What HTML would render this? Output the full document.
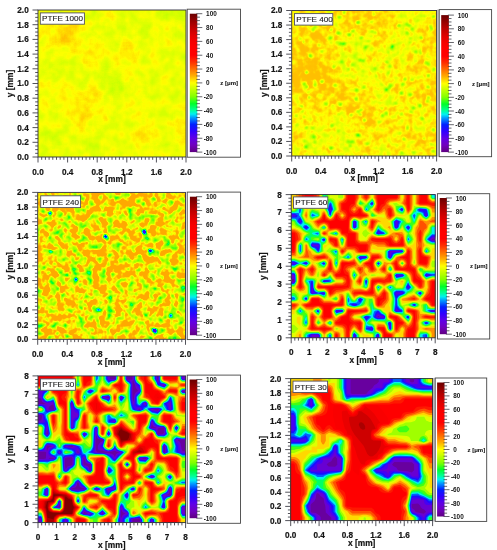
<!DOCTYPE html><html><head><meta charset="utf-8"><style>html,body{margin:0;padding:0;background:#fff;}svg{display:block}</style></head><body><svg width="497" height="550" viewBox="0 0 497 550"><defs><linearGradient id="cbg" x1="0" y1="0" x2="0" y2="1"><stop offset="0.0000" stop-color="#690000"/><stop offset="0.0250" stop-color="#800000"/><stop offset="0.0500" stop-color="#960000"/><stop offset="0.0750" stop-color="#aa0000"/><stop offset="0.1000" stop-color="#be0000"/><stop offset="0.1250" stop-color="#ce0000"/><stop offset="0.1500" stop-color="#de0000"/><stop offset="0.1750" stop-color="#ea0000"/><stop offset="0.2000" stop-color="#f50000"/><stop offset="0.2250" stop-color="#fa0000"/><stop offset="0.2500" stop-color="#ff0000"/><stop offset="0.2750" stop-color="#ff0000"/><stop offset="0.3000" stop-color="#ff0000"/><stop offset="0.3250" stop-color="#ff1800"/><stop offset="0.3500" stop-color="#ff3000"/><stop offset="0.3750" stop-color="#ff5000"/><stop offset="0.4000" stop-color="#ff7000"/><stop offset="0.4250" stop-color="#ff9000"/><stop offset="0.4500" stop-color="#ffb000"/><stop offset="0.4750" stop-color="#ffd800"/><stop offset="0.5000" stop-color="#ffff00"/><stop offset="0.5250" stop-color="#e0ff00"/><stop offset="0.5500" stop-color="#c0ff00"/><stop offset="0.5750" stop-color="#a0ff00"/><stop offset="0.6000" stop-color="#80ff00"/><stop offset="0.6250" stop-color="#40ff14"/><stop offset="0.6500" stop-color="#00ff28"/><stop offset="0.6750" stop-color="#00ff64"/><stop offset="0.7000" stop-color="#00ffa0"/><stop offset="0.7250" stop-color="#00f0f0"/><stop offset="0.7500" stop-color="#00a0ff"/><stop offset="0.7750" stop-color="#0060ff"/><stop offset="0.8000" stop-color="#0020ff"/><stop offset="0.8250" stop-color="#1810ff"/><stop offset="0.8500" stop-color="#3000ff"/><stop offset="0.8750" stop-color="#4800f2"/><stop offset="0.9000" stop-color="#6000e6"/><stop offset="0.9250" stop-color="#6800d2"/><stop offset="0.9500" stop-color="#7000be"/><stop offset="0.9750" stop-color="#68009f"/><stop offset="1.0000" stop-color="#600080"/></linearGradient></defs><rect width="497" height="550" fill="#fff"/><clipPath id="c1"><rect x="38.00" y="10.00" width="148.00" height="147.00"/></clipPath><filter id="f1" filterUnits="userSpaceOnUse" x="30.00" y="2.00" width="164.00" height="163.00" color-interpolation-filters="sRGB"><feGaussianBlur in="SourceGraphic" stdDeviation="0.80" result="b"/><feTurbulence type="fractalNoise" baseFrequency="0.100" numOctaves="2" seed="10" result="n"/><feColorMatrix in="n" type="matrix" values="1 0 0 0 0 1 0 0 0 0 1 0 0 0 0 0 0 0 0 1" result="ng"/><feComposite in="b" in2="ng" operator="arithmetic" k1="0" k2="1" k3="0.070" k4="-0.035" result="s"/><feComponentTransfer in="s"><feFuncR type="table" tableValues="0.376 0.392 0.408 0.424 0.439 0.424 0.408 0.392 0.376 0.329 0.282 0.235 0.188 0.141 0.094 0.047 0.000 0.000 0.000 0.000 0.000 0.000 0.000 0.000 0.000 0.000 0.000 0.000 0.000 0.125 0.251 0.376 0.502 0.565 0.627 0.690 0.753 0.815 0.876 0.938 1.000 1.000 1.000 1.000 1.000 1.000 1.000 1.000 1.000 1.000 1.000 1.000 1.000 1.000 1.000 1.000 1.000 1.000 1.000 1.000 1.000 1.000 1.000 1.000 1.000 1.000 1.000 1.000 1.000 1.000 1.000 1.000 1.000 1.000 1.000 1.000 1.000 1.000 1.000 1.000 1.000"/><feFuncG type="table" tableValues="0.000 0.000 0.000 0.000 0.000 0.000 0.000 0.000 0.000 0.000 0.000 0.000 0.000 0.031 0.063 0.094 0.125 0.251 0.376 0.502 0.627 0.784 0.941 0.971 1.000 1.000 1.000 1.000 1.000 1.000 1.000 1.000 1.000 1.000 1.000 1.000 1.000 1.000 1.000 1.000 1.000 0.923 0.845 0.768 0.721 0.721 0.721 0.721 0.721 0.721 0.721 0.721 0.721 0.721 0.721 0.721 0.721 0.721 0.721 0.721 0.721 0.721 0.721 0.721 0.721 0.721 0.721 0.721 0.721 0.721 0.721 0.721 0.721 0.721 0.721 0.721 0.721 0.721 0.721 0.721 0.721"/><feFuncB type="table" tableValues="0.502 0.563 0.624 0.684 0.745 0.784 0.824 0.863 0.902 0.926 0.951 0.975 1.000 1.000 1.000 1.000 1.000 1.000 1.000 1.000 1.000 0.971 0.941 0.784 0.627 0.510 0.392 0.275 0.157 0.118 0.078 0.039 0.000 0.000 0.000 0.000 0.000 0.000 0.000 0.000 0.000 0.000 0.000 0.000 0.000 0.000 0.000 0.000 0.000 0.000 0.000 0.000 0.000 0.000 0.000 0.000 0.000 0.000 0.000 0.000 0.000 0.000 0.000 0.000 0.000 0.000 0.000 0.000 0.000 0.000 0.000 0.000 0.000 0.000 0.000 0.000 0.000 0.000 0.000 0.000 0.000"/><feFuncA type="linear" slope="0" intercept="1"/></feComponentTransfer></filter><filter id="g1" filterUnits="userSpaceOnUse" x="-20" y="-20" width="188.00" height="187.00" color-interpolation-filters="sRGB"><feGaussianBlur stdDeviation="4.00"/></filter><g clip-path="url(#c1)"><g filter="url(#f1)"><g transform="translate(38.00,10.00)"><g filter="url(#g1)"><rect x="-20" y="-20" width="188.00" height="187.00" fill="#7d7d7d"/><rect x="-20.00" y="-20.00" width="81.97" height="32.55" fill="#7c7c7c"/><rect x="61.67" y="-20.00" width="12.63" height="32.55" fill="#808080"/><rect x="74.00" y="-20.00" width="49.63" height="32.55" fill="#7c7c7c"/><rect x="123.33" y="-20.00" width="44.97" height="32.55" fill="#787878"/><rect x="-20.00" y="12.25" width="32.63" height="12.55" fill="#808080"/><rect x="12.33" y="12.25" width="12.63" height="12.55" fill="#848484"/><rect x="24.67" y="12.25" width="12.63" height="12.55" fill="#888888"/><rect x="37.00" y="12.25" width="12.63" height="12.55" fill="#808080"/><rect x="49.33" y="12.25" width="24.97" height="12.55" fill="#7c7c7c"/><rect x="74.00" y="12.25" width="12.63" height="12.55" fill="#787878"/><rect x="86.33" y="12.25" width="12.63" height="12.55" fill="#7c7c7c"/><rect x="98.67" y="12.25" width="12.63" height="12.55" fill="#787878"/><rect x="111.00" y="12.25" width="12.63" height="12.55" fill="#7c7c7c"/><rect x="123.33" y="12.25" width="12.63" height="12.55" fill="#808080"/><rect x="135.67" y="12.25" width="32.63" height="12.55" fill="#7c7c7c"/><rect x="-20.00" y="24.50" width="32.63" height="12.55" fill="#808080"/><rect x="12.33" y="24.50" width="12.63" height="12.55" fill="#848484"/><rect x="24.67" y="24.50" width="12.63" height="12.55" fill="#888888"/><rect x="37.00" y="24.50" width="24.97" height="12.55" fill="#808080"/><rect x="61.67" y="24.50" width="24.97" height="12.55" fill="#7c7c7c"/><rect x="86.33" y="24.50" width="12.63" height="12.55" fill="#808080"/><rect x="98.67" y="24.50" width="24.97" height="12.55" fill="#7c7c7c"/><rect x="123.33" y="24.50" width="12.63" height="12.55" fill="#808080"/><rect x="135.67" y="24.50" width="32.63" height="12.55" fill="#7c7c7c"/><rect x="-20.00" y="36.75" width="57.30" height="12.55" fill="#7c7c7c"/><rect x="37.00" y="36.75" width="12.63" height="12.55" fill="#808080"/><rect x="49.33" y="36.75" width="12.63" height="12.55" fill="#848484"/><rect x="61.67" y="36.75" width="12.63" height="12.55" fill="#7c7c7c"/><rect x="74.00" y="36.75" width="12.63" height="12.55" fill="#808080"/><rect x="86.33" y="36.75" width="12.63" height="12.55" fill="#848484"/><rect x="98.67" y="36.75" width="69.63" height="12.55" fill="#7c7c7c"/><rect x="-20.00" y="49.00" width="32.63" height="12.55" fill="#7c7c7c"/><rect x="12.33" y="49.00" width="12.63" height="12.55" fill="#787878"/><rect x="24.67" y="49.00" width="24.97" height="12.55" fill="#7c7c7c"/><rect x="49.33" y="49.00" width="12.63" height="12.55" fill="#808080"/><rect x="61.67" y="49.00" width="12.63" height="12.55" fill="#7c7c7c"/><rect x="74.00" y="49.00" width="24.97" height="12.55" fill="#808080"/><rect x="98.67" y="49.00" width="69.63" height="12.55" fill="#7c7c7c"/><rect x="-20.00" y="61.25" width="44.97" height="12.55" fill="#7c7c7c"/><rect x="24.67" y="61.25" width="12.63" height="12.55" fill="#787878"/><rect x="37.00" y="61.25" width="24.97" height="12.55" fill="#7c7c7c"/><rect x="61.67" y="61.25" width="24.97" height="12.55" fill="#787878"/><rect x="86.33" y="61.25" width="12.63" height="12.55" fill="#808080"/><rect x="98.67" y="61.25" width="69.63" height="12.55" fill="#7c7c7c"/><rect x="-20.00" y="73.50" width="57.30" height="12.55" fill="#808080"/><rect x="37.00" y="73.50" width="12.63" height="12.55" fill="#7c7c7c"/><rect x="49.33" y="73.50" width="12.63" height="12.55" fill="#848484"/><rect x="61.67" y="73.50" width="12.63" height="12.55" fill="#787878"/><rect x="74.00" y="73.50" width="12.63" height="12.55" fill="#737373"/><rect x="86.33" y="73.50" width="12.63" height="12.55" fill="#7c7c7c"/><rect x="98.67" y="73.50" width="12.63" height="12.55" fill="#808080"/><rect x="111.00" y="73.50" width="57.30" height="12.55" fill="#7c7c7c"/><rect x="-20.00" y="85.75" width="32.63" height="12.55" fill="#7c7c7c"/><rect x="12.33" y="85.75" width="24.97" height="12.55" fill="#808080"/><rect x="37.00" y="85.75" width="24.97" height="12.55" fill="#848484"/><rect x="61.67" y="85.75" width="12.63" height="12.55" fill="#808080"/><rect x="74.00" y="85.75" width="12.63" height="12.55" fill="#7c7c7c"/><rect x="86.33" y="85.75" width="12.63" height="12.55" fill="#808080"/><rect x="98.67" y="85.75" width="69.63" height="12.55" fill="#7c7c7c"/><rect x="-20.00" y="98.00" width="44.97" height="12.55" fill="#7c7c7c"/><rect x="24.67" y="98.00" width="12.63" height="12.55" fill="#808080"/><rect x="37.00" y="98.00" width="12.63" height="12.55" fill="#848484"/><rect x="49.33" y="98.00" width="24.97" height="12.55" fill="#808080"/><rect x="74.00" y="98.00" width="24.97" height="12.55" fill="#7c7c7c"/><rect x="98.67" y="98.00" width="12.63" height="12.55" fill="#808080"/><rect x="111.00" y="98.00" width="24.97" height="12.55" fill="#7c7c7c"/><rect x="135.67" y="98.00" width="32.63" height="12.55" fill="#808080"/><rect x="-20.00" y="110.25" width="57.30" height="12.55" fill="#7c7c7c"/><rect x="37.00" y="110.25" width="12.63" height="12.55" fill="#848484"/><rect x="49.33" y="110.25" width="49.63" height="12.55" fill="#7c7c7c"/><rect x="98.67" y="110.25" width="12.63" height="12.55" fill="#848484"/><rect x="111.00" y="110.25" width="24.97" height="12.55" fill="#7c7c7c"/><rect x="135.67" y="110.25" width="32.63" height="12.55" fill="#848484"/><rect x="-20.00" y="122.50" width="32.63" height="12.55" fill="#7c7c7c"/><rect x="12.33" y="122.50" width="12.63" height="12.55" fill="#787878"/><rect x="24.67" y="122.50" width="24.97" height="12.55" fill="#7c7c7c"/><rect x="49.33" y="122.50" width="12.63" height="12.55" fill="#787878"/><rect x="61.67" y="122.50" width="37.30" height="12.55" fill="#7c7c7c"/><rect x="98.67" y="122.50" width="12.63" height="12.55" fill="#848484"/><rect x="111.00" y="122.50" width="12.63" height="12.55" fill="#808080"/><rect x="123.33" y="122.50" width="12.63" height="12.55" fill="#7c7c7c"/><rect x="135.67" y="122.50" width="32.63" height="12.55" fill="#808080"/><rect x="-20.00" y="134.75" width="69.63" height="32.55" fill="#7c7c7c"/><rect x="49.33" y="134.75" width="12.63" height="32.55" fill="#787878"/><rect x="61.67" y="134.75" width="37.30" height="32.55" fill="#7c7c7c"/><rect x="98.67" y="134.75" width="12.63" height="32.55" fill="#808080"/><rect x="111.00" y="134.75" width="57.30" height="32.55" fill="#7c7c7c"/></g></g></g></g><rect x="38.00" y="10.00" width="148.00" height="147.00" fill="none" stroke="#303040" stroke-width="0.9"/><path d="M38.00 157.00v5.50M38.00 157.00h-5.50M41.70 157.00v2.80M38.00 153.32h-2.80M45.40 157.00v2.80M38.00 149.65h-2.80M49.10 157.00v2.80M38.00 145.97h-2.80M52.80 157.00v2.80M38.00 142.30h-5.50M56.50 157.00v2.80M38.00 138.62h-2.80M60.20 157.00v2.80M38.00 134.95h-2.80M63.90 157.00v2.80M38.00 131.28h-2.80M67.60 157.00v5.50M38.00 127.60h-5.50M71.30 157.00v2.80M38.00 123.92h-2.80M75.00 157.00v2.80M38.00 120.25h-2.80M78.70 157.00v2.80M38.00 116.57h-2.80M82.40 157.00v2.80M38.00 112.90h-5.50M86.10 157.00v2.80M38.00 109.22h-2.80M89.80 157.00v2.80M38.00 105.55h-2.80M93.50 157.00v2.80M38.00 101.88h-2.80M97.20 157.00v5.50M38.00 98.20h-5.50M100.90 157.00v2.80M38.00 94.52h-2.80M104.60 157.00v2.80M38.00 90.85h-2.80M108.30 157.00v2.80M38.00 87.17h-2.80M112.00 157.00v2.80M38.00 83.50h-5.50M115.70 157.00v2.80M38.00 79.83h-2.80M119.40 157.00v2.80M38.00 76.15h-2.80M123.10 157.00v2.80M38.00 72.47h-2.80M126.80 157.00v5.50M38.00 68.80h-5.50M130.50 157.00v2.80M38.00 65.12h-2.80M134.20 157.00v2.80M38.00 61.45h-2.80M137.90 157.00v2.80M38.00 57.77h-2.80M141.60 157.00v2.80M38.00 54.10h-5.50M145.30 157.00v2.80M38.00 50.42h-2.80M149.00 157.00v2.80M38.00 46.75h-2.80M152.70 157.00v2.80M38.00 43.08h-2.80M156.40 157.00v5.50M38.00 39.40h-5.50M160.10 157.00v2.80M38.00 35.72h-2.80M163.80 157.00v2.80M38.00 32.05h-2.80M167.50 157.00v2.80M38.00 28.38h-2.80M171.20 157.00v2.80M38.00 24.70h-5.50M174.90 157.00v2.80M38.00 21.03h-2.80M178.60 157.00v2.80M38.00 17.35h-2.80M182.30 157.00v2.80M38.00 13.67h-2.80M186.00 157.00v5.50M38.00 10.00h-5.50" stroke="#404048" stroke-width="0.9" fill="none"/><g font-family="'Liberation Sans', Arial, sans-serif" font-weight="bold" font-size="8.2" fill="#151515" stroke="#151515" stroke-width="0.2"><text x="38.00" y="174.50" text-anchor="middle">0.0</text><text x="67.60" y="174.50" text-anchor="middle">0.4</text><text x="97.20" y="174.50" text-anchor="middle">0.8</text><text x="126.80" y="174.50" text-anchor="middle">1.2</text><text x="156.40" y="174.50" text-anchor="middle">1.6</text><text x="186.00" y="174.50" text-anchor="middle">2.0</text><text x="28.70" y="159.90" text-anchor="end">0.0</text><text x="28.70" y="145.20" text-anchor="end">0.2</text><text x="28.70" y="130.50" text-anchor="end">0.4</text><text x="28.70" y="115.80" text-anchor="end">0.6</text><text x="28.70" y="101.10" text-anchor="end">0.8</text><text x="28.70" y="86.40" text-anchor="end">1.0</text><text x="28.70" y="71.70" text-anchor="end">1.2</text><text x="28.70" y="57.00" text-anchor="end">1.4</text><text x="28.70" y="42.30" text-anchor="end">1.6</text><text x="28.70" y="27.60" text-anchor="end">1.8</text><text x="28.70" y="12.90" text-anchor="end">2.0</text></g><text x="112.00" y="182.20" text-anchor="middle" font-family="'Liberation Sans', Arial, sans-serif" font-weight="bold" font-size="8.4" fill="#151515" stroke="#151515" stroke-width="0.2">x [mm]</text><text transform="translate(13.20,83.50) rotate(-90)" text-anchor="middle" font-family="'Liberation Sans', Arial, sans-serif" font-weight="bold" font-size="8.4" fill="#151515" stroke="#151515" stroke-width="0.2">y [mm]</text><rect x="40.30" y="12.90" width="44.10" height="11.30" fill="#fff" stroke="#505060" stroke-width="0.9"/><text x="42.10" y="21.30" font-family="'Liberation Sans', Arial, sans-serif" font-size="8.1" fill="#202020" stroke="#202020" stroke-width="0.12">PTFE 1000</text><rect x="187.20" y="9.20" width="53.30" height="148.00" fill="#fff" stroke="#454545" stroke-width="0.9"/><rect x="189.80" y="13.70" width="7.50" height="138.40" fill="url(#cbg)"/><path d="M196.30 13.70h6.00M196.30 17.16h3.60M196.30 20.62h3.60M196.30 24.08h3.60M196.30 27.54h6.00M196.30 31.00h3.60M196.30 34.46h3.60M196.30 37.92h3.60M196.30 41.38h6.00M196.30 44.84h3.60M196.30 48.30h3.60M196.30 51.76h3.60M196.30 55.22h6.00M196.30 58.68h3.60M196.30 62.14h3.60M196.30 65.60h3.60M196.30 69.06h6.00M196.30 72.52h3.60M196.30 75.98h3.60M196.30 79.44h3.60M196.30 82.90h6.00M196.30 86.36h3.60M196.30 89.82h3.60M196.30 93.28h3.60M196.30 96.74h6.00M196.30 100.20h3.60M196.30 103.66h3.60M196.30 107.12h3.60M196.30 110.58h6.00M196.30 114.04h3.60M196.30 117.50h3.60M196.30 120.96h3.60M196.30 124.42h6.00M196.30 127.88h3.60M196.30 131.34h3.60M196.30 134.80h3.60M196.30 138.26h6.00M196.30 141.72h3.60M196.30 145.18h3.60M196.30 148.64h3.60M196.30 152.10h6.00" stroke="#404048" stroke-width="0.8" fill="none"/><g font-family="'Liberation Sans', Arial, sans-serif" font-weight="bold" font-size="6.4" fill="#151515"><text x="206.10" y="16.20">100</text><text x="206.10" y="30.04">80</text><text x="206.10" y="43.88">60</text><text x="206.10" y="57.72">40</text><text x="206.10" y="71.56">20</text><text x="206.10" y="85.40">0</text><text x="203.70" y="99.24">-20</text><text x="203.70" y="113.08">-40</text><text x="203.70" y="126.92">-60</text><text x="203.70" y="140.76">-80</text><text x="203.70" y="154.60">-100</text></g><text x="220.30" y="85.00" font-family="'Liberation Sans', Arial, sans-serif" font-weight="bold" font-size="6.0" fill="#151515" stroke="#151515" stroke-width="0.1">z [μm]</text><clipPath id="c2"><rect x="291.70" y="10.50" width="144.90" height="145.50"/></clipPath><filter id="f2" filterUnits="userSpaceOnUse" x="283.70" y="2.50" width="160.90" height="161.50" color-interpolation-filters="sRGB"><feGaussianBlur in="SourceGraphic" stdDeviation="0.80" result="b"/><feTurbulence type="fractalNoise" baseFrequency="0.150" numOctaves="2" seed="17" result="n"/><feColorMatrix in="n" type="matrix" values="1 0 0 0 0 1 0 0 0 0 1 0 0 0 0 0 0 0 0 1" result="ng"/><feComposite in="b" in2="ng" operator="arithmetic" k1="0" k2="1" k3="0.120" k4="-0.060" result="s"/><feComponentTransfer in="s"><feFuncR type="table" tableValues="0.376 0.392 0.408 0.424 0.439 0.424 0.408 0.392 0.376 0.329 0.282 0.235 0.188 0.141 0.094 0.047 0.000 0.000 0.000 0.000 0.000 0.000 0.000 0.000 0.000 0.000 0.000 0.000 0.000 0.125 0.251 0.376 0.502 0.565 0.627 0.690 0.753 0.815 0.876 0.938 1.000 1.000 1.000 1.000 1.000 1.000 1.000 1.000 1.000 1.000 1.000 1.000 1.000 1.000 1.000 1.000 1.000 1.000 1.000 1.000 1.000 1.000 1.000 1.000 1.000 1.000 1.000 1.000 1.000 1.000 1.000 1.000 1.000 1.000 1.000 1.000 1.000 1.000 1.000 1.000 1.000"/><feFuncG type="table" tableValues="0.000 0.000 0.000 0.000 0.000 0.000 0.000 0.000 0.000 0.000 0.000 0.000 0.000 0.031 0.063 0.094 0.125 0.251 0.376 0.502 0.627 0.784 0.941 0.971 1.000 1.000 1.000 1.000 1.000 1.000 1.000 1.000 1.000 1.000 1.000 1.000 1.000 1.000 1.000 1.000 1.000 0.923 0.845 0.768 0.752 0.752 0.752 0.752 0.752 0.752 0.752 0.752 0.752 0.752 0.752 0.752 0.752 0.752 0.752 0.752 0.752 0.752 0.752 0.752 0.752 0.752 0.752 0.752 0.752 0.752 0.752 0.752 0.752 0.752 0.752 0.752 0.752 0.752 0.752 0.752 0.752"/><feFuncB type="table" tableValues="0.502 0.563 0.624 0.684 0.745 0.784 0.824 0.863 0.902 0.926 0.951 0.975 1.000 1.000 1.000 1.000 1.000 1.000 1.000 1.000 1.000 0.971 0.941 0.784 0.627 0.510 0.392 0.275 0.157 0.118 0.078 0.039 0.000 0.000 0.000 0.000 0.000 0.000 0.000 0.000 0.000 0.000 0.000 0.000 0.000 0.000 0.000 0.000 0.000 0.000 0.000 0.000 0.000 0.000 0.000 0.000 0.000 0.000 0.000 0.000 0.000 0.000 0.000 0.000 0.000 0.000 0.000 0.000 0.000 0.000 0.000 0.000 0.000 0.000 0.000 0.000 0.000 0.000 0.000 0.000 0.000"/><feFuncA type="linear" slope="0" intercept="1"/></feComponentTransfer></filter><filter id="g2" filterUnits="userSpaceOnUse" x="-20" y="-20" width="184.90" height="185.50" color-interpolation-filters="sRGB"><feGaussianBlur stdDeviation="5.00"/></filter><g clip-path="url(#c2)"><g filter="url(#f2)"><g transform="translate(291.70,10.50)"><g filter="url(#g2)"><rect x="-20" y="-20" width="184.90" height="185.50" fill="#838383"/><rect x="-20.00" y="-20.00" width="68.60" height="32.42" fill="#828282"/><rect x="48.30" y="-20.00" width="24.45" height="32.42" fill="#878787"/><rect x="72.45" y="-20.00" width="12.38" height="32.42" fill="#828282"/><rect x="84.53" y="-20.00" width="12.38" height="32.42" fill="#878787"/><rect x="96.60" y="-20.00" width="12.38" height="32.42" fill="#828282"/><rect x="108.68" y="-20.00" width="24.45" height="32.42" fill="#7d7d7d"/><rect x="132.83" y="-20.00" width="32.38" height="32.42" fill="#828282"/><rect x="-20.00" y="12.12" width="32.38" height="12.43" fill="#828282"/><rect x="12.08" y="12.12" width="24.45" height="12.43" fill="#878787"/><rect x="36.23" y="12.12" width="24.45" height="12.43" fill="#828282"/><rect x="60.38" y="12.12" width="36.53" height="12.43" fill="#878787"/><rect x="96.60" y="12.12" width="12.38" height="12.43" fill="#828282"/><rect x="108.68" y="12.12" width="12.38" height="12.43" fill="#7d7d7d"/><rect x="120.75" y="12.12" width="12.38" height="12.43" fill="#828282"/><rect x="132.83" y="12.12" width="32.38" height="12.43" fill="#878787"/><rect x="-20.00" y="24.25" width="56.53" height="12.43" fill="#878787"/><rect x="36.23" y="24.25" width="24.45" height="12.43" fill="#828282"/><rect x="60.38" y="24.25" width="24.45" height="12.43" fill="#7d7d7d"/><rect x="84.53" y="24.25" width="12.38" height="12.43" fill="#828282"/><rect x="96.60" y="24.25" width="24.45" height="12.43" fill="#7d7d7d"/><rect x="120.75" y="24.25" width="12.38" height="12.43" fill="#828282"/><rect x="132.83" y="24.25" width="32.38" height="12.43" fill="#878787"/><rect x="-20.00" y="36.38" width="44.45" height="12.43" fill="#878787"/><rect x="24.15" y="36.38" width="24.45" height="12.43" fill="#828282"/><rect x="48.30" y="36.38" width="24.45" height="12.43" fill="#7d7d7d"/><rect x="72.45" y="36.38" width="24.45" height="12.43" fill="#828282"/><rect x="96.60" y="36.38" width="24.45" height="12.43" fill="#7d7d7d"/><rect x="120.75" y="36.38" width="44.45" height="12.43" fill="#828282"/><rect x="-20.00" y="48.50" width="32.38" height="12.43" fill="#878787"/><rect x="12.08" y="48.50" width="12.38" height="12.43" fill="#8c8c8c"/><rect x="24.15" y="48.50" width="12.38" height="12.43" fill="#878787"/><rect x="36.23" y="48.50" width="12.38" height="12.43" fill="#828282"/><rect x="48.30" y="48.50" width="48.60" height="12.43" fill="#7d7d7d"/><rect x="96.60" y="48.50" width="24.45" height="12.43" fill="#828282"/><rect x="120.75" y="48.50" width="12.38" height="12.43" fill="#878787"/><rect x="132.83" y="48.50" width="32.38" height="12.43" fill="#828282"/><rect x="-20.00" y="60.62" width="56.53" height="12.43" fill="#8c8c8c"/><rect x="36.23" y="60.62" width="12.38" height="12.43" fill="#878787"/><rect x="48.30" y="60.62" width="12.38" height="12.43" fill="#828282"/><rect x="60.38" y="60.62" width="24.45" height="12.43" fill="#7d7d7d"/><rect x="84.53" y="60.62" width="80.68" height="12.43" fill="#828282"/><rect x="-20.00" y="72.75" width="68.60" height="12.43" fill="#878787"/><rect x="48.30" y="72.75" width="36.53" height="12.43" fill="#828282"/><rect x="84.53" y="72.75" width="12.38" height="12.43" fill="#7d7d7d"/><rect x="96.60" y="72.75" width="36.53" height="12.43" fill="#828282"/><rect x="132.83" y="72.75" width="32.38" height="12.43" fill="#878787"/><rect x="-20.00" y="84.88" width="32.38" height="12.43" fill="#828282"/><rect x="12.08" y="84.88" width="12.38" height="12.43" fill="#878787"/><rect x="24.15" y="84.88" width="12.38" height="12.43" fill="#828282"/><rect x="36.23" y="84.88" width="36.53" height="12.43" fill="#878787"/><rect x="72.45" y="84.88" width="12.38" height="12.43" fill="#828282"/><rect x="84.53" y="84.88" width="24.45" height="12.43" fill="#7d7d7d"/><rect x="108.68" y="84.88" width="24.45" height="12.43" fill="#828282"/><rect x="132.83" y="84.88" width="32.38" height="12.43" fill="#878787"/><rect x="-20.00" y="97.00" width="80.68" height="12.43" fill="#828282"/><rect x="60.38" y="97.00" width="24.45" height="12.43" fill="#878787"/><rect x="84.53" y="97.00" width="80.68" height="12.43" fill="#828282"/><rect x="-20.00" y="109.12" width="44.45" height="12.43" fill="#828282"/><rect x="24.15" y="109.12" width="36.53" height="12.43" fill="#7d7d7d"/><rect x="60.38" y="109.12" width="12.38" height="12.43" fill="#828282"/><rect x="72.45" y="109.12" width="12.38" height="12.43" fill="#878787"/><rect x="84.53" y="109.12" width="36.53" height="12.43" fill="#828282"/><rect x="120.75" y="109.12" width="12.38" height="12.43" fill="#7d7d7d"/><rect x="132.83" y="109.12" width="32.38" height="12.43" fill="#828282"/><rect x="-20.00" y="121.25" width="32.38" height="12.43" fill="#828282"/><rect x="12.08" y="121.25" width="48.60" height="12.43" fill="#7d7d7d"/><rect x="60.38" y="121.25" width="60.68" height="12.43" fill="#828282"/><rect x="120.75" y="121.25" width="44.45" height="12.43" fill="#878787"/><rect x="-20.00" y="133.38" width="32.38" height="32.42" fill="#828282"/><rect x="12.08" y="133.38" width="24.45" height="32.42" fill="#7d7d7d"/><rect x="36.23" y="133.38" width="12.38" height="32.42" fill="#828282"/><rect x="48.30" y="133.38" width="12.38" height="32.42" fill="#7d7d7d"/><rect x="60.38" y="133.38" width="24.45" height="32.42" fill="#828282"/><rect x="84.53" y="133.38" width="12.38" height="32.42" fill="#7d7d7d"/><rect x="96.60" y="133.38" width="12.38" height="32.42" fill="#828282"/><rect x="108.68" y="133.38" width="12.38" height="32.42" fill="#7d7d7d"/><rect x="120.75" y="133.38" width="44.45" height="32.42" fill="#828282"/></g><ellipse cx="47.7" cy="23.3" rx="1.5" ry="1.2" fill="#5c5c5c"/><ellipse cx="117.8" cy="15.3" rx="1.4" ry="1.2" fill="#4c4c4c"/><ellipse cx="32.3" cy="14.1" rx="1.4" ry="1.1" fill="#575757"/><ellipse cx="14.8" cy="61.9" rx="1.6" ry="1.3" fill="#5c5c5c"/><ellipse cx="135.6" cy="90.9" rx="1.4" ry="1.2" fill="#5c5c5c"/><ellipse cx="83.4" cy="57.9" rx="1.7" ry="1.3" fill="#5c5c5c"/><ellipse cx="80.5" cy="20.8" rx="1.4" ry="1.1" fill="#4c4c4c"/><ellipse cx="18.6" cy="45.5" rx="1.6" ry="1.3" fill="#575757"/><ellipse cx="16.5" cy="82.5" rx="1.2" ry="1.0" fill="#5c5c5c"/><ellipse cx="79.2" cy="10.9" rx="1.1" ry="0.9" fill="#575757"/><ellipse cx="72.0" cy="77.0" rx="1.6" ry="1.3" fill="#535353"/><ellipse cx="84.6" cy="65.9" rx="1.3" ry="1.0" fill="#575757"/><ellipse cx="100.6" cy="36.4" rx="1.4" ry="1.2" fill="#4c4c4c"/><ellipse cx="71.8" cy="50.4" rx="1.4" ry="1.1" fill="#4c4c4c"/><ellipse cx="140.2" cy="18.6" rx="1.4" ry="1.1" fill="#535353"/><ellipse cx="23.4" cy="70.9" rx="1.1" ry="0.9" fill="#5c5c5c"/><ellipse cx="109.8" cy="82.8" rx="1.6" ry="1.3" fill="#535353"/><ellipse cx="50.0" cy="51.4" rx="1.4" ry="1.1" fill="#535353"/><ellipse cx="11.7" cy="15.2" rx="1.3" ry="1.0" fill="#5c5c5c"/><ellipse cx="10.6" cy="100.9" rx="1.5" ry="1.2" fill="#535353"/><ellipse cx="42.1" cy="56.4" rx="1.5" ry="1.2" fill="#5c5c5c"/><ellipse cx="134.6" cy="52.1" rx="1.5" ry="1.2" fill="#535353"/><ellipse cx="10.3" cy="110.3" rx="1.2" ry="0.9" fill="#575757"/><ellipse cx="58.1" cy="131.3" rx="1.4" ry="1.1" fill="#575757"/><ellipse cx="65.3" cy="79.5" rx="1.6" ry="1.3" fill="#535353"/><ellipse cx="123.8" cy="41.3" rx="1.3" ry="1.1" fill="#535353"/><ellipse cx="98.3" cy="55.6" rx="1.2" ry="1.0" fill="#5c5c5c"/><ellipse cx="26.8" cy="34.7" rx="1.2" ry="1.0" fill="#535353"/><ellipse cx="119.2" cy="27.7" rx="1.3" ry="1.0" fill="#575757"/><ellipse cx="61.1" cy="54.1" rx="1.4" ry="1.2" fill="#575757"/><ellipse cx="99.4" cy="74.7" rx="1.5" ry="1.2" fill="#5c5c5c"/><ellipse cx="66.4" cy="124.8" rx="1.7" ry="1.3" fill="#4c4c4c"/><ellipse cx="57.3" cy="58.3" rx="1.2" ry="0.9" fill="#535353"/><ellipse cx="10.8" cy="11.5" rx="1.2" ry="1.0" fill="#575757"/><ellipse cx="17.5" cy="86.7" rx="1.2" ry="0.9" fill="#4c4c4c"/><ellipse cx="23.3" cy="16.3" rx="1.3" ry="1.1" fill="#5c5c5c"/><ellipse cx="11.9" cy="31.3" rx="1.3" ry="1.1" fill="#535353"/><ellipse cx="136.7" cy="86.9" rx="1.4" ry="1.1" fill="#5c5c5c"/><ellipse cx="121.7" cy="142.0" rx="1.4" ry="1.1" fill="#535353"/><ellipse cx="46.0" cy="22.3" rx="1.5" ry="1.2" fill="#535353"/><ellipse cx="69.5" cy="99.6" rx="1.4" ry="1.1" fill="#575757"/><ellipse cx="136.1" cy="76.5" rx="1.2" ry="1.0" fill="#4c4c4c"/><ellipse cx="130.9" cy="108.9" rx="1.3" ry="1.0" fill="#5c5c5c"/><ellipse cx="100.2" cy="38.8" rx="1.3" ry="1.1" fill="#575757"/><ellipse cx="52.2" cy="33.4" rx="1.4" ry="1.1" fill="#4c4c4c"/><ellipse cx="48.5" cy="33.4" rx="1.6" ry="1.3" fill="#575757"/><ellipse cx="115.7" cy="117.4" rx="1.5" ry="1.2" fill="#575757"/><ellipse cx="30.2" cy="71.5" rx="1.5" ry="1.2" fill="#5c5c5c"/><ellipse cx="113.4" cy="68.6" rx="1.2" ry="1.0" fill="#4c4c4c"/><ellipse cx="136.9" cy="65.1" rx="1.7" ry="1.3" fill="#535353"/><ellipse cx="136.7" cy="53.4" rx="1.2" ry="1.0" fill="#575757"/><ellipse cx="68.3" cy="49.6" rx="1.4" ry="1.1" fill="#4c4c4c"/><ellipse cx="120.5" cy="69.6" rx="1.5" ry="1.2" fill="#5c5c5c"/><ellipse cx="119.7" cy="18.9" rx="1.3" ry="1.1" fill="#575757"/><ellipse cx="69.4" cy="27.2" rx="1.6" ry="1.3" fill="#535353"/><ellipse cx="14.2" cy="135.4" rx="1.5" ry="1.2" fill="#535353"/><ellipse cx="58.6" cy="135.5" rx="1.5" ry="1.2" fill="#575757"/><ellipse cx="142.0" cy="5.9" rx="1.5" ry="1.2" fill="#535353"/><ellipse cx="115.7" cy="22.6" rx="1.6" ry="1.3" fill="#535353"/><ellipse cx="94.7" cy="51.4" rx="1.4" ry="1.1" fill="#575757"/><ellipse cx="5.0" cy="114.7" rx="1.5" ry="1.2" fill="#5c5c5c"/><ellipse cx="76.2" cy="133.6" rx="1.4" ry="1.1" fill="#575757"/><ellipse cx="118.5" cy="31.8" rx="1.3" ry="1.0" fill="#535353"/><ellipse cx="72.7" cy="109.7" rx="1.3" ry="1.0" fill="#4c4c4c"/><ellipse cx="61.1" cy="20.5" rx="1.6" ry="1.3" fill="#535353"/><ellipse cx="128.6" cy="95.4" rx="1.6" ry="1.3" fill="#4c4c4c"/><ellipse cx="61.3" cy="131.4" rx="1.4" ry="1.1" fill="#4c4c4c"/><ellipse cx="23.4" cy="74.0" rx="1.6" ry="1.3" fill="#575757"/><ellipse cx="87.8" cy="111.4" rx="1.2" ry="1.0" fill="#575757"/><ellipse cx="68.8" cy="104.3" rx="1.4" ry="1.1" fill="#535353"/><ellipse cx="98.2" cy="76.8" rx="1.4" ry="1.1" fill="#5c5c5c"/><ellipse cx="126.5" cy="10.0" rx="1.2" ry="1.0" fill="#5c5c5c"/><ellipse cx="110.9" cy="73.6" rx="1.4" ry="1.1" fill="#5c5c5c"/><ellipse cx="64.5" cy="88.4" rx="1.4" ry="1.1" fill="#4c4c4c"/><ellipse cx="30.1" cy="41.1" rx="1.4" ry="1.1" fill="#535353"/><ellipse cx="73.6" cy="36.9" rx="1.4" ry="1.1" fill="#535353"/><ellipse cx="132.1" cy="127.9" rx="1.2" ry="1.0" fill="#535353"/><ellipse cx="21.3" cy="19.1" rx="1.4" ry="1.1" fill="#5c5c5c"/><ellipse cx="96.6" cy="62.4" rx="1.2" ry="1.0" fill="#535353"/><ellipse cx="112.5" cy="128.5" rx="1.2" ry="1.0" fill="#535353"/><ellipse cx="22.2" cy="126.5" rx="1.7" ry="1.3" fill="#575757"/><ellipse cx="107.3" cy="15.3" rx="1.6" ry="1.3" fill="#575757"/><ellipse cx="141.6" cy="119.4" rx="1.2" ry="1.0" fill="#535353"/><ellipse cx="142.2" cy="58.9" rx="1.4" ry="1.1" fill="#535353"/><ellipse cx="46.9" cy="103.8" rx="1.1" ry="0.9" fill="#4c4c4c"/><ellipse cx="66.7" cy="101.1" rx="1.3" ry="1.1" fill="#4c4c4c"/><ellipse cx="90.0" cy="74.2" rx="1.1" ry="0.9" fill="#575757"/><ellipse cx="139.0" cy="16.8" rx="1.3" ry="1.0" fill="#5c5c5c"/><ellipse cx="129.7" cy="27.6" rx="1.6" ry="1.2" fill="#535353"/><ellipse cx="121.8" cy="97.3" rx="1.7" ry="1.3" fill="#535353"/><ellipse cx="23.1" cy="131.6" rx="1.4" ry="1.2" fill="#535353"/><ellipse cx="14.6" cy="10.1" rx="1.5" ry="1.2" fill="#535353"/><ellipse cx="128.2" cy="39.9" rx="1.1" ry="0.9" fill="#5c5c5c"/><ellipse cx="115.0" cy="13.8" rx="1.6" ry="1.3" fill="#5c5c5c"/><ellipse cx="39.3" cy="19.2" rx="1.1" ry="0.9" fill="#4c4c4c"/><ellipse cx="60.9" cy="131.1" rx="1.5" ry="1.2" fill="#5c5c5c"/><ellipse cx="76.3" cy="35.6" rx="1.2" ry="0.9" fill="#575757"/><ellipse cx="38.9" cy="27.5" rx="1.7" ry="1.3" fill="#535353"/><ellipse cx="76.9" cy="31.0" rx="1.4" ry="1.1" fill="#575757"/><ellipse cx="40.1" cy="115.3" rx="1.7" ry="1.4" fill="#5c5c5c"/><ellipse cx="4.2" cy="105.4" rx="1.4" ry="1.1" fill="#575757"/><ellipse cx="74.5" cy="36.6" rx="1.4" ry="1.1" fill="#535353"/><ellipse cx="94.6" cy="79.0" rx="1.6" ry="1.3" fill="#4c4c4c"/><ellipse cx="45.4" cy="32.3" rx="1.2" ry="1.0" fill="#575757"/><ellipse cx="119.4" cy="101.6" rx="1.5" ry="1.2" fill="#535353"/><ellipse cx="141.5" cy="140.4" rx="1.6" ry="1.3" fill="#5c5c5c"/><ellipse cx="12.0" cy="106.5" rx="1.3" ry="1.0" fill="#575757"/><ellipse cx="9.8" cy="95.8" rx="1.3" ry="1.1" fill="#4c4c4c"/><ellipse cx="96.5" cy="41.8" rx="1.2" ry="1.0" fill="#535353"/><ellipse cx="8.4" cy="28.1" rx="1.3" ry="1.0" fill="#5c5c5c"/><ellipse cx="39.1" cy="137.6" rx="1.7" ry="1.3" fill="#4c4c4c"/><ellipse cx="47.6" cy="6.9" rx="1.6" ry="1.3" fill="#575757"/><ellipse cx="52.3" cy="2.2" rx="1.3" ry="1.1" fill="#535353"/><ellipse cx="41.3" cy="94.5" rx="1.2" ry="1.0" fill="#5c5c5c"/><ellipse cx="14.8" cy="117.2" rx="1.2" ry="0.9" fill="#4c4c4c"/><ellipse cx="7.9" cy="5.2" rx="1.3" ry="1.0" fill="#575757"/><ellipse cx="13.9" cy="137.0" rx="1.6" ry="1.3" fill="#575757"/><ellipse cx="94.7" cy="103.0" rx="1.6" ry="1.3" fill="#535353"/><ellipse cx="109.8" cy="103.6" rx="1.4" ry="1.1" fill="#535353"/><ellipse cx="104.1" cy="92.7" rx="1.1" ry="0.9" fill="#4c4c4c"/><ellipse cx="90.5" cy="105.5" rx="1.6" ry="1.3" fill="#575757"/><ellipse cx="130.3" cy="108.2" rx="1.4" ry="1.2" fill="#5c5c5c"/><ellipse cx="118.5" cy="84.4" rx="1.6" ry="1.3" fill="#575757"/><ellipse cx="14.0" cy="7.9" rx="1.5" ry="1.2" fill="#5c5c5c"/><ellipse cx="55.1" cy="65.6" rx="1.1" ry="0.9" fill="#5c5c5c"/><ellipse cx="90.3" cy="98.0" rx="1.4" ry="1.1" fill="#5c5c5c"/><ellipse cx="66.4" cy="11.9" rx="1.7" ry="1.3" fill="#4c4c4c"/><ellipse cx="15.0" cy="76.2" rx="1.5" ry="1.2" fill="#535353"/><ellipse cx="37.6" cy="12.5" rx="1.3" ry="1.0" fill="#575757"/><ellipse cx="34.5" cy="93.6" rx="1.4" ry="1.1" fill="#535353"/><ellipse cx="12.8" cy="130.4" rx="1.3" ry="1.0" fill="#5c5c5c"/><ellipse cx="89.0" cy="92.6" rx="1.1" ry="0.9" fill="#575757"/><ellipse cx="48.8" cy="93.9" rx="1.5" ry="1.2" fill="#4c4c4c"/><ellipse cx="82.1" cy="3.8" rx="1.1" ry="0.9" fill="#535353"/><ellipse cx="139.1" cy="16.0" rx="1.2" ry="1.0" fill="#535353"/><ellipse cx="43.0" cy="74.8" rx="1.4" ry="1.1" fill="#535353"/><ellipse cx="110.2" cy="142.1" rx="1.4" ry="1.1" fill="#535353"/><ellipse cx="139.9" cy="134.0" rx="1.1" ry="0.9" fill="#535353"/><ellipse cx="12.8" cy="73.4" rx="1.7" ry="1.4" fill="#535353"/><ellipse cx="56.5" cy="131.2" rx="1.7" ry="1.3" fill="#5c5c5c"/><ellipse cx="84.0" cy="22.0" rx="1.4" ry="1.1" fill="#535353"/><ellipse cx="20.7" cy="117.7" rx="1.4" ry="1.1" fill="#5c5c5c"/><ellipse cx="101.2" cy="34.6" rx="1.6" ry="1.3" fill="#535353"/><ellipse cx="57.6" cy="24.4" rx="1.7" ry="1.3" fill="#535353"/><ellipse cx="59.2" cy="104.5" rx="1.3" ry="1.1" fill="#535353"/><ellipse cx="46.6" cy="120.5" rx="1.1" ry="0.9" fill="#535353"/><ellipse cx="120.3" cy="18.9" rx="1.7" ry="1.3" fill="#5c5c5c"/><ellipse cx="129.1" cy="42.9" rx="1.3" ry="1.1" fill="#535353"/><ellipse cx="57.0" cy="124.7" rx="1.1" ry="0.9" fill="#535353"/><ellipse cx="108.5" cy="122.4" rx="1.3" ry="1.0" fill="#5c5c5c"/></g></g></g><rect x="291.70" y="10.50" width="144.90" height="145.50" fill="none" stroke="#303040" stroke-width="0.9"/><path d="M291.70 156.00v5.50M291.70 156.00h-5.50M295.32 156.00v2.80M291.70 152.36h-2.80M298.94 156.00v2.80M291.70 148.72h-2.80M302.57 156.00v2.80M291.70 145.09h-2.80M306.19 156.00v2.80M291.70 141.45h-5.50M309.81 156.00v2.80M291.70 137.81h-2.80M313.44 156.00v2.80M291.70 134.18h-2.80M317.06 156.00v2.80M291.70 130.54h-2.80M320.68 156.00v5.50M291.70 126.90h-5.50M324.30 156.00v2.80M291.70 123.26h-2.80M327.93 156.00v2.80M291.70 119.62h-2.80M331.55 156.00v2.80M291.70 115.99h-2.80M335.17 156.00v2.80M291.70 112.35h-5.50M338.79 156.00v2.80M291.70 108.71h-2.80M342.42 156.00v2.80M291.70 105.07h-2.80M346.04 156.00v2.80M291.70 101.44h-2.80M349.66 156.00v5.50M291.70 97.80h-5.50M353.28 156.00v2.80M291.70 94.16h-2.80M356.90 156.00v2.80M291.70 90.52h-2.80M360.53 156.00v2.80M291.70 86.89h-2.80M364.15 156.00v2.80M291.70 83.25h-5.50M367.77 156.00v2.80M291.70 79.61h-2.80M371.39 156.00v2.80M291.70 75.97h-2.80M375.02 156.00v2.80M291.70 72.34h-2.80M378.64 156.00v5.50M291.70 68.70h-5.50M382.26 156.00v2.80M291.70 65.06h-2.80M385.88 156.00v2.80M291.70 61.42h-2.80M389.51 156.00v2.80M291.70 57.79h-2.80M393.13 156.00v2.80M291.70 54.15h-5.50M396.75 156.00v2.80M291.70 50.51h-2.80M400.38 156.00v2.80M291.70 46.88h-2.80M404.00 156.00v2.80M291.70 43.24h-2.80M407.62 156.00v5.50M291.70 39.60h-5.50M411.24 156.00v2.80M291.70 35.96h-2.80M414.87 156.00v2.80M291.70 32.32h-2.80M418.49 156.00v2.80M291.70 28.69h-2.80M422.11 156.00v2.80M291.70 25.05h-5.50M425.73 156.00v2.80M291.70 21.41h-2.80M429.36 156.00v2.80M291.70 17.77h-2.80M432.98 156.00v2.80M291.70 14.14h-2.80M436.60 156.00v5.50M291.70 10.50h-5.50" stroke="#404048" stroke-width="0.9" fill="none"/><g font-family="'Liberation Sans', Arial, sans-serif" font-weight="bold" font-size="8.2" fill="#151515" stroke="#151515" stroke-width="0.2"><text x="291.70" y="173.50" text-anchor="middle">0.0</text><text x="320.68" y="173.50" text-anchor="middle">0.4</text><text x="349.66" y="173.50" text-anchor="middle">0.8</text><text x="378.64" y="173.50" text-anchor="middle">1.2</text><text x="407.62" y="173.50" text-anchor="middle">1.6</text><text x="436.60" y="173.50" text-anchor="middle">2.0</text><text x="282.40" y="158.90" text-anchor="end">0.0</text><text x="282.40" y="144.35" text-anchor="end">0.2</text><text x="282.40" y="129.80" text-anchor="end">0.4</text><text x="282.40" y="115.25" text-anchor="end">0.6</text><text x="282.40" y="100.70" text-anchor="end">0.8</text><text x="282.40" y="86.15" text-anchor="end">1.0</text><text x="282.40" y="71.60" text-anchor="end">1.2</text><text x="282.40" y="57.05" text-anchor="end">1.4</text><text x="282.40" y="42.50" text-anchor="end">1.6</text><text x="282.40" y="27.95" text-anchor="end">1.8</text><text x="282.40" y="13.40" text-anchor="end">2.0</text></g><text x="364.15" y="181.20" text-anchor="middle" font-family="'Liberation Sans', Arial, sans-serif" font-weight="bold" font-size="8.4" fill="#151515" stroke="#151515" stroke-width="0.2">x [mm]</text><text transform="translate(266.90,83.25) rotate(-90)" text-anchor="middle" font-family="'Liberation Sans', Arial, sans-serif" font-weight="bold" font-size="8.4" fill="#151515" stroke="#151515" stroke-width="0.2">y [mm]</text><rect x="294.50" y="13.60" width="38.30" height="11.50" fill="#fff" stroke="#505060" stroke-width="0.9"/><text x="296.30" y="22.20" font-family="'Liberation Sans', Arial, sans-serif" font-size="8.1" fill="#202020" stroke="#202020" stroke-width="0.12">PTFE 400</text><rect x="437.10" y="9.60" width="1.70" height="147.10" fill="#b4b4b8"/><rect x="439.20" y="9.60" width="52.40" height="147.10" fill="#fff" stroke="#454545" stroke-width="0.9"/><rect x="441.20" y="15.10" width="7.70" height="137.00" fill="url(#cbg)"/><path d="M447.90 15.10h6.00M447.90 18.52h3.60M447.90 21.95h3.60M447.90 25.38h3.60M447.90 28.80h6.00M447.90 32.23h3.60M447.90 35.65h3.60M447.90 39.08h3.60M447.90 42.50h6.00M447.90 45.92h3.60M447.90 49.35h3.60M447.90 52.77h3.60M447.90 56.20h6.00M447.90 59.62h3.60M447.90 63.05h3.60M447.90 66.47h3.60M447.90 69.90h6.00M447.90 73.33h3.60M447.90 76.75h3.60M447.90 80.17h3.60M447.90 83.60h6.00M447.90 87.02h3.60M447.90 90.45h3.60M447.90 93.88h3.60M447.90 97.30h6.00M447.90 100.72h3.60M447.90 104.15h3.60M447.90 107.57h3.60M447.90 111.00h6.00M447.90 114.42h3.60M447.90 117.85h3.60M447.90 121.27h3.60M447.90 124.70h6.00M447.90 128.12h3.60M447.90 131.55h3.60M447.90 134.97h3.60M447.90 138.40h6.00M447.90 141.82h3.60M447.90 145.25h3.60M447.90 148.67h3.60M447.90 152.10h6.00" stroke="#404048" stroke-width="0.8" fill="none"/><g font-family="'Liberation Sans', Arial, sans-serif" font-weight="bold" font-size="6.4" fill="#151515"><text x="457.70" y="17.60">100</text><text x="457.70" y="31.30">80</text><text x="457.70" y="45.00">60</text><text x="457.70" y="58.70">40</text><text x="457.70" y="72.40">20</text><text x="457.70" y="86.10">0</text><text x="455.30" y="99.80">-20</text><text x="455.30" y="113.50">-40</text><text x="455.30" y="127.20">-60</text><text x="455.30" y="140.90">-80</text><text x="455.30" y="154.60">-100</text></g><text x="471.90" y="85.70" font-family="'Liberation Sans', Arial, sans-serif" font-weight="bold" font-size="6.0" fill="#151515" stroke="#151515" stroke-width="0.1">z [μm]</text><clipPath id="c3"><rect x="37.70" y="192.40" width="147.80" height="146.90"/></clipPath><filter id="f3" filterUnits="userSpaceOnUse" x="29.70" y="184.40" width="163.80" height="162.90" color-interpolation-filters="sRGB"><feGaussianBlur in="SourceGraphic" stdDeviation="0.80" result="b"/><feTurbulence type="fractalNoise" baseFrequency="0.140" numOctaves="2" seed="24" result="n"/><feColorMatrix in="n" type="matrix" values="1 0 0 0 0 1 0 0 0 0 1 0 0 0 0 0 0 0 0 1" result="ng"/><feComposite in="b" in2="ng" operator="arithmetic" k1="0" k2="1" k3="0.500" k4="-0.250" result="s"/><feComponentTransfer in="s"><feFuncR type="table" tableValues="0.376 0.392 0.408 0.424 0.439 0.424 0.408 0.392 0.376 0.329 0.282 0.235 0.188 0.141 0.094 0.047 0.000 0.000 0.000 0.000 0.000 0.000 0.000 0.000 0.000 0.000 0.000 0.000 0.000 0.125 0.251 0.376 0.502 0.565 0.627 0.690 0.753 0.815 0.876 0.938 1.000 1.000 1.000 1.000 1.000 1.000 1.000 1.000 1.000 1.000 1.000 1.000 1.000 1.000 1.000 1.000 1.000 1.000 1.000 1.000 1.000 1.000 1.000 1.000 1.000 1.000 1.000 1.000 1.000 1.000 1.000 1.000 1.000 1.000 1.000 1.000 1.000 1.000 1.000 1.000 1.000"/><feFuncG type="table" tableValues="0.000 0.000 0.000 0.000 0.000 0.000 0.000 0.000 0.000 0.000 0.000 0.000 0.000 0.031 0.063 0.094 0.125 0.251 0.376 0.502 0.627 0.784 0.941 0.971 1.000 1.000 1.000 1.000 1.000 1.000 1.000 1.000 1.000 1.000 1.000 1.000 1.000 1.000 1.000 1.000 1.000 0.923 0.845 0.768 0.690 0.665 0.665 0.665 0.665 0.665 0.665 0.665 0.665 0.665 0.665 0.665 0.665 0.665 0.665 0.665 0.665 0.665 0.665 0.665 0.665 0.665 0.665 0.665 0.665 0.665 0.665 0.665 0.665 0.665 0.665 0.665 0.665 0.665 0.665 0.665 0.665"/><feFuncB type="table" tableValues="0.502 0.563 0.624 0.684 0.745 0.784 0.824 0.863 0.902 0.926 0.951 0.975 1.000 1.000 1.000 1.000 1.000 1.000 1.000 1.000 1.000 0.971 0.941 0.784 0.627 0.510 0.392 0.275 0.157 0.118 0.078 0.039 0.000 0.000 0.000 0.000 0.000 0.000 0.000 0.000 0.000 0.000 0.000 0.000 0.000 0.000 0.000 0.000 0.000 0.000 0.000 0.000 0.000 0.000 0.000 0.000 0.000 0.000 0.000 0.000 0.000 0.000 0.000 0.000 0.000 0.000 0.000 0.000 0.000 0.000 0.000 0.000 0.000 0.000 0.000 0.000 0.000 0.000 0.000 0.000 0.000"/><feFuncA type="linear" slope="0" intercept="1"/></feComponentTransfer></filter><filter id="g3" filterUnits="userSpaceOnUse" x="-20" y="-20" width="187.80" height="186.90" color-interpolation-filters="sRGB"><feGaussianBlur stdDeviation="4.00"/></filter><g clip-path="url(#c3)"><g filter="url(#f3)"><g transform="translate(37.70,192.40)"><g filter="url(#g3)"><rect x="-20" y="-20" width="187.80" height="186.90" fill="#878787"/><rect x="-20.00" y="-20.00" width="69.57" height="32.54" fill="#858585"/><rect x="49.27" y="-20.00" width="12.62" height="32.54" fill="#888888"/><rect x="61.58" y="-20.00" width="12.62" height="32.54" fill="#858585"/><rect x="73.90" y="-20.00" width="24.93" height="32.54" fill="#888888"/><rect x="98.53" y="-20.00" width="12.62" height="32.54" fill="#858585"/><rect x="110.85" y="-20.00" width="12.62" height="32.54" fill="#818181"/><rect x="123.17" y="-20.00" width="12.62" height="32.54" fill="#7e7e7e"/><rect x="135.48" y="-20.00" width="32.62" height="32.54" fill="#818181"/><rect x="-20.00" y="12.24" width="44.93" height="12.54" fill="#858585"/><rect x="24.63" y="12.24" width="12.62" height="12.54" fill="#818181"/><rect x="36.95" y="12.24" width="12.62" height="12.54" fill="#858585"/><rect x="49.27" y="12.24" width="12.62" height="12.54" fill="#7e7e7e"/><rect x="61.58" y="12.24" width="12.62" height="12.54" fill="#888888"/><rect x="73.90" y="12.24" width="12.62" height="12.54" fill="#858585"/><rect x="86.22" y="12.24" width="12.62" height="12.54" fill="#818181"/><rect x="98.53" y="12.24" width="12.62" height="12.54" fill="#7e7e7e"/><rect x="110.85" y="12.24" width="12.62" height="12.54" fill="#888888"/><rect x="123.17" y="12.24" width="12.62" height="12.54" fill="#858585"/><rect x="135.48" y="12.24" width="32.62" height="12.54" fill="#818181"/><rect x="-20.00" y="24.48" width="32.62" height="12.54" fill="#7e7e7e"/><rect x="12.32" y="24.48" width="12.62" height="12.54" fill="#7b7b7b"/><rect x="24.63" y="24.48" width="12.62" height="12.54" fill="#7e7e7e"/><rect x="36.95" y="24.48" width="12.62" height="12.54" fill="#858585"/><rect x="49.27" y="24.48" width="12.62" height="12.54" fill="#818181"/><rect x="61.58" y="24.48" width="12.62" height="12.54" fill="#858585"/><rect x="73.90" y="24.48" width="12.62" height="12.54" fill="#7e7e7e"/><rect x="86.22" y="24.48" width="12.62" height="12.54" fill="#818181"/><rect x="98.53" y="24.48" width="12.62" height="12.54" fill="#7e7e7e"/><rect x="110.85" y="24.48" width="12.62" height="12.54" fill="#858585"/><rect x="123.17" y="24.48" width="12.62" height="12.54" fill="#7e7e7e"/><rect x="135.48" y="24.48" width="32.62" height="12.54" fill="#858585"/><rect x="-20.00" y="36.73" width="32.62" height="12.54" fill="#818181"/><rect x="12.32" y="36.73" width="12.62" height="12.54" fill="#787878"/><rect x="24.63" y="36.73" width="12.62" height="12.54" fill="#7e7e7e"/><rect x="36.95" y="36.73" width="12.62" height="12.54" fill="#888888"/><rect x="49.27" y="36.73" width="12.62" height="12.54" fill="#818181"/><rect x="61.58" y="36.73" width="12.62" height="12.54" fill="#888888"/><rect x="73.90" y="36.73" width="12.62" height="12.54" fill="#818181"/><rect x="86.22" y="36.73" width="12.62" height="12.54" fill="#858585"/><rect x="98.53" y="36.73" width="12.62" height="12.54" fill="#7e7e7e"/><rect x="110.85" y="36.73" width="24.93" height="12.54" fill="#818181"/><rect x="135.48" y="36.73" width="32.62" height="12.54" fill="#858585"/><rect x="-20.00" y="48.97" width="32.62" height="12.54" fill="#858585"/><rect x="12.32" y="48.97" width="12.62" height="12.54" fill="#7e7e7e"/><rect x="24.63" y="48.97" width="12.62" height="12.54" fill="#7b7b7b"/><rect x="36.95" y="48.97" width="12.62" height="12.54" fill="#818181"/><rect x="49.27" y="48.97" width="24.93" height="12.54" fill="#858585"/><rect x="73.90" y="48.97" width="12.62" height="12.54" fill="#7e7e7e"/><rect x="86.22" y="48.97" width="12.62" height="12.54" fill="#858585"/><rect x="98.53" y="48.97" width="12.62" height="12.54" fill="#888888"/><rect x="110.85" y="48.97" width="24.93" height="12.54" fill="#7e7e7e"/><rect x="135.48" y="48.97" width="32.62" height="12.54" fill="#818181"/><rect x="-20.00" y="61.21" width="32.62" height="12.54" fill="#888888"/><rect x="12.32" y="61.21" width="12.62" height="12.54" fill="#858585"/><rect x="24.63" y="61.21" width="24.93" height="12.54" fill="#7e7e7e"/><rect x="49.27" y="61.21" width="12.62" height="12.54" fill="#818181"/><rect x="61.58" y="61.21" width="24.93" height="12.54" fill="#888888"/><rect x="86.22" y="61.21" width="12.62" height="12.54" fill="#858585"/><rect x="98.53" y="61.21" width="12.62" height="12.54" fill="#888888"/><rect x="110.85" y="61.21" width="24.93" height="12.54" fill="#818181"/><rect x="135.48" y="61.21" width="32.62" height="12.54" fill="#858585"/><rect x="-20.00" y="73.45" width="32.62" height="12.54" fill="#888888"/><rect x="12.32" y="73.45" width="12.62" height="12.54" fill="#818181"/><rect x="24.63" y="73.45" width="12.62" height="12.54" fill="#7b7b7b"/><rect x="36.95" y="73.45" width="12.62" height="12.54" fill="#787878"/><rect x="49.27" y="73.45" width="12.62" height="12.54" fill="#7e7e7e"/><rect x="61.58" y="73.45" width="12.62" height="12.54" fill="#858585"/><rect x="73.90" y="73.45" width="12.62" height="12.54" fill="#888888"/><rect x="86.22" y="73.45" width="12.62" height="12.54" fill="#858585"/><rect x="98.53" y="73.45" width="12.62" height="12.54" fill="#818181"/><rect x="110.85" y="73.45" width="12.62" height="12.54" fill="#858585"/><rect x="123.17" y="73.45" width="44.93" height="12.54" fill="#818181"/><rect x="-20.00" y="85.69" width="32.62" height="12.54" fill="#858585"/><rect x="12.32" y="85.69" width="12.62" height="12.54" fill="#7e7e7e"/><rect x="24.63" y="85.69" width="12.62" height="12.54" fill="#7b7b7b"/><rect x="36.95" y="85.69" width="12.62" height="12.54" fill="#818181"/><rect x="49.27" y="85.69" width="12.62" height="12.54" fill="#858585"/><rect x="61.58" y="85.69" width="12.62" height="12.54" fill="#888888"/><rect x="73.90" y="85.69" width="12.62" height="12.54" fill="#818181"/><rect x="86.22" y="85.69" width="12.62" height="12.54" fill="#7e7e7e"/><rect x="98.53" y="85.69" width="12.62" height="12.54" fill="#7b7b7b"/><rect x="110.85" y="85.69" width="24.93" height="12.54" fill="#818181"/><rect x="135.48" y="85.69" width="32.62" height="12.54" fill="#7e7e7e"/><rect x="-20.00" y="97.93" width="32.62" height="12.54" fill="#818181"/><rect x="12.32" y="97.93" width="24.93" height="12.54" fill="#858585"/><rect x="36.95" y="97.93" width="12.62" height="12.54" fill="#888888"/><rect x="49.27" y="97.93" width="12.62" height="12.54" fill="#818181"/><rect x="61.58" y="97.93" width="37.25" height="12.54" fill="#7e7e7e"/><rect x="98.53" y="97.93" width="12.62" height="12.54" fill="#818181"/><rect x="110.85" y="97.93" width="12.62" height="12.54" fill="#858585"/><rect x="123.17" y="97.93" width="12.62" height="12.54" fill="#7e7e7e"/><rect x="135.48" y="97.93" width="32.62" height="12.54" fill="#7b7b7b"/><rect x="-20.00" y="110.18" width="44.93" height="12.54" fill="#818181"/><rect x="24.63" y="110.18" width="12.62" height="12.54" fill="#858585"/><rect x="36.95" y="110.18" width="12.62" height="12.54" fill="#7e7e7e"/><rect x="49.27" y="110.18" width="12.62" height="12.54" fill="#7b7b7b"/><rect x="61.58" y="110.18" width="12.62" height="12.54" fill="#7e7e7e"/><rect x="73.90" y="110.18" width="24.93" height="12.54" fill="#818181"/><rect x="98.53" y="110.18" width="24.93" height="12.54" fill="#858585"/><rect x="123.17" y="110.18" width="44.93" height="12.54" fill="#7e7e7e"/><rect x="-20.00" y="122.42" width="44.93" height="12.54" fill="#858585"/><rect x="24.63" y="122.42" width="12.62" height="12.54" fill="#888888"/><rect x="36.95" y="122.42" width="24.93" height="12.54" fill="#7e7e7e"/><rect x="61.58" y="122.42" width="12.62" height="12.54" fill="#818181"/><rect x="73.90" y="122.42" width="12.62" height="12.54" fill="#858585"/><rect x="86.22" y="122.42" width="24.93" height="12.54" fill="#818181"/><rect x="110.85" y="122.42" width="24.93" height="12.54" fill="#7e7e7e"/><rect x="135.48" y="122.42" width="32.62" height="12.54" fill="#818181"/><rect x="-20.00" y="134.66" width="32.62" height="32.54" fill="#7e7e7e"/><rect x="12.32" y="134.66" width="12.62" height="32.54" fill="#818181"/><rect x="24.63" y="134.66" width="12.62" height="32.54" fill="#858585"/><rect x="36.95" y="134.66" width="12.62" height="32.54" fill="#818181"/><rect x="49.27" y="134.66" width="12.62" height="32.54" fill="#7b7b7b"/><rect x="61.58" y="134.66" width="12.62" height="32.54" fill="#818181"/><rect x="73.90" y="134.66" width="24.93" height="32.54" fill="#858585"/><rect x="98.53" y="134.66" width="12.62" height="32.54" fill="#818181"/><rect x="110.85" y="134.66" width="12.62" height="32.54" fill="#7e7e7e"/><rect x="123.17" y="134.66" width="44.93" height="32.54" fill="#818181"/></g><ellipse cx="11.9" cy="20.8" rx="2.2" ry="1.8" fill="#202020"/><ellipse cx="67.9" cy="44.0" rx="2.2" ry="1.8" fill="#202020"/><ellipse cx="106.5" cy="39.6" rx="2.2" ry="1.8" fill="#202020"/><ellipse cx="38.1" cy="87.2" rx="2.2" ry="1.8" fill="#202020"/><ellipse cx="28.9" cy="82.7" rx="2.2" ry="1.8" fill="#202020"/><ellipse cx="60.4" cy="117.0" rx="2.2" ry="1.8" fill="#202020"/><ellipse cx="133.0" cy="123.0" rx="2.2" ry="1.8" fill="#202020"/><ellipse cx="117.0" cy="138.0" rx="2.2" ry="1.8" fill="#202020"/><ellipse cx="13.4" cy="59.5" rx="2.2" ry="1.8" fill="#202020"/><ellipse cx="112.5" cy="58.0" rx="2.2" ry="1.8" fill="#202020"/></g></g></g><rect x="37.70" y="192.40" width="147.80" height="146.90" fill="none" stroke="#303040" stroke-width="0.9"/><path d="M37.70 339.30v5.50M37.70 339.30h-5.50M41.40 339.30v2.80M37.70 335.63h-2.80M45.09 339.30v2.80M37.70 331.95h-2.80M48.79 339.30v2.80M37.70 328.28h-2.80M52.48 339.30v2.80M37.70 324.61h-5.50M56.18 339.30v2.80M37.70 320.94h-2.80M59.87 339.30v2.80M37.70 317.26h-2.80M63.57 339.30v2.80M37.70 313.59h-2.80M67.26 339.30v5.50M37.70 309.92h-5.50M70.96 339.30v2.80M37.70 306.25h-2.80M74.65 339.30v2.80M37.70 302.57h-2.80M78.34 339.30v2.80M37.70 298.90h-2.80M82.04 339.30v2.80M37.70 295.23h-5.50M85.74 339.30v2.80M37.70 291.56h-2.80M89.43 339.30v2.80M37.70 287.88h-2.80M93.12 339.30v2.80M37.70 284.21h-2.80M96.82 339.30v5.50M37.70 280.54h-5.50M100.52 339.30v2.80M37.70 276.87h-2.80M104.21 339.30v2.80M37.70 273.19h-2.80M107.91 339.30v2.80M37.70 269.52h-2.80M111.60 339.30v2.80M37.70 265.85h-5.50M115.30 339.30v2.80M37.70 262.18h-2.80M118.99 339.30v2.80M37.70 258.50h-2.80M122.69 339.30v2.80M37.70 254.83h-2.80M126.38 339.30v5.50M37.70 251.16h-5.50M130.07 339.30v2.80M37.70 247.49h-2.80M133.77 339.30v2.80M37.70 243.81h-2.80M137.47 339.30v2.80M37.70 240.14h-2.80M141.16 339.30v2.80M37.70 236.47h-5.50M144.86 339.30v2.80M37.70 232.80h-2.80M148.55 339.30v2.80M37.70 229.12h-2.80M152.25 339.30v2.80M37.70 225.45h-2.80M155.94 339.30v5.50M37.70 221.78h-5.50M159.64 339.30v2.80M37.70 218.11h-2.80M163.33 339.30v2.80M37.70 214.44h-2.80M167.03 339.30v2.80M37.70 210.76h-2.80M170.72 339.30v2.80M37.70 207.09h-5.50M174.42 339.30v2.80M37.70 203.42h-2.80M178.11 339.30v2.80M37.70 199.75h-2.80M181.81 339.30v2.80M37.70 196.07h-2.80M185.50 339.30v5.50M37.70 192.40h-5.50" stroke="#404048" stroke-width="0.9" fill="none"/><g font-family="'Liberation Sans', Arial, sans-serif" font-weight="bold" font-size="8.2" fill="#151515" stroke="#151515" stroke-width="0.2"><text x="37.70" y="356.80" text-anchor="middle">0.0</text><text x="67.26" y="356.80" text-anchor="middle">0.4</text><text x="96.82" y="356.80" text-anchor="middle">0.8</text><text x="126.38" y="356.80" text-anchor="middle">1.2</text><text x="155.94" y="356.80" text-anchor="middle">1.6</text><text x="185.50" y="356.80" text-anchor="middle">2.0</text><text x="28.40" y="342.20" text-anchor="end">0.0</text><text x="28.40" y="327.51" text-anchor="end">0.2</text><text x="28.40" y="312.82" text-anchor="end">0.4</text><text x="28.40" y="298.13" text-anchor="end">0.6</text><text x="28.40" y="283.44" text-anchor="end">0.8</text><text x="28.40" y="268.75" text-anchor="end">1.0</text><text x="28.40" y="254.06" text-anchor="end">1.2</text><text x="28.40" y="239.37" text-anchor="end">1.4</text><text x="28.40" y="224.68" text-anchor="end">1.6</text><text x="28.40" y="209.99" text-anchor="end">1.8</text><text x="28.40" y="195.30" text-anchor="end">2.0</text></g><text x="111.60" y="364.50" text-anchor="middle" font-family="'Liberation Sans', Arial, sans-serif" font-weight="bold" font-size="8.4" fill="#151515" stroke="#151515" stroke-width="0.2">x [mm]</text><text transform="translate(12.90,265.85) rotate(-90)" text-anchor="middle" font-family="'Liberation Sans', Arial, sans-serif" font-weight="bold" font-size="8.4" fill="#151515" stroke="#151515" stroke-width="0.2">y [mm]</text><rect x="40.70" y="195.80" width="39.90" height="11.80" fill="#fff" stroke="#505060" stroke-width="0.9"/><text x="42.50" y="204.70" font-family="'Liberation Sans', Arial, sans-serif" font-size="8.1" fill="#202020" stroke="#202020" stroke-width="0.12">PTFE 240</text><rect x="187.20" y="192.10" width="53.40" height="147.50" fill="#fff" stroke="#454545" stroke-width="0.9"/><rect x="189.90" y="196.70" width="7.20" height="138.50" fill="url(#cbg)"/><path d="M196.10 196.70h6.00M196.10 200.16h3.60M196.10 203.62h3.60M196.10 207.09h3.60M196.10 210.55h6.00M196.10 214.01h3.60M196.10 217.47h3.60M196.10 220.94h3.60M196.10 224.40h6.00M196.10 227.86h3.60M196.10 231.32h3.60M196.10 234.79h3.60M196.10 238.25h6.00M196.10 241.71h3.60M196.10 245.17h3.60M196.10 248.64h3.60M196.10 252.10h6.00M196.10 255.56h3.60M196.10 259.02h3.60M196.10 262.49h3.60M196.10 265.95h6.00M196.10 269.41h3.60M196.10 272.88h3.60M196.10 276.34h3.60M196.10 279.80h6.00M196.10 283.26h3.60M196.10 286.73h3.60M196.10 290.19h3.60M196.10 293.65h6.00M196.10 297.11h3.60M196.10 300.57h3.60M196.10 304.04h3.60M196.10 307.50h6.00M196.10 310.96h3.60M196.10 314.42h3.60M196.10 317.89h3.60M196.10 321.35h6.00M196.10 324.81h3.60M196.10 328.27h3.60M196.10 331.74h3.60M196.10 335.20h6.00" stroke="#404048" stroke-width="0.8" fill="none"/><g font-family="'Liberation Sans', Arial, sans-serif" font-weight="bold" font-size="6.4" fill="#151515"><text x="205.90" y="199.20">100</text><text x="205.90" y="213.05">80</text><text x="205.90" y="226.90">60</text><text x="205.90" y="240.75">40</text><text x="205.90" y="254.60">20</text><text x="205.90" y="268.45">0</text><text x="203.50" y="282.30">-20</text><text x="203.50" y="296.15">-40</text><text x="203.50" y="310.00">-60</text><text x="203.50" y="323.85">-80</text><text x="203.50" y="337.70">-100</text></g><text x="220.10" y="268.05" font-family="'Liberation Sans', Arial, sans-serif" font-weight="bold" font-size="6.0" fill="#151515" stroke="#151515" stroke-width="0.1">z [μm]</text><clipPath id="c4"><rect x="291.20" y="194.60" width="144.00" height="143.20"/></clipPath><filter id="f4" filterUnits="userSpaceOnUse" x="283.20" y="186.60" width="160.00" height="159.20" color-interpolation-filters="sRGB"><feGaussianBlur in="SourceGraphic" stdDeviation="1.50" result="b"/><feComponentTransfer in="b"><feFuncR type="table" tableValues="0.376 0.392 0.408 0.424 0.439 0.424 0.408 0.392 0.376 0.329 0.282 0.235 0.188 0.141 0.094 0.047 0.000 0.000 0.000 0.000 0.000 0.000 0.000 0.000 0.000 0.000 0.000 0.000 0.000 0.125 0.251 0.376 0.502 0.565 0.627 0.690 0.753 0.815 0.876 0.938 1.000 1.000 1.000 1.000 1.000 1.000 1.000 1.000 1.000 1.000 1.000 1.000 1.000 1.000 1.000 1.000 1.000 1.000 1.000 1.000 1.000 0.990 0.980 0.971 0.961 0.938 0.916 0.893 0.871 0.839 0.808 0.776 0.745 0.706 0.667 0.627 0.588 0.544 0.500 0.456 0.412"/><feFuncG type="table" tableValues="0.000 0.000 0.000 0.000 0.000 0.000 0.000 0.000 0.000 0.000 0.000 0.000 0.000 0.031 0.063 0.094 0.125 0.251 0.376 0.502 0.627 0.784 0.941 0.971 1.000 1.000 1.000 1.000 1.000 1.000 1.000 1.000 1.000 1.000 1.000 1.000 1.000 1.000 1.000 1.000 1.000 0.923 0.845 0.768 0.690 0.627 0.565 0.502 0.439 0.376 0.314 0.251 0.188 0.141 0.094 0.047 0.000 0.000 0.000 0.000 0.000 0.000 0.000 0.000 0.000 0.000 0.000 0.000 0.000 0.000 0.000 0.000 0.000 0.000 0.000 0.000 0.000 0.000 0.000 0.000 0.000"/><feFuncB type="table" tableValues="0.502 0.563 0.624 0.684 0.745 0.784 0.824 0.863 0.902 0.926 0.951 0.975 1.000 1.000 1.000 1.000 1.000 1.000 1.000 1.000 1.000 0.971 0.941 0.784 0.627 0.510 0.392 0.275 0.157 0.118 0.078 0.039 0.000 0.000 0.000 0.000 0.000 0.000 0.000 0.000 0.000 0.000 0.000 0.000 0.000 0.000 0.000 0.000 0.000 0.000 0.000 0.000 0.000 0.000 0.000 0.000 0.000 0.000 0.000 0.000 0.000 0.000 0.000 0.000 0.000 0.000 0.000 0.000 0.000 0.000 0.000 0.000 0.000 0.000 0.000 0.000 0.000 0.000 0.000 0.000 0.000"/><feFuncA type="linear" slope="0" intercept="1"/></feComponentTransfer></filter><g clip-path="url(#c4)"><rect x="291.20" y="194.60" width="144.00" height="143.20" fill="#68009f"/><g transform="scale(0.1)"><path fill="#6800d2" fill-rule="evenodd" d="M2853 1887l0 903 88 0 5 20-5 5-88 0 0 622 1558 0 0-1040-90 0-5-5 5-5 90 0 0-500zM3776 3167l7-7 15 10-20 2z"/><path fill="#4800f2" fill-rule="evenodd" d="M2853 1887l0 265 93 3-93 2 0 473 93 2-93 3 0 115 88 0 5 7 2 55-7 10-88 0 0 615 265 0 3-90 65 3 0 87 355 0 2-90 3 90 232 0 3-90 2 90 628 0 0-325-93-2 93-3 0-702-90 0-18-13 18-17 90 0 0-488zM3718 3287l3-2 2 5-2 2zM3763 3167l10-17 10-8 28 18 27 5 5 5-62 10zM3961 3105l2-3 5 8-5 2zM3961 2935l2-8 60 3-22 5zM3121 2870l5 22 0 40-8-2zM3898 2572l0-57 5-5 120 2-110 8-7 15 0 37zM3121 2452l60-2 2 7-52 0zM3961 2212l5 3-3 60-5-3zM3298 2095l5-3 3 5-3 3z"/><path fill="#1810ff" fill-rule="evenodd" d="M2853 1887l0 258 93 0 15 10-15 12-93 0 0 455 88 0 20 10-18 10-90 0 0 100 88 0 7 10 5 58-12 20-88 0 0 607 250 0 0-87 15-8 65 0 8 8 0 87 345 0 0-90 5-7 12 10 0 87 218 0 0-87 10-8 7 5 0 90 623 0 0-322-95 0-13-5 10-5 98 0 0-693-88 0-30-17 28-30 90 0 0-478zM3728 3287l-7 13-33-10 3-5 30-8zM3896 3225l12 5 0 57-5 5-7-5-5-57zM4253 3230l10-8 10 8-7 5zM4078 3165l10 5-5 7-10-7zM3663 3162l18 8-20 17-10-17zM3753 3162l10-20 18-20 17 20 43 18 7 10-7 10-60 5-23-10zM3178 3105l10 5-5 7-10-7zM3428 3110l-5 5-60 5-7-10 5-5 60-3zM3958 3080l5-5 8 12 27 23-20 5-22-3-3-10zM4128 3050l10-5 15 5-7 5zM3523 3050l13-8 15 0 10 8-10 5-18 0zM3601 2985l12 5-10 17-10-12zM3061 2982l7 8-5 5-10-5zM4203 2925l5 7-7 8-8-10zM3248 2932l-5 8-7 0-25-10 32-5zM3953 2942l0-15 10-7 60 0 10 10-12 10-18 0-25 7-15 18zM4081 2855l12 15-10 12-10-7zM3121 2837l5 5 7 68 23 20-33 7-10-7 0-70zM3663 2805l5 7-7 15-5-15zM3236 2812l5-7 32 5-5 5-20 2zM3956 2752l7-7 58 0 10 7-8 8-57 5zM4256 2755l7-13 28 5 5 5-28 8zM3781 2627l10 5-8 8-7-8zM3228 2632l10-5 10 5-5 8zM3071 2632l-8 8-20-8 18-7zM3593 2575l8-8 62 0 5 5-12 8-30 0-18 5zM3891 2572l0-57 10-8 122 0 5 5-7 8-58 0-32 7-10 8-8 15-2 22-8 8zM3118 2445l5-5 58 2 10 10-5 30-5 5-10-12-15-8-33-5-7-7zM3241 2387l7 8-7 7-8-7zM3773 2335l10-20 33 17-5 5-20 3zM4081 2265l10 7-8 13-10-8zM3061 2265l12 7-10 13-12-10zM3541 2210l12 5 0 57-10 8-7-5 0-60zM3963 2205l18 10-8 57-7 8-13-8-2-57zM3001 2197l12 18-10 12-12-10 0-7zM4261 2120l10 35-8 7-12-7 2-23zM4191 2095l7-5 35 2 5 5-17 8-20 0zM4021 2087l7 8-7 10-10-10zM3301 2062l5 3 10 30-13 32-12-32zM3723 2027l5 8-7 10-8-10z"/><path fill="#0060ff" fill-rule="evenodd" d="M2853 1887l0 250 95 0 28 15-3 15-10 8-110 2 0 440 93 0 30 15-33 18-90 0 0 85 90 0 8 12 5 65-15 23-88 0 0 152 93 3-93 2 0 445 235 0 0-87 23-10 70-3 15 10 0 90 102 0 3-90 2 90 230 0 0-92 8-13 20 18 0 87 202 0 0-87 13-10 7 0 8 7 0 90 465 0 0-87 5-5 5 5 0 87 145 0 0-317-93 0-30-10 28-10 95 0 0-345-103 0-45 12-15-15 13-15 17 0 38 10 95 0 0-330-90 0-30-15-10-10 42-40 88 0 0-465zM3731 3285l0 10-8 10-62-15 0-8 7-5 50-7zM4246 3227l20-7 17 10-25 10zM3898 3220l13 7 0 63-8 7-12-15 0-25-8-27zM4078 3160l13 7-8 18-17-15zM3641 3170l17-10 25 2 13 8-33 32zM3756 3127l20-20 7 0 23 30 40 20 5 10-3 13-7 7-63 3-20-8-17-12zM3353 3112l0-5 10-7 60 0 8 7-10 13-55 7zM3181 3100l10 7-10 18-15-15zM4121 3050l20-10 20 10-18 10zM3508 3050l10-10 15-5 30 2 13 10-3 5-27 8zM3608 2982l15 10-22 33-10-10-5-23 12-10zM3061 2975l10 12-8 13-17-10zM4201 2920l15 10-13 15-17-13zM3961 2912l62 0 20 15-7 10-15 8-35 10-20 27 2 78 25 32 30 15-5 8-55 5-17-10 12-55 0-70-12-43 0-15zM4081 2840l22 30-20 22-17-15 0-12zM3116 2810l10 2 5 58 10 37 12 13 18 7 72-5 8 8-8 17-57-15-68 8-12-10 2-103zM3228 2812l10-10 40 0 25 8-5 5-60 5zM3661 2800l10 10-8 32-5-2-5-30zM3953 2757l0-7 8-8 62 0 15 10-15 13-60 7zM3783 2622l13 10-13 15-10-12zM3221 2632l20-10 10 13-10 12zM3078 2632l-15 13-35-13 33-12zM3586 2572l17-10 58 0 10 13-10 7-43 5-15 8zM3883 2572l0-57 13-10 125-3 10 10-8 10-55 3-27 7-15 13-10 27-13 13zM3121 2432l60 3 15 12 0 25-13 43-22-33-20-10-18-2-10-10-2-13zM3226 2392l17-7 8 12-8 10-5 0-12-10zM3766 2330l17-30 18 15 40 15 2 5-65 7-10-5zM4078 2260l10 2 10 13-15 20-17-18zM3058 2257l10 3 15 12-20 20-22-17 2-8zM3543 2205l18 10 0 57-13 10-7 0-10-10 2-60zM3961 2200l35 15-10 25-5 32-15 13-18-10-5-58zM2998 2180l8 5 15 30-15 20-8 0-17-20 0-18 5-10zM2998 2095l3-3 2 5-2 3zM4181 2095l22-10 58 7 5 5 12 58-10 10-10 2-15-12-2-23-13-15-30-5zM4018 2082l5 0 8 10-8 18-22-15zM3303 2032l20 58-12 30-8 35-5-5-5-33-10-22 15-58zM3721 2020l10 12-8 18-17-13z"/><path fill="#00f0f0" fill-rule="evenodd" d="M2853 1887l0 243 135 0 3 25 15 15 22 45-5 20-12 10-10 0-28-25-10-25-12-8-98 0 0 423 90 0 48 22-48 25-90 0 0 70 90 0 13 23 2 65-17 27-88 0 0 130 88 0 12 18-10 7-90 0 0 440 220 0 0-90 43-12 67 0 18 12 0 90 92 0 0-90 8-5 7 5 0 90 220 0 0-90 13-22 27 25 0 87 188 0 0-87 20-15 7 0 13 12 0 90 430 0 0-87 5-5 32-5 8 7 0 90 140 0 0-315-98 0-40-12 8-8 17-5 113 0 0-340-90 0-60 15-18-20 18-22 50 7 100 0 0-312-88 0-25-10-27-20 5-10 45-43 90 0 0-455zM3661 3255l32 7 28 0 15 23-5 20-8 7-12 0-48-12-7-10zM3301 3222l7 8-5 5-10-5zM4238 3227l18-10 15 0 22 13-20 12-15 3zM3901 3215l15 15 0 57-10 13-8 0-10-13-10-52 5-13zM3061 3195l7 35-7 10-10-10zM4073 3157l10 0 13 13-13 22-25-22zM3708 3165l3 5-48 47-20-35-12-12 30-15 30 2zM3741 3115l15-10 25-3 10 5 25 28 22 10 13 12 5 10-5 18-10 10-68 0-25-10-17-15 0-20zM3001 3100l15 10-13 10-12-10zM3178 3097l18 13-13 20-22-20zM3348 3110l13-13 60-2 15 15-13 12-40 5-20 8zM4111 3050l25-13 12 0 20 13-22 12zM3633 2990l-20 37-25 25-37 10-18 0-40-12 0-10 8-10 57-3 13-5 7-12 3-20 20-13zM3481 2975l12 15 0 22-10 15-7-27zM3058 2970l13 7 5 13-13 12-22-12zM4206 2917l15 13-18 22-25-20 8-10zM3961 2905l67 0 15 5 10 15 0 5-15 12-47 20-20 28 5 62 22 30 25 15 5 15-7 10-60 0-20-12 10-78 0-45-15-57 5-10zM3893 2870l13-5 7 10-12 7zM3781 2865l10 5-8 12-7-10zM4083 2825l15 30 15 17-20 23-17 7-15-10-5-20 20-42zM3086 2812l17-7 23 0 7 7 3 63 10 27 12 13 25 10 60-8 13 13-10 22-8 3-50-18-65 8-22-13-3-92zM3313 2810l-7 7-65 8-20-13 20-15 62-2zM3661 2792l15 18-13 47-7-7-8-40zM3541 2740l10 10-8 12-7-7zM3948 2752l15-15 58 0 17 8 8 10-20 15-63 12zM3901 2685l7 5-5 7-7-5zM3781 2620l20 12-18 20-15-20zM3211 2632l27-12 18 12-15 23zM3361 2617l7 10-5 15-7-7zM3083 2632l-20 18-50-18 48-17zM3581 2575l17-15 65 0 13 12-18 15-35 5-17 10-8-2zM3493 2572l-7 5-13 0-7-5 15-12zM3348 2510l15-3 5 5-7 18-15-15zM4263 2502l10 10-10 8-7-8zM3876 2572l0-57 22-15 125 0 13 12-15 15-50 3-28 10-10 7-15 30-15 13-10-3zM3001 2447l10 8 0 57-8 8-7-5 0-63zM3121 2422l62 5 15 10 5 10 0 23-10 45-10 5-7-3-28-32-32-15-10-15 0-10zM3421 2387l7 5-5 15-7-10zM3241 2380l15 15-10 17-10 3-18-15 0-8zM3063 2380l15 12-15 10-10-10zM4083 2377l10 18-12 10-5-15zM3368 2332l-5 8-17-5 15-8zM3188 2332l-7 15-35-12 35-10zM3758 2330l20-40 5-3 28 23 30 12 10 13-18 7-52 5-20-10zM3233 2275l5-5 10 5-5 5zM4081 2252l7 3 15 17-5 15-15 18-25-28 0-7zM3031 2267l10-15 22-2 30 25-17 20-15 5-30-25zM3656 2210l12 5-7 12-13-12zM3541 2202l27 13 0 57-22 15-18-12 0-60zM3963 2192l48 23-18 32-5 25-12 13-18 5-15-15-7-60zM4143 2137l13 18-10 30-5 2-13-32zM3113 2155l10-18 35 18-37 10zM3003 2087l10 8-10 35-12 2-3-37zM4171 2095l25-13 62 5 10 5 8 18 7 45-17 17-13-2-17-15-5-18-10-10-38-12-10-10zM3663 2082l10 13-5 5-12-5zM4016 2077l7 0 13 18-15 22-30-22zM3303 2022l13 13 17 60-15 22-10 38-7 5-8-13-7-35-10-17 17-60zM3723 2012l13 23-8 15-10 7-17-12-3-10z"/><path fill="#00ff64" fill-rule="evenodd" d="M2853 1887l0 235 95 0 23-10 10-20 25-10 15 13-15 62 30 58 2 15 8 7 32 13 25 25-5 15-12 12-25 5-25-17-25-33-23-10-20-20-10-20-15-12-90 0 0 410 95 0 50 22 63-17 30 22-30 25-63-22-30 12-25 18-90 0 0 55 93 2 12 25 5 65-20 35-90 0 0 113 90 0 18 27-8 10-12 5-88 0 0 435 205 0 0-87 28-15 55-5 42 0 23 17 0 90 80 0 0-90 15-10 12 13 0 87 213 0 0-92 15-28 35 33 0 87 172 0 0-87 13-15 17-5 8 2 12 15 0 90 403 0 0-90 5-5 40-7 17 0 15 12 0 90 133 0 0-310-95 0-58-17 3-63 5 13 0 22 7 8 138 2 0-330-90 0-60 18-23-28 3-12 22-18 38 5 110 0 0-297-93 0-30-13-27-22 7-15 50-48 3-60 90 0 0-295-88 0-2-90-1075 0-3 90-5-2 0-88zM3298 3220l13 7-8 13-17-10zM4231 3227l20-12 15-3 27 10 8 8-20 15-23 5-15-8zM3903 3212l15 15 0 63-15 15-20-20 0-15-12-45 7-8zM3061 3167l5 5 7 53-10 22-7-2-13-15 8-40zM4066 3155l17-3 15 15-15 33-32-30zM3346 3112l0-5 17-15 60 0 15 15-2 8-15 12-35 5-23 10zM3181 3092l17 15-15 30-30-27zM3001 3092l25 18-18 17-10 0-15-17zM3721 3045l5 42 5 8 55 5 10 5 25 25 30 20 7 15 0 15-15 22-62 0-35-10-25-17-55 55 15 15 17 7 23 3 10 10 10 22-3 18-12 15-15 0-53-15-7-20 10-55-18-38-22-22 35-18 52-2 8-5 5-30zM4101 3050l37-18 15 3 23 15-33 17zM3478 3047l-7-60 10-25 15 18 12 30 10 7 20 5 23-7 7-8 5-17 23-15 15 0 32 15-15 32-25 30-65 15-42-10zM3061 2962l15 13 2 17-15 15-15-5-15-12 8-13zM4201 2912l12 5 13 13-23 27-32-25 10-12zM3901 2860l12 2 13 10-3 10-20 13-20-23zM3783 2860l18 12-20 20-10-20zM4083 2810l13 30 27 32-25 30-27 13-15 22-60 30-18 23 8 62 40 38 7 17-2 13-8 12-67-7-23-15 10-120-15-60 3-15 15-15 85-3 10-5 35-77zM3061 2810l12-8 50-5 18 13 0 67 12 25 28 18 62-5 15 15-10 27-7 5-50-20-75 5-13-5-10-10 0-70-5-20-10-17zM3661 2787l17 20-2 25-13 40-5 0-7-12-5-25 0-28zM3323 2810l-20 12-65 5-22-15 15-15 52-7 15-8 8 3zM3946 2750l15-15 62 0 28 12 2 10-22 18-53 10-15 7-12-20zM3541 2730l17 20-15 22-12-20zM3901 2677l12 15-10 10-12-10zM3783 2615l18 10 5 10-25 25-15-30zM3201 2632l40-17 17 15-15 30-22-8zM3363 2602l10 30-12 20-10-22zM3573 2572l28-17 62 0 15 15-12 17-40 10-23 15zM3501 2570l-15 12-35-10 30-22zM3331 2512l32-10 10 10-7 28-10 0zM4251 2512l10-17 7 2 13 15-15 10zM3868 2572l0-57 20-15 15-5 118 0 17 17-15 18-52 5-20 7-15 13-10 20-23 22-20-10zM3001 2440l15 12 0 63-13 12-12-12 0-63zM3113 2415l13-3 65 8 17 7 3 40-8 48-25 7-10-5-20-22-25-13-22-27 0-18zM3421 2382l12 13-10 27-5-2-7-23zM3233 2377l10 0 13 10 0 18-15 17-25-2-5-5-3-20 8-10zM3063 2370l18 7 10 10 2 8-7 7-25 5-13-12zM4081 2365l22 25 0 7-17 18-8-3-7-17zM3333 2335l20-10 10 0 10 10-10 10zM3193 2332l-2 13-10 12-48-10-15-12 8-10 55-8zM3751 2332l25-45 2-12 5-3 25 25 35 18 18 20-18 10-65 5-22-10zM3238 2265l15 10-10 10-17-10zM4073 2247l20 3 18 22-5 15-23 28-15-13-17-25 2-15zM3658 2205l15 10-12 22-23-22zM3543 2197l33 18 0 57-25 18-15-3-13-12 3-63zM3961 2187l32 8 33 20-15 17-15 40-30 23-15-5-15-18-8-57zM3108 2150l10-23 8-2 55 25 2 5-60 20-15-18zM4278 2095l13 60-20 20-10 5-33-25-5-13-20-15-32 3-5 5 0 20-10 20-10 40-8 0-20-60 23-30 17-5 5-28 18-10 22-5 60 8zM3663 2072l10 5 8 18-13 10-7 0-10-10zM4021 2070l17 22 0 8-15 22-25-10-17-17 17-18zM3303 2012l23 23 17 60-12 12-13 25-5 23-12 10-10-10-8-33-15-27 20-63zM3723 2005l13 20 2 15-17 25-18-5-10-10-2-15z"/><path fill="#40ff14" fill-rule="evenodd" d="M2853 1887l0 228 90 0 15-8 20-22 23-10 22 12 8 10-18 60 33 65 7 8 25 10 28 22 15 38 20 7 42 3 15 25-5 25-7 7-68 0-7 8-3 20 20 10 58 7 12-10 3-12 10-13 17-5 15 0 20 20-12 30-25 13-8 12-2 65-30 15-15-2-68-55-7-13-5-32-8-8-30-7-10-13 0-10 18-27 17 0 20-8 0-27-10-8-27-2-25-15-30-33-25-12-20-20-8-18-12-12-88 0 0 392 93 0 55 23 62-15 15 7 20 20-35 30-62-22-38 17-20 15-90 0 0 38 88 0 20 32 5 38 0 35-10 22-15 18-88 0 0 90 90 0 20 22 8 20-8 10-22 10-88 0 0 430 195 0 0-87 13-18 32-5 93 0 25 18 2 92 65 0 0-90 23-15 17 18 0 87 203 0 0-90 20-37 42 40 0 87 158 0 0-105-70-12-18-13-7-20 7-62-17-33-25-22 25-15 57-13 15-12 5-13 0-25-12-42 5-15 15-18 17 63 15 10 33 5 20 10 47 40 10 22 0 35-7 8-85-3-33-7-17-10-38 37 5 8 38 15 10 12 7 18 3 42 35 3 22 22 0 90 390 0 0-90 5-10 15-7 38-3 20 5 15 15 0 90 125 0 0-305-90 0-68-17-7-5-5-55 2-8 20-5 8 8 5 22 10 10 17 5 108 3 0-323-90 0-58 20-32-35 7-25 15-10 158 0 0-280-93 0-42-17-23-25 13-28 37-35 8-57 10-10 90 0 0-280-88 0-10-10 0-88-1050 0 0 88-20 12-12-12 0-88zM3298 3215l10 2 8 10-13 18-25-15zM3181 3215l12 12-10 10-7-7zM4221 3230l17-15 23-8 27 8 25 15-15 12-30 13-12 0-18-8zM3866 3210l35-3 22 23 0 60-20 20-22-20-5-30-15-30 0-13zM3058 3150l8 5 5 12 7 60-17 30-28-27 13-63zM4051 3152l30-5 20 18 2 7-5 13-17 25-40-40zM3178 3090l10 2 15 18-7 17-15 18-35-35zM3341 3112l2-7 23-18 57 0 20 20-20 23-27 5-33 15-12-15zM3001 3082l35 28-3 12-22 15-10 0-13-7-15-20zM4091 3050l17-13 30-10 23 5 22 18-17 15-15 5-15 0zM3368 2985l-5 12-20-7 18-13zM3061 2955l10 2 10 10 2 23-15 17-15 3-27-20 7-15zM3473 3050l-7-60 5-25 10-20 32 52 10 10 18 8 12-5 15-23 30-17 25 5 30 15-17 42-15 20-65 18-25 0-45-10zM4181 2912l27-2 25 20-30 35-20-13-22-22zM3788 2857l20 15-27 30-10-17-3-15 8-10zM4081 2792l17 40 35 40-12 23-15 15-25 12-28 25-45 20-22 23 10 60 35 35 7 27-5 23-7 7-8 0-17-7-43-5-32-20 7-125-17-73-25-20-15-22 25-15 7 0 23 10 10 17 15 8 67 0 15-13 33-75zM3061 2792l60-2 17 7 13 15-8 58 10 22 28 23 62-5 20 20-7 27-18 13-25-15-32-10-55 7-30-5-10-15 0-67-8-20-22-28zM3661 2782l15 10 7 25-12 53-8 7-7 0-15-7 0-60 12-23zM3336 2810l-35 17-48 5-20-2-25-18 0-5 15-12 53-10 25-18zM3941 2750l15-18 7-2 60 0 35 17 5 10-5 13-12 10-40 5-43 17-10-12zM3541 2720l25 30-23 35-17-30 2-15zM4201 2685l17 7-15 13-7-10zM3901 2670l17 22-15 15-17-15zM4021 2625l10 7-8 8-10-8zM3788 2612l25 20-32 35-20-35 15-17zM3191 2632l22-12 33-8 17 23-17 30-8 2-30-12zM3361 2587l12 15 5 28-15 35-5-3-12-30 5-25zM3681 2567l0 10-13 13-45 15-20 17-37-50 22-17 43-5 32 0zM3511 2572l-25 15-28-5-22-10 22-12 23-20 20 15zM3316 2512l25-12 22-3 15 18-7 35-13 7zM3861 2572l0-60 35-20 127 0 20 20-22 23-63 10-55 57-27-12zM4263 2485l13 7 15 20-23 15-7 0-15-15zM3003 2432l18 15 2 8 0 57-22 23-15-20 0-60zM3421 2377l15 15-13 45-5-2-12-38 5-12zM4081 2350l15 10 20 32-3 8-30 27-17-35zM3378 2335l-15 15-45-15 35-15 10 0zM3743 2330l18-25 17-40 5-3 38 33 25 12 22 23 0 5-25 15-65 5-30-15zM3238 2260l18 12-13 18-15-5-10-10zM4061 2240l40 2 15 18 0 22-15 28-18 15-27-25-15-25 5-25zM3628 2215l30-15 20 15-15 32-20-10zM3541 2195l20 5 22 15 0 60-10 10-25 10-7 0-20-18 0-62zM3961 2180l45 10 15 7 17 18-2 10-23 22-10 28-15 15-20 10-20-5-15-15-12-63zM3713 2155l8-15 22 15-17 7zM3101 2155l5-20 15-25 57 22 13 23-13 10-17 2-35 15-18-12zM4286 2095l12 60-15 17-17 13-8 0-20-13-32-35-13 0-15 13-32 77-8 3-10-10-20-65 53-70 27-10 33 0 42 5zM3983 2075l15-8 25-2 13 15 7 17-7 20-13 13-32-13-18-17-2-8zM3603 2020l18 15-10 7-10 0-8-7zM3298 2002l15 5 18 18 22 67-22 28-13 35-15 15-17-15-8-30-17-30 15-35 7-38zM3721 1995l12 15 10 25-10 22-10 13-25 5-7 20-10 10-20 5-15-15 7-25 25-18 3-17z"/><path fill="#a0ff00" fill-rule="evenodd" d="M3193 2395l-7-15-35 2-25 10 52 13zM2853 1887l0 220 88 0 30-27 15-8 20-2 15 7 17 18-17 62 30 58 10 10 35 15 20 20 10 20 15 12 47 13 10 10 10 47 10 5 23 0 25 23-5 30-35 30 0 62-40 20-18-2-65-50-12-23-3-15-12-17-28-8-10-10-2-17 7-20 20-23 23-12-50-25-35-35-35-15-15-18-10-27-88 0 0 375 93 0 55 20 62-10 23 10 17 20 0 5-37 32-10 0-55-22-35 17-23 18-90 0 0 22 88 0 7 8 20 42 3 50-8 30-22 30-88 0 0 68 93 0 17 12 15 35 0 15-10 10-25 10-90 0 0 425 185 0 0-87 23-30 125 2 20 13 12 12 0 90 53 0 0-90 30-20 7 3 13 15 0 92 195 0 0-87 10-28 15-22 50 47 0 90 142 0 0-90-10-10-57-10-15-12-8-18 5-72-22-35-25-20 27-18 63-17 17-23-10-45-12-17 2-60 33 0 22 82 18 13 45 12 27 25 15 8 13 15 12 50 35 12 20 23 0 57-17 23-13 2-20-20-10-37-25-38-122-10-20 20 2 5 28 13 10 12 12 53 8 7 22 5 23 23 2 92 380 0 0-92 15-25 63 2 22 18 5 7 0 90 118 0 0-302-100 0-60-15-18-10-7-60 5-5 32-8 13 13 5 15 12 12 13 5 105 3 0-313-90 0-60 20-33-35-5-35-10-7-10 0-15-23 18-12 22 10 5 15 18 5 160-3 0-262-90 0-20-5-35-15-18-28 8-30 32-37 10-25 5-30 20-20 88 0 0-265-90 0-13-15 0-88-1030 0 0 95 5 8 33 5 20 15 7 12 20 70-22 23-20 42-18 18-20-18-7-25-23-37 23-58 0-32-5-10-33-3-15-17 0-88zM3298 3210l10 2 13 13-3 12-15 13-32-20zM4213 3227l23-17 35-5 30 10 22 15-27 22-23 8-20 0-27-13zM3181 3202l22 25-20 15-15-15zM3178 3085l13 5 17 20-15 30-10 10-20-13-22-25 0-5 12-10zM3443 3097l3 15-23 23-40 10-20 12-12-12-15-35 25-25 62-3zM3001 3072l47 40 3 13 17 15 5 12 8 83-18 30-17-5-20-25 0-25 7-33-5-22-40-13-12-10-10-17 0-8zM4081 3050l10-10 37-15 28 0 15 5 20 17-13 18-27 10-38-8zM3376 2990l-13 12-37-12 32-20 10 5zM3471 2940l10-10 37 60 23 17 10-5 20-22 30-15 60 22 2 8-17 45-20 17-75 18-30-3-45-12-8-8-5-35 0-50zM4166 2910l42-5 18 7 10 10 2 10-37 40-48-42 3-10zM3788 2852l25 13 5 7-35 43-12-18-8-27 13-15zM3666 2775l12 10 8 15 0 27-10 43-15 15-35-15 7-15 3-43 5-15 20-22zM3063 2775l25 7 40 3 15 5 13 12 2 15-10 45 8 25 25 23 65-3 20 20-3 30-20 23-12-10-48-20-82 7-10 8-3 25-25 25-17-3-23-15-2-15 5-12 15-15 27-8 10-7 0-75-30-53zM3346 2810l-3 5-42 17-58 5-20-7-22-18 2-10 10-10 58-12 17-10 13-18 22 35zM3956 2727l72 0 35 18 8 7 5 18 10 10 17 50 40 42-12 30-18 18-32 12-28 23-37 15-23 20 13 60 25 20 7 12 8 53 10 7 32 5 18 20-5 23-18 27-50-47-7-15-30-15-43-8-35-25 0-72 8-45-15-65-45-55 27-18 20-2 20 5 28 27 60 0 12-10 25-57 0-13-10-10-25-5-40 13-20 12-7-7-18-43 0-17zM3541 2707l32 43-30 45-5-3-17-37 5-25zM3901 2662l10 8 10 17 0 10-18 15-20-17 5-20zM4021 2620l15 12-13 13-15-13zM3781 2607l20 5 17 18-5 12-27 30-15-10-15-30zM3181 2632l20-12 37-13 18 8 12 17-10 23-17 20-43-13-10-10zM3561 2575l15-20 22-8 68 0 22 25-17 20-40 15-28 25zM3518 2567l-7 13-25 12-38-7-27-13 32-17 30-28 20 15zM3326 2495l35-3 20 18 0 130-18 35-5-3-15-32 3-45 15-23-28-20-32-40 10-12zM3853 2575l0-63 20-17 25-8 125 0 23 20-3 13-15 15-60 12-15 8-25 32-27 23-30-15zM4261 2477l17 5 20 25 0 8-7 7-23 10-7 0-18-17 3-15zM3001 2427l15 3 12 17 0 68-22 27-8 0-7-7-10-20 0-58zM3421 2372l20 20-5 30-13 30-5-2-17-53 5-15zM3383 2332l-5 13-12 10-28-5-35-15 3-5 47-15 15 2zM3243 2255l18 17-5 13-15 10-23-8-7-10 10-12zM3733 2332l18-22 30-58 20 10 15 18 40 25 22 25-5 10-32 15-55 5-40-15zM3658 2195l10 2 13 13-3 20-17 30-23-10-20-30 5-10zM3541 2190l25 7 25 18 0 62-15 15-30 8-13-5-17-20 0-60zM3708 2152l5-17 10-8 35 28-12 7-25 5zM3121 2095l60 22 10 15 5 20-15 18-30 7-28 15-20-15-7-17 5-38zM4293 2095l13 60-25 27-18 10-32-17-28-30-17 10-33 75-10 12-12 5-5 10-5 35-10 20-25 20 30 35 10 20 0 10-20 28-25 12-18-37 3-38 15-27-35-35-18-43-7-5-13 28-20 17-17 8-15 0-15-8-15-20-13-62 48-43 10 0 55 15 40 43 35 0 10-8 2-12-15-55 25-28 20-40 10-10 13-5 45-2 52 5zM3961 2060l60-3 25 33 0 17-8 18-10 10-12 2-38-17-17-23zM3603 2007l35 28-7 10-30 2-13-10zM3723 1987l18 28 5 27-18 30-22 13-18 25-27 5-18-18 0-32 10-13 10-2 10-15z"/><path fill="#e0ff00" fill-rule="evenodd" d="M4048 2807l-20-12-10 0-37 15-8 27-15 20 0 13 5 5 58 0zM3183 2390l-15 5 13 2zM2853 1887l0 210 90 0 20-25 33-10 30 10 22 23-20 62 33 60 30 8 17 10 35 45 33 15 22 0 5-8 0-12 30-23 10-2 18 15 5 12-10 15-15 8-33 2-2 33 5 15 10 10 32 7 18 23-5 37-13 13-15 5-7 10 7 55-5 7-47 20-28-5-62-52-23-48-7-5-20 0-10 10 0 75-13 23-17 15-8 0-12-10-10-23 2-67 25-30 23-5 5-33 10-25 27-22-37-18-33-30-42-15-15-17-88 0 0 327 90 0 55 18 68-5 25 10 20 25-23 27-25 18-47-20-20-3-35 20-20 18-88 0 0 5 90 0 18 25 10 27 2 68-17 40-15 15-88 0 0 20 88 0 10 20 35 25 2 57-17 18-28 7-90 0 0 230 88 0 42 40-42 43-88 0 0 107 178 0 0-97 7-18 23-15 17 8 38 5 67-3 28 15 15 18 0 87 37 0 0-90 38-25 12 5 13 18 0 92 187 0 0-95 15-35 13-15 57 55 0 90 128 0 0-87-5-5-60-10-18-15-5-18 5-75-5-10-35-40-40-7 35-8 23-12 65-20 15-18-8-35-25-27-5-18-10 20-57 20-55 8-65-13-15-17-3-118 20-10 13 8 32 55 18 15 27-25 28-13 25 3 40 17 62 0 8 8 7 52 10 25 23 15 40 10 22 23 20 10 13 15 10 45 10 10 22 7 20 20 3 70-5 10-20 15-10-2-20-20-10-33-25-37-103-5-17 2-5 5 27 18 8 17 7 43 8 7 25 10 20 25 0 90 370 0 0-87 22-43 60 8 20 10 13 12 5 10 0 90 110 0 0-192-88 0-25 15-37 7-38-10-17-22 0-10 15-15 32-10 35 5 33 15 90 0 0-80-98 0-75-18-17-12-13-60 23-15 32-3 30 38 23 10 95 0 0-303-90 0-60 23-38-40-10-28-17-15-13-25 15-17 10 0 25 10 25 17 65-7 88 0 0-23-88 0-5-5-5-30 10-30 88 0 0-157-103 0-45-15-20-33 0-17 13-35 27-35 13-43 17-20 10-5 88 0 0-252-90 0-18-18 0-90-872 0 0 88-10 10-28-3-12-7 0-88-85 0 0 90 37 8 18 15 20 95-30 30-15 32-23 23-25-23-17-42-15-18 22-57 0-13-15-22-12-3-25-25 0-90zM3353 3287l10-7 18 5 2 5-20 7zM3298 3205l15 5 13 15-5 17-15 13-13-3-30-22zM3181 3190l32 37-5 8-27 12-18-17zM3333 3107l20-22 10-5 68 0 17 15 3 17-18 20-42 15-28 18-15-15zM3181 3080l10 5 20 22-8 25-20 25-17-10-33-35 15-17zM3001 3065l52 40 20 22 5 13 8 95-10 22-15 18-25-5-15-15-5-18 5-70-13-10-37-10-13-20-2-17zM3381 2987l-3 8-15 12-20-2-32-15 47-30 15 10zM3788 2847l28 13 12 12-47 53-15-25-8-30 18-20zM3663 2767l23 15 5 15 0 25-10 50-20 18-35-10-15-10 15-20 7-45 10-23zM3063 2760l33 15 57 5 13 10 2 22-10 23-5 37 10 18 18 15 62-3 20 15 8 13 0 27-5 18-10 10-15 2-18-15-25-12-27-5-55 5-13 5-7 7-10 28-23 20-27-5-20-15-3-25 8-20 15-10 30-5 7-10 0-58-30-60 10-37zM3706 2752l10-7 27 0 15 5-2 5-38 5zM3356 2810l-5 7-43 18-70 5-32-15-13-13 0-12 13-15 57-8 18-10 22-22 25 37zM3956 2722l70 0 40 18 12 10 13 25 17 52 15 20 28 23 2 22 20 8 48 2 20 15 5 13-15 22-30 28-55-48-5-17-18 17-35 8-25 17-45 18-17 15 15 57 7 8 105-35 50 5 20 20 0 10-12 15-40 10-40-10-25-13-33 5-2 48 5 15 10 10 30 10 20 22-5 23-23 35-75-73-75-25-20-17-7-63 10-62-10-53-50-62 42-25 40 0 13-5 2-30-15-30-5-38 10-15zM3181 2715l5 2 5 30-8 28-12-10 0-20zM3541 2697l40 53-38 55-7-5-20-45 5-33 10-17zM3898 2655l15 10 13 22-3 18-20 12-25-22 3-18zM4021 2615l20 17-18 18-20-18zM3783 2602l30 10 13 20-20 28-25 20-18-20-10-30zM3266 2620l5 17-10 23-20 22-43-2-15-5-12-30-13-13 83-30 12 5zM4141 2597l5 3 5 30-8 10-10-8zM3676 2547l15 20-5 15-15 15-43 18-25 25-12-10-38-55 10-20 23-10 80-3zM3846 2577l0-67 10-13 20-10 152-2 23 25-3 10-25 22-65 15-27 35-28 23-32-10zM3261 2512l40-40 15 13 45 2 15 8 10 15 5 35 17 17 15 3 63-48 25 15 12 20 5 20-15 13-30 12-37-7-23-10-22 7-13 23-7 45-13 25-7 5-23-45 0-68-45-45zM4261 2467l12 0 23 10 12 28 0 10-15 15-22 7-18-5-15-17 5-25zM3423 2367l23 25-8 40-15 28-12-13-15-50 5-20zM3388 2332l-5 18-15 10-40-8-32-15 0-5 12-10 48-12 12 2zM3661 2292l10 20 30 23-20 10-23 30-27-20-10-23 12-22zM3726 2332l22-30 20-42 18-18 17 8 33 35 22 10 23 22 7 18-17 12-33 13-62 2-28-10zM3663 2190l8 2 15 18-8 35-17 25-30-5-18-15-7-35 30-18zM3543 2185l38 15 17 15 0 67-15 18-45 2-27-27 2-63 20-22zM3123 2082l65 23 10 17 3 33-18 20-32 10-25 15-10 0-20-15-8-38 3-30 7-22zM4283 2080l18 15 10 50-3 17-20 23-30 12-32-17-23-28-7 5-18 30-20 50-22 25-13 50-17 23 15 15 17 42-12 30-15 15-28 13-10-13-15-37 0-38 8-27-30-35-13-30-12 20-20 15-28 7-20-5-22-25-15-67 42-40 15-10 80 15 13 12 7 23 15 10 8 0 15-10-15-60 25-23 17-25 8-17 2-28 5-5 15 8 103 5zM3926 2035l37-8 30 20 30 5 13 13 15 27 0 18-8 22-17 13-23-3-27-10-18-20-7-45-8-17zM3601 1997l60 43 42-45 20-15 20 30 8 30-23 40-20 15 0 10 45 37 23 13-13 10-25 7-25-2-10-13-2-32-13-5-27 0-23-23-5-30-10-10-20-2-17-13-3-12z"/><path fill="#ffd800" fill-rule="evenodd" d="M3008 3302l-15 5-37 40 0 90 65 0-3-125zM2968 3170l0 57 35 33 5-90-5-5zM4023 2800l-30 12 8 30 17 15 5-2 15-38 0-7zM4081 2185l-5 30 10 2 2-10zM2853 2280l0 295 88 0 57 15 73 0 27 10 15 15 5 12-2 10-50 43-58-23-10 0-27 15-23 20 20 33 8 25 2 62-15 40-15 18 8 25 15 17 27 13 63 10 5-5 0-60-13-18-15-37 5-30 15-40 5-5 15 17 40 15 33-7 20-45 5-35-15-33-25-20 15-10 32-5 50-17 25 5 13 12 5 18-13 30-22 25-20 0-18 7-7 50 5 20 20 10 27 0 30-15 25-25 38 50 20 18 60 0 5 5-5 7-60 0-53 23-67 5-38-15-17-18-5-12-18 40-5 35 23 25 62-3 13 8 20 25 2 40 10 12 15 3 63-35 17 22 3 20-25 23-60-20-60 0-13-13-42-22-23 0-52 7-13 13-7 20-25 22-30 0-18-5-12-20-3-35-7 38-18 17-32 5-93 0 0 120 88 0 5-12 0-20 55-55 57 47 30 8 3 125-20 40-10 10-30 2 2 5 28 3 35 17 85 0 27 13 23 22 0 90 25 0 0-90 22-20 20-10 20 5 13 20 0 95 85 0 0-92 5-20 7 22 0 90 80 0 0-90 13-37 22-25 58 57 27 5 0 90 68 0 0-87-53-8-10-12 0-63 5-40-12-20-23-22-55-8-10-5 8-10 52-7 35-15 43-10 20-20-5-20-25-33-55 18-50 7-33 0-65-12-7-13-5-97-13-30 45-15 10 7 35 58 13 12 30-25 27-10 40 8 20 10 68 2 12 15 5 45 8 23 27 20 45 10 18 22 20 5 12 20 3 35 15 20 30 15 15 20-3 73-15 17-15 5-17-10-15-17-10-33-18-27-40-8-52 3 5 7 2 55 5 10 28 15 25 30 0 90 140 0 0-87 7-8 20 3 5 5 0 87 188 0 0-90 20-45 7-7 15 7 65 13 18 15 7 15 0 92 103 0 0-177-90 0-18 7-35 5-47-2-20-13-5-27 5-15 10-10 47-10 40 7 23 10 90 0 0-67-95 0-70-13-23-7-15-15-7-33-8 5-60 0-55-17-12 5-10 12-5 23 2 12 15 15 23 8 25 30-13 37-22 25-70-70-28-15-40-10-20-10-17-17-5-35-13-23 13-25 5-25-8-67-50-63 13-15 22-12 50-13 13-17-15-45-3-48-32-2-13-8-10-15 0-15 8-20 12-12 10-3 15 15 13 25 0 30 90 0 47 18 23 22 17 60 20 28 30 25 10 17 20 8 43 2 17 13 0 27-47 50-58-50-60 15-27 18-35 10-13 12 15 45 23-7 37-3 28-10 72-2 23 10 55 0 42 45 18 7 90 0 0-295-90 0-60 25-43-45-40-67 5-15 18-13 25 8 35 20 32-3 10-10 5-57 15-38 88 0 0-107-88 0-7 42-10 13-13 5-32 2-28-27 10-40 20-18 28-2-28-8-15-15-12-35 10-42 7-18 23-30 15-42 12-15 18-10 90 0 0-238-88 0-25-25 0-90-150 0 3 158 25 15 85 5 32 15 18 22 7 55-7 15-18 18-25 12-15 0-22-10-30-27-25 47-10 30-28 33-2 40-8 20 10 15 8 25 2 22-5 25-15 23-27 12-20 0-20-32-8-25-2-65-20-25-8-20-30 22-25 5-35-5-17-20-15-65-25-12 25-5 62-53 53 5 27-2 18-10 22 0 28-28 17-27 8-48 0-160-108 0 0 88-7 12-5-12 0-88-288 0 0 90 15 20 13 40-15 35-23 25 25 28 38 25 60-8 7 13-7 27-15-7-43-8-25 10-35 3-15-5-10-15-5-23-12-10-28-7-20-23-7-25-8-7-27-10-15-18 5-17 20-35 60 45 55-53 0-90-280 0 0 90-15 15-28 3-20 12-5 35 10 53-27 25-20 37-20 23-13 2-20-17-22-48-18-17-25 10-7 47-15 18-55 25-13 10-32 2 25 10 35 50 27 15 8 0 20-25 35-17 27 22 3 13-15 20-33 7-12 23 5 15 10 10 35 10 10 10 5 15 0 50-8 10-30 2 5 33 35-35 23-3 17 25 15 8 43 7 15 20 7 33 20 17 33-17 32-33 28 5 17 15 10 45-17 15-38 15-57-15-23 10-10 20-15 58-17 22-13-17-12-33-10-62-40-48-43-20-20 13-37 12-35-5-10-5-18-22-27-18-20-47-13-13-10 3-12 17 0 65-10 20-23 20-7 3-13-5-10-10-7-23 2-72 10-18 35-27 10-45 8-15 12-10-22-10-30-25-40-18zM4021 3285l7 5-5 20-5-3-2-15zM3346 3287l12-12 13 0 37 15-12 10-38 2zM3298 3200l18 5 15 20-5 22-20 13-28-10-22-20 17-18zM3181 3177l42 50-7 10-33 18-25-25 5-23zM3176 3077l17 5 23 28-13 32-20 23-15-8-42-47 25-23zM3446 3077l7 8 3 25-23 27-35 13-35 22-15-12-20-50 23-28 25-7zM4261 2850l7 20-7 12-5-10zM3788 2842l30 13 18 17-55 63-18-28-10-37 23-25zM3661 2687l7 5-5 10-7-10zM3511 2737l10-37 10-10 12-3 43 58 0 12-38 53 0 20 8 22 27 13 20 0 15-15 20-73 20-15 30-2 3-8 15-12 60-5 17-8 13 13 42 5 8 10-73 2-75 13-10 95-10 17-20 13-52-18-63 0-7-7 0-60-18-33-7-22zM4018 2610l8 0 20 22-20 23-8 0-20-23zM3816 2602l12 13 3 20-18 25-32 27-20-22-13-33 5-10 25-22zM3678 2542l15 18 3 12-5 10-25 23-43 20-20 22-15-10-42-62 5-23 15-10 100-5zM4141 2490l5 5 2 87 8 35 0 18-13 12-15-12 8-53 0-72zM3716 2510l7-23 53 13 65 0 17-15 28-5 140 0 12 5 13 12 5 15-25 30-70 20-25 33-35 27-30-7-25-20-8-13-7-47-10-10-35-8-65 0zM3958 2390l5-3 3 8-5 2zM3393 2362l30 0 23 20 5 10-13 60-15 15-15-10-17-60zM3393 2362l-37 3-58-18-10-10 0-7 18-13 57-12 30 27zM3508 2215l5-10 25-23 28 5 35 20 65-22 12 5 13 17-3 25-20 45 10 23 18 17 27 10 20-27 28-55 12-13 33 8 12 12 10 25 38 18 12 15 8 25-23 17-25 10-70 5-25-7-35-20-25 12-15 15-10 25-7 8-58 0-7-8-3-72-12-10-40-3-10-5-25-27zM3421 2150l7 5-5 5-7-5zM3896 2035l17-8 50-7 23 7 20 15 15 3 22 22 13 28-3 52-12 5-25 0-53-10-7-12-18-65-10-13-25-10zM2853 1887l0 180 90 0 20-10 45 0 20 8 30 30-22 60 27 50 13 0 7-18-5-95 40-20 65 15 58 0 22-52-7-15-28-18-20-25 0-90z"/><path fill="#ff9000" fill-rule="evenodd" d="M3003 3335l-15 12 0 90 20 0 0-87zM4218 3287l33 13 42 5 18 12 7 23 0 97 93 0 0-157-148-3zM4411 3150l-100 0-48-10-60 0-7-28-10-15-108-22-15 15-5 22 10 13 33 15 20 27-10 40-13 23-17 17-83-85-20-10-40-10-40-25-12 10-5 43 10 15 30 15 20 27 0 73-5 15-8 7-17 5-25-7-15-15-23-53-7-7-60-8-13 15-5 38 13 15 25 12 17 23 3 97 125 0 0-90 12-15 33-7 12-18 3-20 15-15 7 3 13 15-10 47 0 100 137 0 0-92 13-35 12-20-7-63 12-37 8-5 15 5 62 2 35 10 93 0zM2853 3100l90 0 50-53-10-12-12-5-118-3zM4193 2990l-50-40-10 0-62 25-50 12-3 5 3 10 7 5 65 5 73-5 20-7zM4026 2810l-13 2 8 13zM4271 2812l7 63-25 67-20 28-22 20 0 5 17 17 30 5 15 8 28 35 22 12 88 0 0-282-93 0zM3123 2640l-30 30-27 17-10 0-48-22-10 0-40 27 13 20 10 35 2 50-5 35-20 40 15 25 28 18 32-5 18-18 2-22-12-23-10-42 27-93 5-2 28 42 22 10 25-5 13-17 15-50-13-25zM2853 2290l0 275 103-3 7-10 3-100 12-25 35-30 3-62-38-30-35-15zM3898 2260l-17 7-5 8 15 7 12 18 3-25zM3763 2190l-40-5-20 5-5 10-5 42-12 30 2 10 25 28 15 5 18-25 30-60 10-10 30-5zM3061 2112l-15 43 17 30 10-20 0-23-5-20zM4161 1887l-3 150 8 8 32 12 68 3 35 15 17 20 5 30 88 0 0-115-90 0-23-20-7-13 0-90zM4038 1887l0 93-10 30-12 15-3 10 20 10 15 17 13 30 5 33 7 10 10 2 35-40 8-52 0-158zM3738 1887l0 90 13 20 10 43-15 37-15 20 22 23 30 20 30-8 30-20 25 75 20 10 15 0 43-35 7-12-20-70-20-23-22-12-5-13 15-12 92-10 10-8 3-115zM3611 1887l0 90 52 40 40-40 0-90zM4411 2170l-88 0-17 25-43 17-30-7-32-20-15 30-8 32-22 30-5 63 10 50-3 190 8 57-10 15-15 3-23-23 8-52-3-85-15-20-27-5-13-10-17-43-13-72-17-25-88 5-52 32-38 13-67 2-58-20-30 25-10 20-15 13-62 0-15-15 0-63-18-15-30-5-15-7-20-23 0-70 13-20 22-15 25 3 43 17 27-12 53-10 5-23-15-17-33-15-12-15-10-25-15-13-20-5-18-22 8-30 17-33 0-90-147 0 0 90-20 23-28 10-12 12-5 25 7 50-15 18-10 2-10 10-20 38-30 25-12-5-20-20-25-50-8-3-17 15-8 28-17 25-65 35 25 40 22 22 5 0 23-25 30-12 15 2 17 15 10 18-5 27-45 13-10 15 0 7 20 18 38 0 5 5 0 45 7 22 43 40 15 8 45 7 5 8 2 30 20 27 8 0 15-10 35-37 17-3 48 8 17 22 13 5 117 3 10 10 3 30-18 25-52 27-8 15-17 15-10 0-15-12-38-63-22 15-33 10-70-10-17 23-10 45-13 27-17 15-13-10-15-32-10-55-7-18-23-20-20-27-20-13-15-2-47 17-63 0-10-7-10-25-10-5-17-20-10-40-8-8-12 8 0 62-10 30-13 15-17 10-38 5 63 10 65 3 35 22 45 3 47-15 25 0 13 5 10 10 5 15-8 35-15 25-42 32-10 28 2 12 18 13 20 2 27-15 8-12 22-18 18 13 12 25 28 30 60 0 17 17-15 15-62 0-45 18-53 5-37-3-25-10-18-15-5 3-15 47 18 20 62 0 15 8 20 22 8 35 15 18 62-40 25 0 5 5 0 52-22 25-23 3-40-13-65 0-20-20-42-22-48 2-22 8-20 35-23 17-50 8-7 15 52 45 58 7 30-22 35-8 17 10 18 25-8 30-22 33 45 60-23 20-27 12-10-2-25-30 10-40 12-20-17-13-33-37-5 0-12 10-8 17 0 83-7 25-20 35 20 12 25 8 67-3 40 20 15 18 0 92 8 0 0-90 22-22 25-13 38 0 7 18 0 107 68 0-3-102-15-18-47-7-5-8 0-27 10-10 20 0 55 15 10 10 7 50 0 97 65 0 0-92 10-35 13-23 17-15 60 60 10-5 10-15 5-32 3-53-10-15-20-20-58-5-17-17 17-18 118-22 15-8 12-15-12-25-15-15-35 13-53 7-52 0-38-7-10 2-10 10-7 30-20 20-40 15-38 28-27-43-8-27 5-18 13-15 17-10 65-2 20-8 5-10-2-72-8-25-17-18-28 0-2-5 5-5 22-2 40-15 28-5 17 12 5 15 33 48 15-13 37-15 33 3 35 12 65 0 20 20 7 63 15 17 13 8 62 2 13-27 22-23 15-32-7-65-45-50-55 65-8 0-17-23-15-50 7-15 30-22 35 10 25 15 33-20 40-10 17-13 3-7-18-75-12-8-25-5-13-15 0-42 5-15 10-10 18-5 17 15 13 20 10 32 12 10 70 0 30 8 25 12 18 15 10 25 7 40 28 35 47 40 25 3 20-5 13-18 7-57-27-25-23-38-20-22-12-40 5-13 12-10 33 3 42 20 15-8 10-10 8-17 17-85-15-13-45-7-17-15-10-18 5-35 15-25-15-32 0-45 15-48 27-40 10-37 13-13 22-7 93 0zM3246 3227l35-27 35-5 10 5 10 15 0 45-18 7-25-2-25-13zM4016 2602l17 5 20 25-27 30-15-5-20-25 7-17zM4053 2482l5 8 3 25-10 17-18 15-72 23-15 25-43 35-37-3-23-10-10 28-42 47 0 5 20 28 32 10 13 10 2 7-12 15-70 0-60 10-10 10-5 18-8 67-30 30-57-15-63 3-15-10-5-10 3-60-15-30-8-28 0-40-5-22 38-15 10 0 40 52 12 25-40 63 13 25 27 15 8-3 12-20 10-62 15-13 28-7-23-30-5-28 10-12 10-3 15 15 3 25 15 10 35 0 27-10 15-20-22-37-8-30 13-20 12-10 18-8 20 0 12-5 8-10 0-10-10-20-20-15-75-2-15-10-3-8 8-45 10-22 27 5 30 17 63 0 32 8 163 0zM3961 2365l12 12 5 13-15 20-17-15 2-13zM3288 2312l58-12 20 0 30 25 15 27 25 10 12 13 10 20-12 60-13 17-17 5-15-10-18-80-10-12-70-18-20 0-5-5 0-27zM3421 2137l17 18-15 15-17-15zM3541 2087l7 5-5 10-7-5zM2958 1887l0 150 18 8 57 10 18 10 12 15 20-13 35-10 63 10 62-2 10-33-10-12-25-10-20-30 0-93z"/><path fill="#ff5000" fill-rule="evenodd" d="M3358 3322l-10 8-5 15 0 92 53 0 0-90-10-15-18-10zM4248 3287l10 5 33-2-23-5zM3783 3252l-10 15-5 23 10 10 30 15 15 22 3 100 110 0-3-95-10-7-25-3-20-10-15-17-7-25-15-25zM4211 3170l25 12 77 10 98 0 0-37-108 0-47-8-30 8zM3113 3142l-10 23-2 82-18 43 35 15 70-3 28 10 25 25 27-22 45-13 10-7 3-8-8-10-45-12-30-25-47 27-15 3-18-10-20-30 3-23 12-37-35-35zM3901 3130l-10 15-5 25 15 15 27 12 18 28 0 72 10 23 7 2 15-7 10-10 10-23 23-20 20 3 10 12 0 28-8 32 0 100 118 0 0-95 20-50-5-70 17-52-10-58-10-10-20-7-45-5-22-8-15 10-8 18 13 12 25 10 17 18 8 15-13 57-10 18-22 20-23-13-2-17-63-63-17-10-50-12zM3661 3080l-60 12-58 3-60-8-12 10-13 33-15 15-52 22-25 28-18 7-5 30 10 20 68 15 22 23 5 40 0 107 50 0 3-110 10-32 25-33 12 0 53 58 10-5 10-23 2-65-20-25-60-2-22-20-5-13 25-25 60-7 67-15 13-13zM2853 3087l88 0 37-37-7-8-23-7-95 0zM4178 2990l-37-30-63 25-27 5 52 12 50 0zM3441 2987l-13-30-10-5-12 13-5 27-10 18-18 15-25 2-40-10-67 0-20-17-5-10-30-18-65 3-13 10-10 25-17 17-18 8-22 2-18 13 38 32 60 8 22-15 38-10 22 10 23 30-8 40-15 25 40 47 30-22 58-13 5-12-8-13-10-40 0-12 8-15 15-15 22-10 48 0 25-8 5-7zM4286 2812l2 65-12 45-53 70 15 13 40 15 15 15 5 12 20 18 93 0 0-270-88 0zM3606 2762l-5 0-33 50 8 13 25 20 17-33-2-32zM3918 2750l-17-18-20 3-10 7-8 20-22 20-60-5-60 8-15 25-5 62-20 28-20 10-55-13-65 3-20 7-3 25 23 33 47-18 30 0 40 10 85 3 10 10 5 70 5 15 15 12 40-5 43-40 17-30-2-62-35-38-50 60-8 5-17-2-10-13-15-75 7-15 30-22 38 5 27 12 28-15 32-5 23-15zM3001 2670l-33 22 18 50 2 53-7 52-13 23 5 10 30 25 25-13 13-17-18-68 15-75 15-40zM3581 2670l-8 10 0 15 25 40 10 5 20-23 3-47zM3123 2652l-20 20-32 20 37 58 18 5 7-8 23-55-20-30zM3846 2642l-43 50 18 23 20 10 15-5 5-18-3-40zM3543 2597l-22 10-38 8-62-10-18 25-12 60-25 27-18 0-12-12-23-98-12-15-10 3-13 72-17 33-33 22-12 30 10 10 17 5 28-17 2-18 18-12 30 0 12 12 3 23 27 30 60 0 23 20 2 7-25 25-62 0-50 15-78 3-37-10-13-10-12 25 0 15 12 12 63 0 20 10 15 18 7 27 13 20 47-27 15-15 53-8 92-22 8-80-15-38-8-50-20-30 13-12 42-15 30-5 5-5 3-23zM3783 2540l-67 2-8 10-2 25-8 15-22 20-13 3-27 17 0 33 27 0 20 17 13 25 10 8 17 5 23-10 15-15-15-28-8-27 8-28 22-20 33-7 15-13-13-20zM3281 2582l0-12-20-20-18-10-42 12-48 5-22 15 15 18 30 10 47-10 53-3zM4081 2480l-13 12-2 25-8 15-17 18-70 22-15 23-30 30-15 7 20 20 12 40 10 13 88 5 27 7 23 13 20 25 7 50 13 22 12 13 13 5 30 32 15 8 20-5 12-10 8-60-13-10-25-38-25-27-12-30-5-30-8-8-25-10-20-25 8-55 0-65-18-25zM4011 2595l25 5 17 17 8 15-8 15-27 23-20-8-23-30 5-22zM3061 2450l-5 90-8 20-17 12 52 3 10-5-7-18-5-32-13-28-2-37zM3298 2367l-12 23 7 27 45 45 23 10 20-5 7-10-10-65-5-7-12-8zM3243 2315l-10 5-10 15 13 12 12 3 13-5 7-8 0-7-7-10zM2853 2300l0 250 88 0 7-5 8-18 7-87 10-20 33-25-3-28-10-32-15-15-37-20zM4201 2205l-5 10-5 47-18 35-7 30 7 85 13 40-13 28-5 27 5 123 5 15 10 7 25 3 53 15 20-25 15-75-20-13-20-2-15-8-20-20-5-12-3-70 3-60 12-65 10-23 23-17 2-10-5-25-25-23-2-7zM4291 2215l17 5 103 0 0-23-88 0-10 10zM3726 2192l-10 3-13 17-2 33-8 22 0 10 25 25 5 0 8-10 27-62 15-15-20-15zM3061 2142l-5 13 7 10 3-15zM4173 1887l0 90-5 58 33 17 52 0 30 5 30 15 10 13 88 0 0-68-90 0-30-25-8-15 0-90zM4048 1887l0 95-17 53 25 25 15 55 12 12 28-35 5-52 0-153zM3748 1887l0 88 10 20 8 47-8 28-15 27 25 23 20 7 30-15 25-27 15 25 15 57 15 15 15 5 38-32-10-58-8-15-20-20-20-7-10-13 0-10 25-22 70-8 23-15 5-10 0-90zM3626 1887l0 90 37 28 28-28 0-90zM3146 2215l35 47 30-22 32-8 30 20 15 40 13 10 52-10 28 8 20 20 12 25 28 12 15 15 7 18-10 82-12 13-25 2-13 20 5 18 13 15 35-28 0-12 12-13 75 5 30 30 28 8 82-8 10-12 10-65 18-15 60 15 62 0 20 17 35 8 130 0 20-5 8-10-10-28-10-60-15-25-15 0-10-7-30-5-20 7 10 8 20 2 10 10 2 38-25 25-25-20-7-38-15-7-15 0-23 12-27 8-83 2-47-12-25 22-8 20-20 13-67 0-23-20-2-65-23-15-35-10-22-30 2-70 23-30 22-10 63 17 27-10 35-5 15-15-12-17-38-20-17-35-10-10-40-3-5-7 0-35 20-53 0-90-125 0 0 88-25 32-18 8-20 17 5 90 25 3 25 27-15 23-15 5-22-23 0-25-5-5-28 0-15 18-12 27-18 18-22 5-28-23-27-50-13 13-12 32-20 23zM3556 2072l5 5 2 18-22 20-20-20 20-23zM2986 1887l0 148 12 5 40 2 23 10 60-10 50 5 72-2 3-10-5-5-33-8-17-22-3-113z"/><path fill="#ff1800" fill-rule="evenodd" d="M3361 3332l-10 15 0 90 30 0 0-90zM3783 3270l-7 20 32 12 15 15 8 18 2 102 88 0 0-90-13-7-32-8-18-17-7-30-10-15zM4233 3167l10 8 30 5 138 0 0-18-110 0-45-5zM3121 3152l-8 15-2 75-10 48 17 7 73-2 27 7 23 15 27-15 30-5 15-7-7-8-38-7-25-15-55 20-17-3-18-10-17-30 0-45 5-22zM3901 3147l-8 23 13 10 25 7 20 28 2 77 10 15 15-12 10-23 18-17 25-10 10-18-18-17-17-8-28-35-15-7-30-3zM4081 3095l-10 15 12 10 28 7 12 13 8 15 2 22-7 45-10 25-15 18-25 12-10 18-8 47 0 95 93 0 0-95 15-52-5-55 10-55-5-70-23-10zM3661 3095l-28 5-152-3-8 10-10 33-10 10-47 17-10 18-43 35-2 10 10 15 62 7 18 10 12 15 8 25 2 135 28 0 2-117 13-45 15-20 15-10 12 0 20 15 15 30 18 17 12-17 3-60-15-18-60 3-28-20-12-25 5-13 17-20 23-10 117-12 8-8zM2853 3067l90 0 18-17-18-8-90 0zM4158 2990l-15-13-40 13 38 7zM3433 2990l-12-23-20 50-13 13-20 7-20 0-45-7-65 0-27-20-13-23-15-7-57 0-13 10-10 30-12 12-53 18 25 20 63 2 40-12 25 0 20 7 12 13 10 27-5 38-10 25 18 22 10 5 25-12 35-5 15-10-10-63 10-27 12-13 40-10 45 0 13-7zM3843 2910l-22 22-8 20-10 10-25 10-12 15 2 63 13 10 32-10 10-20 38-40 0-60zM4318 2805l-15 7 0 60-10 58-55 60 20 12 30 10 15 18 5 20 15 10 88 0 0-255zM3601 2782l-18 30 13 15 7 3 8-25zM3911 2750l-8-8-17 5-15 33-28 17-40-5-80 3-10 12-2 60-10 28-25 20-130 0-15 17 10 15 42-7 35 0 43 7 62 0 18-15-8-45 0-22 8-20 15-15 20-8 32 0 33 8 22-8 43-5 7-5zM3241 2730l-15 22 20 8 12-8-5-15zM3601 2680l-13 12 15 23 13-25zM3006 2680l-23 12 10 53 0 82-10 45 18 18 15-8 10-12-10-40 0-43 15-85-3-12zM3123 2670l-30 22 28 43 20-40-5-13zM3843 2665l-25 27 20 18 10-5 5-13zM3541 2615l-50 7-70-5-10 15-5 50-10 25-18 18-22 10-10 15 15 20 60 0 22 10 15 17 5 15-7 18-15 15-18 7-70 0-15 5-107 5-50-7-5 15 2 5 18 5 50 0 22 7 18 18 7 30 10 15 28-18 7-12 25-20 60-5 65-15 10-18 3-57-18-75-20-18-10-22 23-25 70-20 7-10zM3303 2610l-10 15-2 32-13 35 18 15 10 0 15-12-8-63zM3781 2552l-58 0-10 15-10 35-12 13-45 17 12 18 25 12 15 18 8 17 15 10 25-15-8-15-7-37 10-38 17-15 25-5 18-10zM3266 2572l-25-20-28 8-37 2-20 8-3 5 23 12 67-5zM3421 2497l-10 15 5 10 10 5 15-12 0-5-10-10zM4081 2495l-8 12-2 20-20 28-58 17 10 10 23 3 22 10 15 17 5 28-20 30-25 10-27-10-18-23-5-30-10-15-22 25-10 5 12 18 8 42 7 8 88 2 35 8 20 10 12 12 10 20 8 63 12 12 25 10 13 13 7 17 15 10 15-12 8-53-23-30-25-20-12-20-10-50-8-12-27-13-20-25 0-132zM4201 2470l-18 37 3 125 15 13 62 10 15-23 8-60-43-15-20-15-10-22-5-38zM3303 2377l-10 13 8 22 20 8 15 15 7 20 13 7 12 0 10-10-10-60-10-7zM4041 2455l-8-63-10-27-12 7-15 38-28 22-22-5-18-17-10-25-15-15-30 10-55 5-97-5-13 12 3 10 12 10 50 10 68 0 12 8 18 22 27 10 128 0zM3233 2330l0 7 8 5 17-7-10-10zM2853 2315l0 215 90 0 8-23 5-75 10-22 20-18-13-57-30-20zM4201 2297l-18 40 5 63 15 30 8-30 5-78-8-20zM3721 2202l-10 13-3 60 13 12 10-12 7-35 13-23-5-7zM3901 2075l-23 7-5 8 8 60 20 25 25-20-8-60zM4188 1887l0 93-5 55 18 10 85 2 30 8 5 5 90 0 0-33-90 0-20-7-18-18-7-17 0-98zM4063 1887l0 90-10 60 10 13 10 50 10 12 15-17 3-28 0-180zM3758 2095l23 20 17-8 15-12 10-20 30-25 8-25 15-18 25-12 62-3 18-15 0-90-218 0 0 95 8 25 2 35-5 30zM3643 1887l0 88 20 15 13-13 0-90zM3466 1887l-3 100-20 28-35 20 3 62 10 13 17 7 18 20 7 18-10 20-17 15-18 5-27-20-10-23-10-10-10-2-23 47-17 13-20 5-18-5-17-13-10-17-3-15-12-18-13 18-10 30-12 12-43 18 18 22 50-12 15 0 25 10 10 10 10 30 10 15 65-5 27 10 13 12 7 25 10 10 25 5 18 20 5 15-5 73 10 15 70 7 25 20 10 18 10 5 72 0 15-13 8-50-3-10-15-12-65 0-17-8-18-17-7-18 0-57-10-8-35-7-20-15-8-23 5-80 8-17 12-13 20-7 28 0 42 10 60-10 13-10-8-8-37-15-15-22-3-15-12-13-18 8-10 17-25 23-12 0-25-23-5-15 7-15 33-27 5-13 2-22 13-38 0-90zM3018 1887l0 93 8 17 15 15 17 8 68 0 17-8 15-15 8-17 0-93z"/><path fill="#ff0000" fill-rule="evenodd" d="M3361 3345l-3 92 10 0 0-87zM3791 3287l27 5 15 13 8 40 0 92 67 0 0-87-7-5-23 0-20-8-12-22 0-20-5-13zM3196 3287l42 10 48-7-40-10zM3551 3230l15 2 20 15 7 18 3 22 7 5 0-67zM3123 3180l-7 107 52 0-27-7-10-15-5-20zM4253 3170l63 0-53-5zM3903 3162l0 10 33 3 10 5 10 15 7 97 5-5 8-32 17-15 30-5 3-8-5-5-33-7-15-18-5-27zM3598 3110l-117-3-5 38-13 15-47 10-8 32-22 18-25 5 0 7 75 5 22 10 10 13 8 27 0 150 7 0 0-95 8-77 7-18 10-10 25-7-22-8-15-15-8-25 3-35 7-15 18-12zM4083 3105l0 7 30 3 18 10 7 20 3 32-5 65-8 25-15 15-30 8-7 45 0 102 65 0 0-102 7-38 3-105-3-82zM3426 2990l-3-5-5 5 0 45-7 10-173 0-22-5-18-13-7-15-3-22-65-3-5 8-2 30-15 17-45 8 5 5 27 2 110-5 23 5 12 13 5 15 0 90 65-3 5-5-5-60 8-37 20-15 90-5zM3843 2925l-7 5-3 45-7 7-45 3-3 5 3 62 10-2 12-40 18-15 20-5 7-53zM4323 2812l-7 53-3 67-5 18-17 22-28 8-7 10 7 5 35 5 18 22 5 30 90 0 0-240zM3833 2812l-47-7-63 2-5 23-2 67-5 13-15 12-23 5-82-2-43 5 175 5 5-5-2-80 7-20 8-8 22-7zM3601 2805l-3 7 5 3zM3903 2750l-7 2 0 58 5 0zM3243 2745l-5 7 8 0zM2998 2690l3 135-5 45 10 5 5-183zM3843 2685l-7 5 5 7 5-5zM3121 2685l-8 7 8 13 7-13zM3541 2632l-118-5-5 5 0 50-10 43-12 12-33 8-5 5 5 7 93 0 17 10 3 80-10 15-275 8 57 2 35 8 13 15 5 40 10-5 7-25 23-20 17-5 43 0 80-10 7-53-7-65-28-10-12-15-10-32 10-33 17-15 38-10zM3301 2627l-5 65 10 3 0-63zM3783 2567l-60 0-10 45-12 13-40 5-3 5 40 12 15 23 3 22 10 3 2-15-5-50 5-33 13-15 47-10zM3248 2572l-5-5-70 5 8 5zM3421 2510l2 7 5-5zM4083 2507l-5 10-2 30-8 13-15 7-40 5 40 8 20 17 5 50-7 23-13 12-17 5-38 0-17-5-18-22-2-30-5-5-8 7 5 58 5 5 125 2 30 10 13 15 5 18 2 72 45 13 13 12 7 23 5-50-12-10-20-5-18-18-10-37-2-48-5-5-30-5-20-22-5-25 2-123zM4201 2502l-5 10 2 120 63 8 5-5 2-63-35-5-20-12zM3301 2390l2 10 35 0 15 10 3 42 7 3 3-18-5-42zM4028 2452l-2-57-5-10-13 42-12 13-25 7-18 0-25-7-15-18-10-35-172 8 42 7 73 0 17 5 23 20 5 20 7 8zM2853 2327l0 185 88 0 5-87 10-30-5-60-10-8zM3726 2212l-8 3 3 47 10-42zM3901 2090l-8 5 3 60 7 5 5-5 0-45zM4203 1887l0 98-7 50 117 0-27-5-13-13-5-12-2-118zM4076 1887l-3 153 10 60 5-30 0-183zM3968 1887l-192 0 0 95 5 48-5 65 5 5 10-5 5-25 17-25 28-10 5-25 17-20 25-8 75-2 5-5zM3478 1887l0 93-5 27-17 23-33 7 0 58 20 2 15 8 15 25 3 35-10 27-13 10-30 8-32-8-13-10-7-15-3-22-7-3-5 33-10 17-35 10-35-2-18-8-7-10-5-37-5-5-10 47-20 15-28 3 73 2 27 8 13 17 2 30 5 8 75-3 28 8 12 15 5 32 55 3 0 120 5 5 63 0 20 5 20 15 12 35 63-3 7-60-5-5-70 0-25-7-12-13-8-22 0-70-67-5 5-140 5-15 12-13 23-5 107 3 33-5-48-13-10-15-5-35-7 3-10 32-18 15-35 5-22-7-13-13-10-30 8-35 17-20 28-7 7-50 0-98zM3048 1887l0 90 13 13 62 0 13-13 0-90z"/></g></g><rect x="291.20" y="194.60" width="144.00" height="143.20" fill="none" stroke="#303040" stroke-width="0.9"/><path d="M291.20 337.80v5.50M291.20 337.80h-5.50M294.80 337.80v2.80M291.20 334.22h-2.80M298.40 337.80v2.80M291.20 330.64h-2.80M302.00 337.80v2.80M291.20 327.06h-2.80M305.60 337.80v2.80M291.20 323.48h-2.80M309.20 337.80v5.50M291.20 319.90h-5.50M312.80 337.80v2.80M291.20 316.32h-2.80M316.40 337.80v2.80M291.20 312.74h-2.80M320.00 337.80v2.80M291.20 309.16h-2.80M323.60 337.80v2.80M291.20 305.58h-2.80M327.20 337.80v5.50M291.20 302.00h-5.50M330.80 337.80v2.80M291.20 298.42h-2.80M334.40 337.80v2.80M291.20 294.84h-2.80M338.00 337.80v2.80M291.20 291.26h-2.80M341.60 337.80v2.80M291.20 287.68h-2.80M345.20 337.80v5.50M291.20 284.10h-5.50M348.80 337.80v2.80M291.20 280.52h-2.80M352.40 337.80v2.80M291.20 276.94h-2.80M356.00 337.80v2.80M291.20 273.36h-2.80M359.60 337.80v2.80M291.20 269.78h-2.80M363.20 337.80v5.50M291.20 266.20h-5.50M366.80 337.80v2.80M291.20 262.62h-2.80M370.40 337.80v2.80M291.20 259.04h-2.80M374.00 337.80v2.80M291.20 255.46h-2.80M377.60 337.80v2.80M291.20 251.88h-2.80M381.20 337.80v5.50M291.20 248.30h-5.50M384.80 337.80v2.80M291.20 244.72h-2.80M388.40 337.80v2.80M291.20 241.14h-2.80M392.00 337.80v2.80M291.20 237.56h-2.80M395.60 337.80v2.80M291.20 233.98h-2.80M399.20 337.80v5.50M291.20 230.40h-5.50M402.80 337.80v2.80M291.20 226.82h-2.80M406.40 337.80v2.80M291.20 223.24h-2.80M410.00 337.80v2.80M291.20 219.66h-2.80M413.60 337.80v2.80M291.20 216.08h-2.80M417.20 337.80v5.50M291.20 212.50h-5.50M420.80 337.80v2.80M291.20 208.92h-2.80M424.40 337.80v2.80M291.20 205.34h-2.80M428.00 337.80v2.80M291.20 201.76h-2.80M431.60 337.80v2.80M291.20 198.18h-2.80M435.20 337.80v5.50M291.20 194.60h-5.50" stroke="#404048" stroke-width="0.9" fill="none"/><g font-family="'Liberation Sans', Arial, sans-serif" font-weight="bold" font-size="8.2" fill="#151515" stroke="#151515" stroke-width="0.2"><text x="291.20" y="355.30" text-anchor="middle">0</text><text x="309.20" y="355.30" text-anchor="middle">1</text><text x="327.20" y="355.30" text-anchor="middle">2</text><text x="345.20" y="355.30" text-anchor="middle">3</text><text x="363.20" y="355.30" text-anchor="middle">4</text><text x="381.20" y="355.30" text-anchor="middle">5</text><text x="399.20" y="355.30" text-anchor="middle">6</text><text x="417.20" y="355.30" text-anchor="middle">7</text><text x="435.20" y="355.30" text-anchor="middle">8</text><text x="281.90" y="340.70" text-anchor="end">0</text><text x="281.90" y="322.80" text-anchor="end">1</text><text x="281.90" y="304.90" text-anchor="end">2</text><text x="281.90" y="287.00" text-anchor="end">3</text><text x="281.90" y="269.10" text-anchor="end">4</text><text x="281.90" y="251.20" text-anchor="end">5</text><text x="281.90" y="233.30" text-anchor="end">6</text><text x="281.90" y="215.40" text-anchor="end">7</text><text x="281.90" y="197.50" text-anchor="end">8</text></g><text x="363.20" y="363.00" text-anchor="middle" font-family="'Liberation Sans', Arial, sans-serif" font-weight="bold" font-size="8.4" fill="#151515" stroke="#151515" stroke-width="0.2">x [mm]</text><text transform="translate(266.40,266.20) rotate(-90)" text-anchor="middle" font-family="'Liberation Sans', Arial, sans-serif" font-weight="bold" font-size="8.4" fill="#151515" stroke="#151515" stroke-width="0.2">y [mm]</text><rect x="293.50" y="196.90" width="34.30" height="11.40" fill="#fff" stroke="#505060" stroke-width="0.9"/><text x="295.30" y="205.40" font-family="'Liberation Sans', Arial, sans-serif" font-size="8.1" fill="#202020" stroke="#202020" stroke-width="0.12">PTFE 60</text><rect x="437.40" y="193.70" width="52.30" height="145.30" fill="#fff" stroke="#454545" stroke-width="0.9"/><rect x="439.70" y="198.00" width="7.20" height="136.20" fill="url(#cbg)"/><path d="M445.90 198.00h6.00M445.90 201.41h3.60M445.90 204.81h3.60M445.90 208.22h3.60M445.90 211.62h6.00M445.90 215.03h3.60M445.90 218.43h3.60M445.90 221.84h3.60M445.90 225.24h6.00M445.90 228.65h3.60M445.90 232.05h3.60M445.90 235.45h3.60M445.90 238.86h6.00M445.90 242.26h3.60M445.90 245.67h3.60M445.90 249.07h3.60M445.90 252.48h6.00M445.90 255.88h3.60M445.90 259.29h3.60M445.90 262.69h3.60M445.90 266.10h6.00M445.90 269.50h3.60M445.90 272.91h3.60M445.90 276.31h3.60M445.90 279.72h6.00M445.90 283.12h3.60M445.90 286.53h3.60M445.90 289.94h3.60M445.90 293.34h6.00M445.90 296.75h3.60M445.90 300.15h3.60M445.90 303.56h3.60M445.90 306.96h6.00M445.90 310.37h3.60M445.90 313.77h3.60M445.90 317.18h3.60M445.90 320.58h6.00M445.90 323.99h3.60M445.90 327.39h3.60M445.90 330.79h3.60M445.90 334.20h6.00" stroke="#404048" stroke-width="0.8" fill="none"/><g font-family="'Liberation Sans', Arial, sans-serif" font-weight="bold" font-size="6.4" fill="#151515"><text x="455.70" y="200.50">100</text><text x="455.70" y="214.12">80</text><text x="455.70" y="227.74">60</text><text x="455.70" y="241.36">40</text><text x="455.70" y="254.98">20</text><text x="455.70" y="268.60">0</text><text x="453.30" y="282.22">-20</text><text x="453.30" y="295.84">-40</text><text x="453.30" y="309.46">-60</text><text x="453.30" y="323.08">-80</text><text x="453.30" y="336.70">-100</text></g><text x="469.90" y="268.20" font-family="'Liberation Sans', Arial, sans-serif" font-weight="bold" font-size="6.0" fill="#151515" stroke="#151515" stroke-width="0.1">z [μm]</text><clipPath id="c5"><rect x="38.00" y="375.90" width="147.60" height="146.70"/></clipPath><filter id="f5" filterUnits="userSpaceOnUse" x="30.00" y="367.90" width="163.60" height="162.70" color-interpolation-filters="sRGB"><feGaussianBlur in="SourceGraphic" stdDeviation="1.40" result="b"/><feComponentTransfer in="b"><feFuncR type="table" tableValues="0.376 0.392 0.408 0.424 0.439 0.424 0.408 0.392 0.376 0.329 0.282 0.235 0.188 0.141 0.094 0.047 0.000 0.000 0.000 0.000 0.000 0.000 0.000 0.000 0.000 0.000 0.000 0.000 0.000 0.125 0.251 0.376 0.502 0.565 0.627 0.690 0.753 0.815 0.876 0.938 1.000 1.000 1.000 1.000 1.000 1.000 1.000 1.000 1.000 1.000 1.000 1.000 1.000 1.000 1.000 1.000 1.000 1.000 1.000 1.000 1.000 0.990 0.980 0.971 0.961 0.938 0.916 0.893 0.871 0.839 0.808 0.776 0.745 0.706 0.667 0.627 0.588 0.544 0.500 0.456 0.412"/><feFuncG type="table" tableValues="0.000 0.000 0.000 0.000 0.000 0.000 0.000 0.000 0.000 0.000 0.000 0.000 0.000 0.031 0.063 0.094 0.125 0.251 0.376 0.502 0.627 0.784 0.941 0.971 1.000 1.000 1.000 1.000 1.000 1.000 1.000 1.000 1.000 1.000 1.000 1.000 1.000 1.000 1.000 1.000 1.000 0.923 0.845 0.768 0.690 0.627 0.565 0.502 0.439 0.376 0.314 0.251 0.188 0.141 0.094 0.047 0.000 0.000 0.000 0.000 0.000 0.000 0.000 0.000 0.000 0.000 0.000 0.000 0.000 0.000 0.000 0.000 0.000 0.000 0.000 0.000 0.000 0.000 0.000 0.000 0.000"/><feFuncB type="table" tableValues="0.502 0.563 0.624 0.684 0.745 0.784 0.824 0.863 0.902 0.926 0.951 0.975 1.000 1.000 1.000 1.000 1.000 1.000 1.000 1.000 1.000 0.971 0.941 0.784 0.627 0.510 0.392 0.275 0.157 0.118 0.078 0.039 0.000 0.000 0.000 0.000 0.000 0.000 0.000 0.000 0.000 0.000 0.000 0.000 0.000 0.000 0.000 0.000 0.000 0.000 0.000 0.000 0.000 0.000 0.000 0.000 0.000 0.000 0.000 0.000 0.000 0.000 0.000 0.000 0.000 0.000 0.000 0.000 0.000 0.000 0.000 0.000 0.000 0.000 0.000 0.000 0.000 0.000 0.000 0.000 0.000"/><feFuncA type="linear" slope="0" intercept="1"/></feComponentTransfer></filter><g clip-path="url(#c5)"><rect x="38.00" y="375.90" width="147.60" height="146.70" fill="#68009f"/><g transform="scale(0.1)"><path fill="#6800d2" fill-rule="evenodd" d="M321 3700l0 283 88 0 10 32 10 10 30 10-20 5-118 0 0 110 90 0 8 5 0 23-8 27-90 0 0 313 130 0 10 5-2 62-25 5-113 0 0 695 1003 0 0-90 7-5 63-2 7 7 0 90 513 0 0-772-88 0-10-23-12-57-8-15-17-15 5-5 130-3 0-477-88 0-5-5 3-5 90 0 0-208-330 0 0 95-5 8-8-13 0-90-247 0 0 90-5 5-45 3-8-8 0-90-112 0 0 88-5 5-43 0-7-5 0-88zM1019 5133l7-5 5 7-10 3zM834 5130l10-10 37 15-45 3zM1211 5090l10 25 15 13 20 7-27 13-18 32-5-15 0-55zM594 5040l5 5 0 28-5 5-13-5 8-10zM1704 4885l2 65-5 5-40-2 0-5 18-3 12-12 5-43zM1326 4890l5-5 5 3-2 5zM1079 4893l7-8 30 0 18 5-30 5-15 8zM956 4890l5-5 13 5-8 5zM711 4890l8-7 35-8 15-20 2-25 8-7 10 10 5 30 12 12 35 8 8 7-8 5-52 3-70-3zM1509 4768l7-5 8 5zM1271 4640l5 5-5 5-5-5zM1414 4585l17-5 28 0 5 5-5 5zM486 4583l13-5 35 0 5 7-5 5-40-2zM841 4575l15 50 15 10 35 8-2 67-8-5-7-32-10-10-20-8-15 0-10-10 0-62zM716 4573l10 10-2 65-5 5-43 10-20 30-7-40 0-68 17-10zM779 4510l10 13-8 7-10-7zM674 4463l20-5 30 0 7 5-10 7zM1641 4455l8 15 0 53-8 5-5-5 0-63zM516 4460l0 5-15 3-17 12-13 30-5-12 0-38 5-5zM961 4355l5 0 3 18 10 15 22 7 23 0 7 5-2 10-28 15-20 28-2 30 7 20 40 2 20 10 68 3 35-10 17 10 30 5-22 7-15 13-10 30-10-23-23-12-42-8-98-5-15-17-5-38 0-77zM1084 4338l5-3 2 5-5 3zM841 4335l8 5-8 8-5-8zM471 4298l8 35-5 12-8-5zM1641 4275l5 5-5 48-20 15-42 2-5-7 2-45 15-15zM1764 4273l5 5-5 7zM1516 4235l5 0 3 15 12 18 28 10-5 5-43 0-5-5zM1526 4095l55-5 8 5-10 10zM1381 4095l8-7 7 0 8 7-10 5zM534 4045l7 50-7 5-48-2 0-18 10-17 23-15zM1449 4033l7-3 5 5-5 8zM719 4028l5 7-5 45-5-47zM1206 3973l8-3 2 5-5 5zM1091 3975l-5 8-47-10 47-5zM1626 3850l18-2 2 5-12 2zM1331 3800l5 5 3 23 12 22 8 33 25 27-23 10-15 20-12 80-8-35-2-55 2-120z"/><path fill="#4800f2" fill-rule="evenodd" d="M321 3700l0 208 108 2 2 3-10 17-5 33 3 25 7 17 13 13 25 10 70-5 15 70-13 10-65 2-10-37-12-15-35-8-93 0 0 100 95 0 13 10 2 63-17 7-93 0 0 285 103 0 17-5 10-7 8-33 12-17 55 5 15 7-7 10-35 15-18 33 0 17 8 18 17 12 30 5 13 13-10 10-128 7-90 0 0 585 88 0 5 5 0 95 232 0 3-92 15 2 0 90 537 0 3-200 7-22 20 42 15 13 25 7 5 8-5 12-20 8-17 15-13 22 0 95 93 0 0-90 17-10 63-5 12 15 0 90 105 0 0-90 8-5 5 5 0 90 390 0 0-145-88 0-5-5 0-62 5-5 88 0 0-538-93 0-15-5-15-70-10-17-20-20-5-15 8-10 150 0 0-473-90 0-5-5 7-12 88 0 0-108-88 0-5-5 0-90-235 0 0 105-7 15-15-30 0-90-225 0 2 110 10 25 45 58 3 22-25 13-23 30-7 80-10 15-8-15-7-53 0-150-10-22-15-8-23-2-7-10 0-93-108 0 0 90-7 8-60 2-10-10 0-90zM1024 5120l15 13-10 10-20-8zM824 5133l17-30 28 20 32 5 10 7-7 8-65 0zM1641 5055l5 18-7 5-5-10zM594 5010l5 3 2 60-5 7-32-7 15-10 7-15zM776 5008l3-3 5 8-5 2zM1271 4943l5 7-5 10-7-7zM471 4885l5 5 0 60-5 5-10-5 3-60zM1319 4890l10-7 12 7-7 8zM949 4890l15-10 20 10-15 8zM1704 4878l7 10 0 62-10 10-35 0-25 10-7-20 32-10 18-15 7-35zM1154 4885l-5 10-43 8-17 17-8-5-12-22 12-10 45-3 23-10zM704 4890l15-15 30-12 15-33 15-15 17 15 3 15 12 18 30 12 15 15-15 10-57 5-65-5zM1701 4763l5 2-2 8-8-5zM1499 4768l17-10 15 10-10 7zM1084 4700l5-2 7 10-10 5zM1271 4638l8 5-5 10-10-8zM1471 4585l-15 15-47-5-18-7 3-8 57-5zM841 4565l10 15 13 38 12 10 28 7 7 10 0 60-7 8-8 0-10-10-2-13-13-17-32-13-13-15 0-62zM721 4565l13 15-3 65-12 15-38 15-10 13-5 17-12 5-5-5-8-60 0-60 13-15zM594 4515l10 8-8 7-10-7zM779 4490l20 33-18 15-20-13 3-20zM751 4463l-7 10-18 7-60-7-17-10 12-8 53-2zM1641 4450l13 13 5 60-13 7-12-5 0-67zM846 4333l10 7-15 15-10-15 8-7zM1086 4328l10 12-7 8-10-8zM961 4275l8 3 0 67 7 25 15 15 35 8 8 7-5 28-33 32 15 23 13 5 17 17 25 8 23 2 32-5 18-7 10-13 20 20 42 8 8 5-10 10-15 2-20 13-25 45-10-8-8-17-25-20-42-13-90-5-30-7 5-25 0-95 7-55 0-63zM1764 4268l10 10-10 15-8-13zM471 4260l8 20 5 60-10 13-15-10 5-63zM1519 4210l7 8 10 27 15 15 25 10 65 0 8 8 0 62-5 5-63 5-10-10-2-30-13-17-37-5-15-10 7-53zM1129 4218l12-8 13 5-5 8zM1599 4095l-20 20-55-10-18-10 8-5 62-5zM1364 4093l20-15 15 0 15 17-15 8-33-5zM1451 4025l15 10-10 18-17-15 0-5zM719 4020l7 13 3 45 15 32 12 15 23 10 5 10 0 15-5 8-30 7-15 18-5 17-3 68-5 5-7-5-3-248zM1701 4015l8 13 2 67-7 5-13-5-2-35-8-25zM1209 3965l15 8-13 17-10-17zM1096 3973l-10 17-52-10-13-7 5-5 55-5zM896 3910l13-2 2 5-10 5zM1609 3850l20-7 12 0 13 7-13 13z"/><path fill="#1810ff" fill-rule="evenodd" d="M321 3700l0 203 90 0 40 10-17 15-10 27-3 20 8 20 12 15 28 13 37-3 28-7 22 82-22 13-30 0-33 7-10-12-10-33-15-12-15-5-100 0 0 85 90 0 18 7 10 10 2 33 10 27-5 10-12 5-113 0 0 275 95 0 15-5 15-12 10-30 15-18 63 8 15 12-10 15-30 15-20 30 2 15 15 18 30 10 15 12 3 10-15 13-63 7-155 0 0 570 93 3 5 17 0 90 217 0 0-90 20-7 18 10 0 87 520 0 0-92 7-120 10-20 13 15 12 27 20 18 15 5 10 15-5 17-20 13-25 30 0 92 75 0 0-90 18-12 72-8 15 18 0 92 95 0 0-90 10-7 15 7 0 90 383 0 0-137-88 0-10-15 0-60 10-10 88 0 0-525-93 0-35-13-5-12-2-50-18-23-10-30 0-12 13-10 150 2 0-465-90 0-10-12 10-13 90 0 0-102-93-3-5-7 0-88-225 0 0 113-7 22-8-2-17-40 0-93-215 0 0 98 15 35 20 15 15 20 10 42-5 13-33 25-12 27 2 83 8 7 42 5 15 18-2 10-25 10-45-10-5-18-13-7-10-28-10-65 3-137-8-18-10-10-25-7-12-18 0-90-98 0-2 93-18 10-27 0-25 7-18-20 0-90zM1026 5113l20 20-2 5-23 10-22-13zM816 5133l25-45 23 25 42 12 18 10-15 13-13 2-60-5zM1641 5035l8 38-13 7-12-7zM596 5005l8 18 0 52-8 8-45-8 0-5 15-5 10-10 13-42zM781 4998l5 17-7 5-5-12zM1271 4935l8 10 0 13-8 12-15-17zM469 4883l10 5 0 62-8 8-20-8 5-60zM1344 4888l-10 12-8 0-15-10 23-12zM941 4890l20-12 20 5 10 7-25 13zM1704 4873l12 15-5 67-10 8-37 5-10 5-13 17-10-17-5-23 15-10 25-7 13-13 12-37zM1149 4848l7 42-7 8-38 10-25 27-15-17-10-28 25-12 40-5 18-13zM696 4890l23-22 17-8 15-15 10-22 18-15 22 20 15 27 25 13 20 20-5 7-20 10-45 5-67-5zM1701 4758l10 10-7 12-15-12zM1491 4768l23-13 10 0 15 13-15 10-13 0zM1086 4688l8 2 12 15-15 15-5 0-7-12zM1269 4635l15 10-10 10-13-7zM1476 4583l-20 22-60-5-10-15 15-10 58-2zM836 4558l15 10 18 45 12 10 23 7 10 13 0 65-10 10-15-5-20-30-28-15-20-23-2-62 5-13zM719 4555l17 13 5 12-2 63-20 25-25 10-15 15-5 12-18 10-15-12-5-123 18-17zM594 4508l17 15-12 15-8 0-12-15zM641 4463l13-10 70-3 40 10 35 40 7 28-17 15-20 0-13-10-12-38-88-17zM1641 4445l20 20 8 55-3 5-25 10-12-12 0-63zM841 4328l23 12-20 20-15-17 0-5zM1086 4320l13 18-10 15-13-10zM964 4270l7 8 0 60 10 30 18 15 25 5 15 12-10 43-18 20 18 15 10 17 27 13 33 2 35-12 15-23 20 28 57 20-17 17-23 10-15 18-5 15-17 17-13-7-25-30-40-20-37-8-75-2-35-10 10-15 7-28 10-200zM1764 4265l12 13-12 20-10-15 0-8zM471 4238l8 20 10 85-15 17-8-2-15-18 10-92zM1519 4203l12 10 15 30 15 12 30 10 50 3 10 10 5 62-15 13-62 0-13-15-2-23-10-15-15-7-30-5-13-10 8-20 5-40zM1109 4215l17-10 23-2 10 15-10 7-38-5zM1496 4095l18-10 70-2 25 12-30 28-58-10zM1454 4020l15 13 0 10-13 17-10 0-12-10-5-15zM719 4013l12 25 5 37 45 43 8 35-8 22-25 13-17 27-5 63-15 10-8-8 0-185-5-62zM1701 3995l15 35 3 65-13 8-25-8-2-20-18-40 20-10 13-12zM1216 3963l15 12-20 25-12-27 10-10zM1019 3970l17-7 53-3 10 18-13 22-20-10-40-7zM889 3915l0-5 12-7 20 7-17 15zM1594 3848l12-8 38 0 15 13-20 15-38-13z"/><path fill="#0060ff" fill-rule="evenodd" d="M321 3700l0 200 98 0 52 13-20 10-17 22-8 28 8 17 15 18 20 10 40-5 25-10 12 30 3 25 12 35-17 15-50 7-25 10-13-12-2-20-8-15-22-18-103-2 0 75 93 0 27 10 13 45 22 37 18 98 0 20-23 25-27-28 7-72-10-23-22-7-98 0 0 262 100-2 18-13 15-32 20-20 57 7 25 20-2 13-38 22-20 25 5 15 10 10 38 15 10 10 2 15-17 15-70 15-153-2 0 552 93 3 7 27 0 90 205 0 0-90 28-10 27 13 0 87 505 0 0-92 8-30 5-93 12-27 15 15 15 30 30 22 15 23-7 27-23 15-15 20 0 90 55 0 0-90 8-10 20-7 72-10 23 27 0 90 80 0 0-90 15-10 10 0 15 10 0 90 375 0 0-130-88 0-12-20 0-62 10-15 90 0 0-510-88 0-27-15-35-8-3-67-17-50 2-13 18-15 32 5 118 0 0-455-88 0-15-15 13-17 90 0 0-98-90 0-10-10 0-90-220 0 0 98 5 25 12 10 30 2 25 15-25 23-65-25-10-33-15-25 0-90-202 0 0 98 12 27 35 28 10 62-7 15-23 18-15 25 3 62 12 18 20 7 15-5 10-22 25-15 10-3 18 18-5 27-13 10-15 3-7 7-5 18-33 12-62-12-10-20-13-48-7-57 5-128-10-17-28-15-15-23 0-90-92 0 0 90-15 15-33 3-27 12-25-30 0-90zM1026 5105l28 30-30 18-25-10-8-10zM806 5133l18-20 17-40 20 30 73 32-23 20-12 3-13-5-45-3-32-12zM1641 5013l13 60-15 12-23-12 18-50zM596 5003l10 10 0 62-10 10-60-10 0-5 20-5 18-15 10-35zM779 4990l12 20-10 13-10-8zM1271 4928l10 12 3 15-8 20-7 5-13-12-7-18zM471 4878l13 12-3 63-7 7-30-7-3-10 8-53zM1306 4890l25-15 18 15-15 15-23-7zM936 4890l23-15 12 0 30 15-30 15-10 0zM1704 4865l17 25-5 63-12 12-28 5-20 10-15 30-10-15-12-45 50-27 20-43zM1149 4828l12 62-12 13-35 10-30 37-18-20-15-40 18-10 57-15 15-15zM691 4888l28-28 12-5 13-12 10-20 27-23 28 28 5 12 15 15 12 5 28 30-28 18-67 10-58-10zM1701 4753l15 15-12 20-23-20zM1481 4768l33-18 20 5 12 13-25 15zM1086 4678l5 0 25 25 0 7-27 20-13-20zM1271 4630l15 15-15 15-15-15zM1384 4588l0-5 12-10 65-3 23 13-28 30-60-5zM591 4500l18 5 10 15-3 13-15 12-17-2-13-18 8-17zM634 4460l20-12 75 0 55 15 25 35 7 22 0 25 25 3 15 15 15 42 18 15 15 5 15 20 0 60-15 15-23-7-27-33-13-5-22-22-5-20-3-80-35-3-22 3-5 5-5 87-20 25-28 15-20 25-15 8-17-5-8-8-5-40 0-95 23-15 80-7 10-10 0-18-5-10-18-12-77-18zM1639 4440l12 5 15 18 10 55-2 7-30 13-18-13 0-65zM846 4325l15 8 8 10-28 25-17-30 15-13zM1089 4313l12 30-15 15-15-18 8-17zM951 4273l15-5 10 10 0 65 10 22 10 10 35 13 13 12-18 63 10 20 13 12 35 13 27-5 28-20 10-23 7 20 13 15 17 10 38 10 10 8-25 25-15 7-45 53-13-5-30-33-37-22-43-10-67 0-58-15 25-25 10-33 5-145 5-42zM1764 4260l17 18-17 25-15-23zM1519 4195l22 20 10 20 18 15 30 10 42 3 15 15 8 62-20 18-65 0-15-18-5-22-13-15-35-10-22-15 12-30 5-33zM1086 4195l63-2 15 25-15 12-55-7-8-5zM1486 4095l10-10 18-5 75 0 27 15-37 38-58-13zM716 4008l8 5 10 20 7 37 18 18 25 10 7 30 0 32-10 25-27 23-8 22-5 48-20 12-15-12-2-248zM1701 3975l8 8 12 40 5 72-22 13-33-13-10-32-20-28 35-15 13-12zM1209 3958l30 15-28 35-5-3-10-25 0-10zM1101 3980l-10 25-7 3-23-13-35-7-12-15 12-13 63-5 12 15zM879 3913l22-15 15 2 15 10-30 23z"/><path fill="#00f0f0" fill-rule="evenodd" d="M321 4063l0 65 108 0 15-8 5-22-5-13-30-22zM321 3700l0 195 90 0 60 10 5 10-27 20-18 38 8 15 17 17 15 8 30-5 33-15 12 27 13 55 10 18-20 17-53 10-32 18-8 10 5 30 15 27 25 133-10 20-20 17-17-12-18-23 8-70-15-20-13-5-95 0 0 250 90 0 25-17 13-28 17-20 20-2 38 5 30 12 12 20-2 20-5 5-25 3-23 17-7 13 7 12 23 15 20-2 10-13 0-30 5-10 50-2 7 10 3 40 27 7 63-10 15-12 0-8-18-15-85-15-5-5 0-25 8-7 20-10 65 0 80 17 12 15 18 58 22 10 10 10 5 32 8 15 12 13 18 7 17 25 0 63-17 17-30-12-60-58-5-10-3-65-12-17-18-5-20 17-7 73-8 12-17 18-23 12-20 23-25 10-17-8-10-10-8-137-10-13-37 3-5 27-15 15-20 10-28 3-32 12-35-5-118 0 0 535 93 3 10 35 0 92 192 0 0-90 38-12 35 12 0 90 490 0 0-90 12-47 3-75 17-40 20 15 18 37 32 28 10 20-2 37-5 5-13 0-20 20 0 90 38 0 0-105 5-5 52-2 48-13 30 35 0 90 70 0 0-90 22-15 28 15 0 90 370 0 0-125-90 0-15-27 0-60 15-20 90 0 0-218-90 0-18-7 18-10 90 0 0-263-88 0-30-17-52-15 10-60-18-63 28-27 52 10 98 0 0-450-90 0-18-20 20-20 88 0 0-88-90 0-15-17 0-88-210 0 2 110 15 18 28 5 27 17-27 28-63-20-7-8-8-22-22-38 0-90-193 0 0 90 18 35 32 25 10 60-10 25-32 35 5 63 10 12 12 5 28-27 15-8 20-2 20 22-3 40-20 3-20 20-35 15-50-5-30-13-12-42-10-65-3-75 8-65-18-23-22-15-10-17 0-93-88 0-2 95-15 13-45 10-15 12-20-17-13-20 0-93-77 0 0 88-13 20-5-3-2-10 0-95zM1059 5133l-8 10-22 12-25-2-23-18 43-35zM799 5133l25-30 10-28 7-7 30 35 73 32-13 18-30 12-20-7-42-5-28-10zM1456 5060l13 13-8 5-10 0-5-5zM596 5000l13 13 0 62-13 13-62-10-5-5 5-5 22-8 15-15 10-32zM779 4983l15 22 0 10-13 13-15-15zM1274 4920l12 20 0 23-15 30-22-20-8-23zM474 4875l12 15 0 58-12 15-20-3-23-10 10-60zM1299 4890l30-17 7 0 15 15-2 7-15 13-20-3zM929 4890l35-20 30 10 15 10-10 10-20 8-20 0zM1704 4860l12 10 8 15-3 65-20 20-25 5-22 18-8 22 10 58-10 12-10 3-27-15 20-55-20-65 15-13 32-15 15-15 15-35zM1394 4823l5 5-3 5-7-5zM1579 4815l10 13-5 5-10-5zM1149 4808l15 70-3 17-7 8-38 15-15 15-12 22-20-2-18-25-7-38 27-15 28-5 27-12 13-15zM684 4890l57-55 10-20 25-20 8 0 92 95-35 23-40 5-20 7-62-12zM596 4758l5 10-7 5-5-5zM1696 4750l8 0 17 18-5 12-12 13-15-8-13-15 0-5zM1474 4768l42-23 25 8 13 15-13 12-15 5-15 0zM1581 4695l10 13-12 12-5-17zM1089 4665l17 13 23 27-18 23-20 10-10-8-10-22 10-33zM1269 4628l5 0 17 17-17 18-8-3-12-15zM1491 4583l-35 37-60-5-17-30 15-15 55-5 25 5zM1641 4433l30 27 15 63-37 17-10 0-18-17 0-60zM841 4320l25 10 10 10-7 13-28 22-22-35zM1086 4305l20 33-17 22-5 0-15-17 2-13zM956 4265l13 0 10 13 0 62 10 20 12 13 38 15 10 12-18 63 20 27 28 13 32-5 25-20 13-30 22 42 20 13 38 10 12 10-45 40-47 52-25-10-28-32-35-23-27-7-90-3-50-10-13-7 28-18 17-30 5-30 8-165zM1764 4255l22 23-22 32-18-25 0-10zM1516 4188l15 5 13 12 7 18 23 22 27 10 40 5 18 18 5 40 7 17-7 15-25 15-58-2-17-18-8-22-15-18-40-12-17-13 12-32 8-38zM1074 4158l12-8 10 3 15 22 15 8 23 2 12 13 5 20-17 15-63-3-12-12zM1199 4158l12-15 18 12-13 8zM1476 4083l5-5 100-3 28 5 15 15-48 45-57-12-43-33zM719 4000l17 30 13 40 22 18 30 7-5 15 0 45-12 38-25 25-8 57-10 10-17 8-8 0-12-13 0-187-5-55 7-23zM1701 3968l13 5 10 30 10 92-28 15-42-12-28-50 0-15 33-15 17-18zM841 3960l10 10-10 15-5-7zM1216 3955l30 18-12 22-23 23-15-23-5-22 13-15zM1106 3973l-5 22-15 23-27-18-33-7-15-18 13-17 60-8 7 3zM871 3915l8-10 22-12 25 5 18 12-40 28-23-8zM779 3833l7 17-5 5-7-5z"/><path fill="#00ff64" fill-rule="evenodd" d="M1271 5185l-10 10 0 90 18 0 0-92zM634 4523l2 7 18 13 60-10 12-10-12-10-55-13-15 5zM534 4500l-23 23 10 12 15 8 18-13 2-10-10-15zM321 4068l0 55 95 0 13-5 12-18-5-15-22-17zM321 3700l0 193 98 0 55 10 7 12-35 35-10 23 35 35 25-5 38-20 15 32 12 53 15 27-22 18-40 7-25 10-25 25 15 40 27 140-7 23-23 22-17-5-28-32 8-65-18-23-10-5-90 0 0 240 90 0 20-15 15-32 20-20 15-3 55 8 18 7 15 15 7 23 13 10 15 0 7-5 5-15 13-15 27-10 70 2 80 15 13 5 5 8 10 57 5 5 15 0 25-25 25-7 17-30 5-43 0-97 8-50 10-10 22-8 18 18 0 65 17 25 38 15 12 15-15 67 23 25 22 10 35-10 18-17 15-35 15 35 15 17 17 10 33 8 20 15-100 100-20-3-15-7-10-10-10-23-20-17-25-13-20-5-85 0-38-7-25 2-7 8-3 37 20 25 23 15 10 18 0 65-20 20-15-3-23-12-20-23-15-7-20-20-7-15-5-65-18-18-5 0-15 18-5 62-12 23-35 25-25 25-20 7-23-2-17-15-8-120-5-15-12-10-13 2-10 20-20 20-62 18-20 12-60-10-93 0 0 520 93 3 12 42 0 95 180 0 0-90 45-15 10 0 35 15 0 90 475 0 0-90 10-20 8-35 2-72 10-30 10-15 28 15 7 15 3 20 40 40 10 42 10 10 25 5 62-15 33 40 0 90 57 0 0-90 28-17 10 0 27 17 0 90 363 0 0-117-88 0-20-30 0-65 18-25 90 0 0-210-100 0-28-10 40-20 88 0 0-245-88 0-37-23-65-17 20-58-13-50 0-20 20-22 18-5 37 10 108 0 0-440-90 0-20-23 2-10 18-15 90 0 0-82-95-3-13-15 0-90-205 0 3 103 15 20 27 7 30 20-32 33-60-20-15-13-15-37-18-25 0-88-180 0 0 90 20 35 28 23 10 55-8 32-30 35 8 63 10 10 20-23 22-10 20-2 28 27 2 23 10 10 20 5 110 0 8 10 0 12-15 10-40 43-60-13-60-47-33 20-30 10-57-8-18-7-10-10-20-113 0-77 8-53-5-10-33-27-12-23 0-90-78 0 0 90-20 20-40 10-25 20-20-17-17-30 0-93-60 0 0 93-23 35-5-3-7-32 0-93zM1066 5133l-7 10-30 17-38-5-17-15 2-10 50-37zM789 5135l22-22 20-40 10-10 33 35 75 32 5 10-10 18-10 7-33 8-20-10-45-8zM1436 5073l20-25 25 25-20 10-10 0zM601 5000l10 13 0 62-15 15-62-10-8-7 33-20 12-15 8-25 15-15zM779 4975l7 5 13 28-3 10-12 12-5 0-15-17 7-28zM1279 4913l10 7 2 38-5 25-15 20-15-5-15-15-7-33 37-37zM471 4870l18 18 0 62-15 15-48-10-5-10 13-55zM1354 4885l0 8-23 20-27-3-13-12 5-13 35-17 15 7zM921 4890l40-22 30 7 28 15-18 18-30 5-15-3zM1704 4853l17 15 8 17-5 68-20 20-35 12-15 18-3 17 8 55-20 18-38-20 18-55 0-13-18-52 10-10 50-28 23-45zM1394 4820l10 8-8 10-10-8zM1579 4803l17 22-12 13-15-10zM1149 4788l12 47 8 55-18 18-40 20-22 32-40-7-10-23-5-40 15-10 72-25 18-25 2-25zM676 4890l58-55 12-25 30-22 20 10 28 35 60 57-40 25-58 15-65-12zM596 4748l10 20-10 12-10-10 0-7zM1696 4745l8 0 22 23-7 20-15 12-13-5-22-25 12-17zM1559 4760l0 13-13 12-25 5-35-10-22-12 55-28 27 5zM1581 4683l20 17 3 8-25 25-10-13-3-15zM1089 4655l17 10 23 23 10 17-5 18-13 12-27 10-13-7-12-28 10-40zM1271 4623l23 22-23 23-22-23zM1496 4580l0 5-40 40-62-2-18-40 18-15 70-5zM1641 4428l15 7 18 18 20 67-5 8-45 17-8-2-17-20 0-63 10-20zM839 4318l22 5 23 17-10 18-28 22-15-10-15-25 3-12zM1086 4300l8 5 15 30-3 13-17 17-10-2-13-18 3-17zM1766 4253l20 17 3 13-25 32-15-15-8-22zM1519 4178l27 15 10 25 23 22 22 10 38 5 22 20 8 40 10 28-18 17-20 10-62-5-18-17-10-25-15-15-15-8-20-2-25-18 13-25 12-47zM1061 4158l20-10 28 5 17 17 30 10 10 10 5 28-22 20-40 0-23 5-25-25zM1186 4155l25-25 30 18 8 10-25 10-23 0zM719 3993l15 22 17 50 20 18 33 5 17 7-17 20-8 55-12 33-15 15-10 57-5 8-33 15-7-3-15-17-3-248 13-27zM1701 3963l23 12 12 53 5 67-10 10-27 10-50-17-13-23-10-5 0-37 10-10 25-10 15-15 10-25zM1211 3950l33 13 7 7 0 8-20 32-22 15-13-17-7-38zM1009 3968l17-15 63-5 15 12 5 23-10 30-13 12-30-20-32-10-15-17zM846 3948l13 10 2 15-20 25-10-28 8-20zM954 3910l-50 35-28-2-7-5-5-13 0-12 7-8 33-17 30 5zM779 3813l10 27 0 13-8 7-12-10z"/><path fill="#40ff14" fill-rule="evenodd" d="M644 4520l0 5 12 10 60-12-50-13-12 0zM536 4510l-15 10 0 5 13 10 15-12zM321 4073l0 45 90 0 25-23-25-22zM321 3700l0 188 90 0 63 10 12 17-5 10-25 23-12 27 20 23 10 5 35-13 25-17 12 22 20 73 18 27-20 20-43 8-25 10-22 22 37 178-2 20-23 30-20 5-15-8-20-20-7-15 7-67-20-20-90 0 0 225 93 0 17-18 15-35 10-10 23-7 87 15 13 15 5 25 10 7 12-7 5-15 13-13 32-7 63 2 60 13 47 2 15 10 0 63 3-38 57 0 15-25 5-55-5-67 10-58 15-17 25-8 20 20 0 63 8 15 15 15 37 12 10 13-15 65 13 22 32 18 25-10 20-20 18-45 17 45 18 20 25 12 30 5 20 18-110 107-60 0-5-50-20-17-30-13-140-2-13 12-5 25 43 40 10 20 0 63-28 25-30-10-25-25-17-8-20-17-13-28-5-62-10-10-15 17-5 60-10 20-17 18-18 7-27 28-30 7-25-2-18-15-7-125-13-18-10 8-10 20-15 12-55 15-32 20-60-12-93 0 0 500 88 0 5 5 15 50 0 97 165 0 0-90 52-17 18 0 40 17 0 90 460 0 0-92 12-20 8-28 2-72 20-58 5-5 13 0 0-60 52-47 15-20 38-18 15 3 12 12 3 10-20 23-38 10-12 77-13 13-17 0 0 62 32 28 13 45 12 12 20 5 55-17 18 12 25 33 0 92 47 0 0-90 33-22 15 2 30 20 0 90 355 0 0-110-88 0-10-10-15-30 0-62 25-33 88 0 0-197-103 0-35-8-12-7 60-30 90 0 0-228-88 0-45-27-72-18-60 23-10 0-23-23 0-70 15-25 10-7 20 7 23 28 17 62 10-7 20-43-7-75 5-12 15-15 22-8 50 15 98 0 0-432-90 0-18-15-7-15 5-10 22-18 88 0 0-72-95-3-18-20 0-90-197 0 0 88 5 15 12 15 40 15 23 17-43 40-62-25-15-15-15-35-20-27 0-88-168 0 0 90 10 20 40 43 8 55-13 37-22 25 10 60 17-20 45-7 28 25 7 22 18 15 65 5 27-2 20-13 5-22 15-15 15-5 20-18 10-22 15-15 33 15 10 55 5 70-13 12-22 8-28-3-47-17-18 12-42 48-60-15-63-48-25 15-30 10-67-5-20-7-13-13-17-115 0-75 10-55-28-25-20-32 0-93-72 0-3 95-17 18-40 12-25 25-10-2-25-25-13-25-2-98-35 0 0 90-18 35-20 25-5-2-12-55 0-93zM781 5133l25-23 23-42 12-10 13 7 30 33 80 35 62-48 48 50-18 15-30 15-60 0-2 18-60 0-25-15-70-18zM1426 5075l5-15 25-25 38 38-33 15-17-3zM596 4993l18 17 0 65-18 18-62-8-10-10 2-7 40-30 13-30zM779 4965l15 18 10 27-8 15-15 10-20-22 8-33zM466 4868l8 0 20 22-3 60-20 20-37-7-25-13 10-27 5-33zM1709 4848l15 10 10 27-5 65-20 23-30 12-18 15-5 23 8 52-20 20-25-5-25-17 15-55-15-68 60-35 12-15 20-42 13-10zM1394 4815l15 13-13 15-15-10 3-10zM669 4890l62-62 10-28 18-15 15-5 12 3 20 15 28 37 57 55-47 30-38 8-22 10-68-18zM1166 4838l5 55-12 15-40 20-30 37-63-12-2-38-65 0-28-12-15-13 18-15 30-12 65 25 20-13 62-20 23-25 2-45 5-12 8-8zM1694 4740l17 5 20 23-7 25-18 15-20-8-25-30 15-22zM594 4738l12 7 5 23-15 17-15-15 0-10zM1579 4668l10 5 27 30-2 12-25 25-20 13 0 35 15 5 22 32-7 10-15 8-20-15 0-33-53-2-30-10-25-15 50-28 50-10 5-27zM1086 4645l28 10 25 25 10 20-3 53-60 0-7-10-15-40zM1269 4620l12 5 15 18-5 12-17 15-8-2-20-23 3-7zM1506 4583l-50 50-60 0-10-13-15-35 25-22 58-5 35 7zM836 4315l33 5 22 20-15 28-30 20-15-10-20-35 3-10zM1089 4293l10 12 15 35-20 28-13 2-15-10-5-22 13-30zM1766 4248l23 17 5 18-30 40-18-15-7-33 12-17zM1519 4170l35 8 7 10 8 35 15 12 27 13 30 5 23 20 12 47 13 20-20 25-20 10-70-5-20-20-10-22-13-15-20-10-25-3-20-15-2-7 17-30 13-45zM1271 4155l-10 13-15 5-62 5-5 7-3 33-25 22-32 3-33 12-37-37 0-60 30-15 32 5 35 22 20-2 45-50 40 20zM719 3985l22 38 10 32 18 20 10 5 45 3 17 10-20 12-10 13-10 50-27 70-8 40-15 12-32 13-23-23-2-255 12-27zM1221 3948l28 10 7 7 3 13-18 35-12 12-20 10-18-22-7-40 15-20zM1006 3965l13-12 15-5 42-5 18 2 15 15 5 13-5 32-8 18-15 12-27-22-35-13-18-20zM964 3883l2 27-62 43-25 7-38 53-15-43 8-22 17-23 5-15 48-27zM779 3793l5 2 10 45 0 13-13 12-17-15z"/><path fill="#a0ff00" fill-rule="evenodd" d="M651 4523l5 5 25-5-20-5zM534 4518l-5 5 5 5 5-5zM594 4438l-5 22 7 8 5-5-2-23zM321 4080l0 30 93 0 15-15-15-15zM321 3700l0 185 105 0 48 8 17 17-5 20-30 28-7 15 17 20 13 2 55-30 15 23 20 72 22 35-10 20-17 8-45 5-25 12-13 13 38 187-10 33-15 15-15 7-15 0-18-7-17-15-13-25 8-70-13-13-90 0 0 213 90 0 15-15 8-30 17-20 18-8 47 8 38 0 17-8 23-25 12 20 0 20 8 8 115 5 47 10 43-3 25-12 37 37 23 5 5-10 5-45-5-80 10-52 15-23 17-7 18 0 22 22 0 65 18 23 17 10 30-5 5-43 15-30 10-10 10 8 20 42-5 23-12 12-10 5-20 0-8 8 0 22-15 58 18 20 27 10 23-13 12-12 8-30 15-28 22 58 18 17 17 10 43 5 15 13 2 7-117 120-25 5 27 28 5 27 0 70 10 38 10 82-17 23-33 15-37 42-60-10-10-7-8-23-7-5-63-12-32-23 20-17 32-13 35 8 30 15 23-13 42-10 20-10 18-20 0-25-8-30-7-7-25-5-10-10-18-40 5-35 13-30 0-65-35-25-15-5-128 0-10 7-10 25 38 33 12 22 0 70-27 25-40-10-25-25-23-7-15-15-10-28-5-60-7-10-5 8-5 60-13 32-17 15-23 8-17 25-78 10-5 10 0 17-20 28-20-23 3-20 7-15 15-10 8-12-3-83-5-45-5-5-22 33-25 10-23 2-35 15-7 8-5 22-8 10-35-35-22-5-93 0 0 275 88 0 7-25 8-7 50-20 22 25-2 65-20 20-38-5-25-10-90 0 0 170 90 0 5 5 18 62 0 90 155 0 0-90 10-7 57-15 45 15 13 10 0 87 215 0 0-90-25-5-33-20-60-15-30-12-7-8 30-30 22-42 15-10 15 7 15 20 23 18 70 30 62-50 55 55-10 12-32 20-43 8-15 7-7 15 0 90 180 0 0-90 12-15 15-42 3-73 20-55 12-60 70-70 45-20 18 5 10 10 5 15-15 20-18 10-15 3-12 10-5 15 0 35 7 32-17 23-18 10-5 25 8 7 12 3 13 12 7 45 18 18 12 2 60-20 28 30 17 25 0 90 33 0 0-90 17-15 25-12 30 10 20 17 0 90 348 0 0-102-88 0-15-18-12-27 0-68 22-32 93-3 0-187-105 0-58-10-7-8 2-7 23-5 55-30 90 0 0-108-88 0-7-22 0-25 7-23 88 0 0-32-90 0-20-18-30-15-70-15-25 13-38 10-12-8-18-22 0-65 10-23 18-17 25 5 17 15 23 62 17-32-5-78 8-20 15-12 25-5 27 12 35 8 88 0 0-425-90 0-18-13-10-20 8-20 17-12 93 0 0-65-88 0-20-13-7-12 0-93-190 0 0 93 5 10 12 12 48 20 17 15-22 25-28 20-62-25-20-20-10-25-28-37 0-88-155 0 0 90 10 18 38 40 7 47 0 25-7 23-23 27 5 28 60 0 25 20 18 32 17 13 70 2 25-10 10-22 18-18 22-12 28-40 12-10 43 20 15 117-5 18-13 10-42 5-58-20-52 50-15 65 10 10 27 15 28 5 25 20 7 12 8 33 17 27-15 28-32 15-70-8-15-12-20-35-15-15-10-5-43-5-12-13-3-12 20-30 23-68 12-17 25-5-25-8-25-25-35-22-60 22-72-5-28-12-7-25-3-48-10-55 0-72 10-60-30-28-15-30 0-90-62 0 0 90-23 25-40 15-30 30-20-7-15-15-15-28-5-17 0-93-15 0 0 93-17 40-20 30-8 50-67 47-18 8-45 57-20-50 18-52 15-18 22-15 28-12 35-5 15-18-10-60 0-95-158 0 0 90 13 63-18 17-20-15 3-32 7-25 0-98zM1414 5073l15-28 27-25 15 23 38 30-48 20-30-5zM604 4995l12 15 3 63-23 25-62-10-15-15 42-35 13-28 20-20zM779 4958l12 10 15 37-5 23-15 10-7 0-20-23 5-35zM1726 4843l10 12 3 28-8 70-20 22-32 15-15 15-3 20 8 45-3 8-25 22-30-7-27-20 15-58-13-65 23-17 37-18 20-22 10-33 15-15 10-5zM1394 4810l20 15-3 10-15 13-10-3-10-12 0-8zM661 4890l63-62 2-25 8-15 32-15 15 0 28 17 25 35 65 65-25 20-30 15-28 5-32 15-68-20zM1659 4753l20-15 30 0 27 30-2 30-5 10-15 7-15 0-20-10-15-15-10-20zM1394 4675l5 3 2 30-5 5-10-8zM1579 4655l22 10 20 20 10 20-10 23-20 20-22 10-5 10 27 25 15 35-32 20-10-3-13-12-5-20-7-10-68-15-32-20 10-10 35-18 50-15zM1271 4615l15 10 15 20-7 13-23 17-30-30 8-15zM1509 4570l5 13-58 57-60 0-10-10-17-40 0-7 10-13 15-10 82-5 15 3zM839 4310l40 8 20 22-10 28-18 17-22 10-8 0-12-12-23-40 3-13 12-12zM1766 4243l28 20 5 17-15 28-20 20-5 0-18-15-7-35 12-20zM1304 4213l30-5 7 12-7 30-23-25-12-7zM1281 4150l0 20-10 20-22-7-48 0-12 10-13 32-27 20-40 8-20 15-38-40-15-10 0-63 43-17 17 0 25 7 28 18 60-58 7 0 50 25zM719 3978l22 35 15 42 18 18 47 0 20-13 10 33-5 7-22 13-10 15-10 47-18 43-12 62-15 13-35 12-15-5-18-20-2-250 12-35zM1249 3948l17 17-2 25-15 30-18 15-20 33-25-45-5-53 23-25 12-2zM1004 3960l22-15 53-7 17 2 15 15 5 13-2 45-8 20-12 7-10 0-33-25-27-10-25-30zM716 3905l10 8-7 32-8-22 0-13z"/><path fill="#e0ff00" fill-rule="evenodd" d="M1039 4560l-138 0-7 8-8 17 40 35 10 23 0 65-17 22-18 10-37-7-13-8-10-15-25-5-22-17-8-23-7-62-10 77-15 20-25 8 12 32 20 13 18 2 5 13 25 12 20 20 12 25 60 60 23-15 32-12 20 0 53 17 37-15 28-5 30-25-8-40-10-12-25-13-22-45-3-20 18-55 0-60zM904 4358l-8 20-15 15-25 7 45 48 8-45zM321 4350l0 123 90 0 10-10 3-30 7-18 10-10 18-5-28-7-12-13-10-30zM321 4273l0 55 90-3 5-47-5-5zM1599 4148l-8 12-10 58 30 20 43 15 15 15 22 57 13 13 17 7 43 0 15 10 40 13 95 0 0-200-90 0-10-5-50-3-5-25-10-7-58-3-45-15-15 5zM1764 4238l22 7 10 10 8 25-18 33-22 22-23-5-7-10-3-45 10-17zM1914 4718l-90-3-13-65 10-67-20-18-35-17-55-10-72 17-30-27 0-75 10-23 17-17 10-3 30 8 18 22 7 38 5-3 5-10-2-100-5-12-8 17-10 10-47 10-60-10-23-20-15-30-20-17-50 0-10 7-2 20-5 0 0-62 22-30 18-58 20-32-23-25-35-25-17 10-38 10-100 2-10 15 0 23 8 20 20 10 12 0 15 17-10 63-7 0-3-10-20-28-32-17-18-23-37-12-15 2-33 45-20 13-32 7-28 20 23 40 7 28-5 17-10 13-35 12-20 70 3 13 17 15 15 7 13-5 25-22 10-45 15-20 25 65 15 17 22 13 48-3 7-7 3-20 12 0-5 10-2 50-123 122 10 48 0 72 18 100-3 38-12 12-43 23-15 22-17 15-63-10-30-35-60-15-32-22-25 20-30 15-65 22 20 28 7 40-10 20-22 5-25-30 7-43 13-20-25-12-30-8-70-40 7-2 60-60 0-68-5-17-15-5-57 2-10 5-15 35-18 18-25-28 5-35 25-27 0-65-5-40-17 20-50 7-33 15-10 50-5 10-10 5-17-7-43-45-90 0 0 230 90 0 15-13 45-17 30 32-2 60-25 25-35-2-23-8-95 0 0 155 93 3 10 20 12 50 0 92 148 0 2-92 15-10 50-13 43 10 27 15 0 90 178 0 0-90-23-17-95-30-10-10 0-8 30-30 20-42 20-10 18 7 15 20 25 20 62 25 23-12 42-38 63 65-35 28-55 17-15 13 0 92 162 0 0-90 15-17 15-38 3-70 20-65 7-52 75-75 45-20 23 0 15 12 0 28-15 17-38 18-7 12 0 25 7 25 10 10 20 8 3 60-23 5-7 7-5 48 10 15 20 7 42-15 13-12 52 67 0 90 23 0 0-92 17-15 28-13 35 8 25 22 0 90 340 0 0-95-88 0-22-27-10-28 0-62 12-25 18-18 90 0 0-177-160-3-10 18-8 82-22 28-38 20-10 12 5 65-27 28-28-3-22-10-15-12-60-3-48 20-32 3-23-5-12-18 5-20 15-25 25-17 7-13 3 13 17 25 40 32 35 0 28-7 10-53-13-60 30-22 35-15 20-20 8-35 15-18 37-12-32-8-23-12-10-13-10-25 3-25 10-12 45-3 12 8 25 30 5 32 18 10 60-32 90 0zM601 4990l20 23-2 65-23 22-57-7-20-15 0-10 37-30 18-33 15-15zM1391 4805l13 3 15 17-5 15-15 13-18-3-10-12 0-13zM1579 4643l10 0 27 12 18 20 10 25 0 15-15 30-18 15-20 8 23 15 10 30 0 17-15 13-25 10-10-3-18-17-5-15-10-10-60-15-27-13-10-10 12-17 85-35zM1266 4613l20 7 18 23-8 17-22 18-13-5-22-25 7-23zM1519 4520l2 63-65 65-32 2-10 5-5 20 0 33-15 12-13-12 10-63-20-32-7-30 32-28 113-7zM321 4085l0 20 90 0 10-10-10-10zM1271 3988l-5 25-15 22-5 25-10 20-15 15 23 5 27 15 10-15-2-67zM1371 3700l0 90 40 45 10 23 5 60-7 27-20 28 10 12 55 13 25 22 12 25 18 13 60 5 25-10 12-20 23-23 15-7 17-18 10-20 23-17 27 10 23 15 15 162 7 13 15 5 123 0 0-200-88 0-25-15-10-25 10-23 15-10 98-2 0-58-100-2-20-25 0-93-183 0 0 88 8 15 15 12 40 15 22 20-17 23-35 27-65-25-25-25-13-27-27-35 0-88zM321 3700l0 180 98 0 45 5 17 8 15 17-2 23-10 12-10 3-20 25 17 17 28-10 20-17 17-3 15 20 20 75 15 28 13 12-3 128-5-8 0-77-7-8-53-2-27 12-18 15 15 88 23 92-8 48-12 12-18 5 48 8 20-8 20-27 22-13 20 48 10 10 33 7 60 3 57 10 35-5 23-18 5-15-20-22-18-35 5-20 25-15 35 0 25 7 13 15 15-67 10-10 20-5 20 0 22 17 5 13 0 65 8 10 20 15 17-3 10-10 13-47 20-30-13-20-47-40-3-60 25-15 33-10 42 5 28 15 57-58-30-65 0-57 5-15 13-13 12-5 53-2 10-13 12-75-30-30-12-27 0-93-58 0 0 93-22 25-45 20-28 32-42-20-13-22-5-25-17 45-18 17-7 15-5 33-13 12-70 45-30 30-22 33 17 62-27 18-20 30-8 40-15 42-7 53-18 17-45 15-15-7-20-25 0-255 13-35 15-15-10-60 15-15 12 12-10 63 13 15 30 70 15 12 35-5 12-7 13-25-15-30-8-33 20-55 30-25 30-15 33-7 17-18-7-55 0-95-145 0 0 95 10 58-5 10-18 12-10-2-15-18 0-20 10-42 0-93zM904 4153l0 67-5-5 0-57zM1009 3948l20-8 55-7 22 7 8 8 7 22-2 65-33 13-25-20-37-18-20-20-10-17 5-15z"/><path fill="#ffd800" fill-rule="evenodd" d="M1326 5093l-10 25 0 20 10 10 13 2 40-17-3-28-10-12-27-5zM1914 4858l-150-3-15 23-8 65-7 20-20 20-28 12-15 15 5 65-27 30-35 0-18-5-17-12-60-5-58 20-45 5-7 7-3 20 45 58 0 92 10 0 0-90 28-25 27-10 35 8 28 22 2 95 333 0 0-87-88 0-22-25-15-40 0-58 10-25 20-22 95-3zM1901 5280l3-2 2 5-2 2zM321 4708l0 172 90 0 23-15 40-10 25 23 5 10-3 62-7 13-23 17-60-10-90 0 0 145 90 0 15 23 13 50 0 97 142 0 0-90 20-17 45-10 45 7 35 20 0 90 165 0 0-90-32-20-78-22-15-15 0-8 43-50 2-27-5-5-30-3-25-32 3-38 10-25-45-15-35-17-28-20-57-8 17-7 40-3 53-52 0-60-15-20-18-5-27 0-18 10-15 32-20 20-20-17-10-18 0-30 8-25 20-10 0-60-8-7-57-3-18 8-2 62-38 13-55-10zM604 4988l20 22 0 63-5 10-23 20-62-8-20-20 0-5 12-15 28-20 27-42 10-8zM1041 4565l-12-5-125 8-13 15 8 10 27 17 13 28-3 77-30 28-42-3-28-12-22 7-10 15-3 18 33 25 17 35 50 50 33-18 25-7 35 5 32 12 33-12 30-5 30-23-10-35-33-27-20-40-5-23 15-55 0-67zM321 4403l0 62 93-2-3-60zM1601 4153l-12 65 35 20 30 10 22 25 8 27 20 30 17-10 5-42 10-20 20-20 23-3 22 13 8 32-10 23-33 37 25 15 35 10 88 0 0-147-88 0-10-20-12-13-20-10-20-2-13-25-22-15-33-3-55-15zM1456 4115l-60 18-67 0-15 5-13 12-2 8 7 15 13 12 15 5 20 28-8 52-12 18-15-8-10-17-65-58-23-10-15 0-17 28-18 17-60 25-12 13 22 45 3 32-10 23-35 10-10 15-13 60 15 15 20 7 28-22 10-55 17-18 15 18 18 55 30 25 40-8 22-27 50 5 8 5-20 5-18 12-10 28 0 15-122 122 10 53 0 75 15 100 0 22-8 18-42 20-45 47-65-10-15-12-13-20-22-10-38-8-32-20-43 28-65 22 15 33 8 60 42 5 13 10 5 15 20 17 65 25 62-52 70 70-32 30-55 20-18 12 0 90 148 0 0-90 20-22 12-28 3-70 10-47 7-15 10-65 78-75 32-15 48-8 5-5 2-20 25-25 18 3 12 12 0 25-22 18-23 2-5 8 0 22-7 15-15 15-35 18-8 15 10 35 13 12 32 8 10 7 10 35 13 20 12-42 28-30 20-40-8-70 10-8 10 10-7 48 7 75 15 20 35 30 30-5 20-13 13-32-10-63 40-30 32-12 18-20 0-25 7-23 28-12-33-8-15-17-7-30-5 57-20 18-35 10-23-18-20-30-82-22-15-13-3-10 18-17 77-30 10-10 23-55 15-18 60 8 20 70 10 7 35 5 17 10 20 23 8 27 12 15 63-32-18-108 8-77-48-30-60-10-65 17-15-7-22-28 0-70 12-32 23-18 62 0 0-5-67-5-53-10-30-25-12-27-20-18-40 8-23 27-15-10 5-62 20-23 13-25 15-52 12-20-17-20zM894 5018l0-8 7-7 35 2 25 8-57 15zM1274 4758l7 10-10 10-10-10zM1269 4608l17 7 23 28-8 17-30 23-20-13-17-25 7-22 10-10zM1519 4513l10 10-3 65-70 67-22 8-15 20-3 20-7 15-10 7-10-2-15-18 10-60-18-32-7-28 15-20 20-12 97-10zM1394 4388l10 7 0 8-8 7-12-10zM321 4090l0 10 88 0 7-5-5-5zM461 3970l0 5 13 10 25-12 0-8-5-7-23 0zM1376 3700l0 90 38 40 12 28 3 70-8 30-10 17 58 20 20 18 15 27 15 13 65 5 15-8 17-25 53-45 7-17 15-15 13-5 30 10 30 20 0 60 10 67 10 28 15 12 17 5 98 0 0-190-98 0-20-12-7-20 2-28 18-17 105-3 0-50-90 0-18-5-10-10-7-22 0-88-173 0 3 95 17 18 48 17 20 20-23 28-40 30-67-30-23-23-12-27-33-40 0-88zM1774 3853l-8 7-17 0-45-10 60-10zM321 3700l0 178 115 0 43 7 22 25 3 40 30 3 20 20 20 77 15 28 17 17 0 125-10 55-5-2-5-30-2-93-20-15-35-2-25 12-10 10 7 65 28 113 5 67 12-30 18-17 30-15 30 65 22 15 128 15 40-10 17-23-20-25-15-35 8-27 25-10 75-3 2-42-15-40 0-60 10-15 18 15-5 32 2 45 13 8 37 0 20 7 13 20 0 70 25 23 10 0 12-10 13-45 17-30-35-40-25-18-5-65 25-15 43-12 40 2 30 10 45-45-30-57 7-28 5-55 20-17 45-5 18-13 17-67-27-28-15-35 0-90-48 0 0 90-15 23-17 12-33 13-15 15-7 17-10 8-60-25-15 5-20 22-13 40-75 50-35 35-20 28 18 65-13 12-20 8-17 25-10 50-10 25-10 67-20 18-35 10-18 0-10-5-22-28-3-255 8-32 15-20-5-63 17-17 10 2 13 15-10 63 17 27 15 48 18 17 25-5 17-10 10-17-12-28-8-35 20-60 33-25 47-17 25-18-2-150-135 0 0 90 10 65-15 20-13 5-17-5-13-17 8-58 0-100zM1004 3943l82-15 28 7 10 20 2 55 8 25-20 13-30 5-33-25-27-13-15-12-18-28 3-22zM1149 3900l10 10-10 13-15-10z"/><path fill="#ff9000" fill-rule="evenodd" d="M1329 5110l-8 20 8 13 7 2 28-12-5-10-20-18zM1914 4865l-150 3-13 25-5 50-7 22-13 15-35 18-15 15 5 62-22 30-15 8-30 0-95-20-38 12-45 8-17 12-3 10 40 55 28-25 30-10 32 3 28 10 17 25 0 92 220 0 0-90-20-32-7-28 0-62 17-38 20-17 93 0zM321 4720l0 150 90 0 30-15 35-5 20 15 13 23-3 62-7 13-25 20-153-5 0 127 88 0 12 13 10 20 13 52 0 95 130 0 0-90 25-22 52-10 55 12 18 8 10 10 0 92 147 0 0-90-25-15-82-25-15-20 7-15 25-25 15-22-12-18-15-2-10-8-23-32 3-60-55-23-38-25-57-5-13-10 10-22 60 2 43-42 0-60-23-18-25-2-20 17-10 25-27 23-28-28-7-17-5-40-15-15-68 15-45-8zM604 4983l25 30-3 62-5 10-25 23-65-10-15-13-7-15 45-42 15-28 15-15 10-5zM559 4645l-23-5-12 5 10 43 20-25zM1029 4565l-115 10-15 8 2 5 20 7 18 20 5 18 0 77-8 15-30 23-65 2-17 18 22 22 15 38 40 40 58-20 40 5 27 10 28-10 35-5 25-20-13-28-35-32-15-35-5-30 13-53 0-65zM1099 4390l-13 0-10 10-15 60 23 20 7 0 23-20 2-62zM1821 4240l-10 50-12 25-20 25 47 20 88 0 0-122zM544 4138l-15 0-28 17 8 70 25 105 27-20 13-27 0-128-10-10zM1641 4123l-35 35-5 60 25 15 30 10 20 20 18 45 7 10 5 0 10-13 5-27 13-28 30-22 22 0 18-10-18-20-27-15-25-38-28-10-30-2zM1456 4123l-60 15-62 2-23 15 3 8 35 30 12 22-7 65-18 18-30-15-67-68-25-12-10 5-8 15-25 25-40 15-22 15 17 42 5 48 35 32 18 60 7 10 18 13 30-8 32-30 60 3 15 12-12 13-18 5-15 12-15 38-55 55-2 15-20 7-40 40 7 45 0 80 13 95-3 55-7 8-30 2-10 5-18 18-7 15-28 20-67-10-18-15-2-10-13-13-67-20-15-10-33 20-60 20 8 30 2 40 5 10 13 8 25 0 15-5 2-20 20-20 60 5 15 12 0 5-12 10-70 20-5 5-3 23 15 12 65 20 60-52 78 75 2 10-12 15-45 25-45 17 0 90 125 0 0-92 22-20 18-38 0-62 15-65 7-68 8-7 12-3 55-57 15-10 70-20 13-25 30-25 37 2-2 53-10 12-33 8-10 12-7 30-15 15-20 5-15 10-5 8 0 12 10 23 10 10 40 2 22 8 20-20 18-28 2-70 10-12 13-3 17 18-7 60 7 65 40 40 28-10 17-18 5-20-7-55 35-30 45-17 12-13-5-45-5-7-17 17-45 10-30-25-5-12-13-13-10-5-45-7-17-8-28 0-2-37 17-18 10 0 25-12 43-13 12-15 23-57 17-18 65 8 13 12 17 60 58 28 15 17 20 40 40-22 0-75-8-45 8-65-40-25-60-8-60 15-20-7-18-18-7-15 0-72 10-35 20-18-50-10-15-7-15-15-18-38-12-10-30 8-33 32-15-2-15-13 10-67 28-30 12-25 5-30 15-35-12-15zM1274 4748l17 17 0 5-20 18-20-20 15-18zM1239 4605l32-2 20 10 15 15 8 20-8 15-17 17-18 8-20-10-12-13-10-20 2-32zM1519 4503l20 20-3 67-20 15-57 60-10 3-15 12-8 13-5 25-10 12-15 5-30-27 8-65-10-18-10-42 25-28 15-7 85-10zM1394 4370l17 13 5 17-20 20-12-5-10-15zM469 3970l2 8 13-5-8-5zM964 3940l-45 30-43 43-15 22 20 65-7 18-13 5-20 0-17 22-18 78-5 62 5 8 18 5 47-3 23-10 2-12-15-55 0-63 5-22 18-8 30 30-10 65 12 13 58 7 7 8 3 90 15 17 12 3 15-18 3-22 17-40-32-35-28-15-12-70 37-25 38-10 40-3 40 5 30-32-30-50-28 15-35 5-22-13-25-22-25-13-28-37-5-30zM1384 3700l0 90 35 35 12 25 5 65-5 45-5 10 3 5 47 18 23 22 17 30 65 8 18-10 12-20 53-45 15-33 17-7 33 5 35 17 17 0 5 8-10 70 8 57 15 28 22 12 93 0 0-172-123 0-7-5 0-75 7-10 123-3 0-40-105 0-18-5-7-27 0-98-163 0 0 90 13 15 35 10 20 10 12 13 70-8 13 13 0 20-8 7-30 0-42-7-20 22-43 33-7-8-68-30-17-17-30-53-20-17-3-93zM1229 3700l-38 0 0 90-20 30-55 30-2 25-10 13-18 2-60-27-17 15-15 27 0 18 7 7 30 3 78-13 7-5 3-12 7-8 23-5 20 20 0 13-5 7-25 5-8 10 0 50 15 33 5 0 13-23 7-67 5-5 45-3 15-5 15-12 15-63-22-20-13-30zM929 3700l-120 0 0 103 7 42-2 23-5 10-13 7-50 3 0 35-7 42 17 45 3 23 22 27 20-7 20-18-10-27-5-45 18-60 10-10 50-25 27-8 15-12zM321 3700l0 173 150 2 30 23 13 35 32 20 18 22 15 73 12 22 25 25 0 128-7 45 0 75 25 57 32 15 120 10 25-12 10-13-22-35-10-45-8-10-32 8-35 0-18-10-17-25-3-265 5-33 8-17 0-53 5-10 25-22 25 0 0-43 7-42 0-98z"/><path fill="#ff5000" fill-rule="evenodd" d="M1334 5120l-5 15 17 0zM829 4950l-3 65 13 15 12 0 15-7 13-25 20-15 77 5 10 7 3 23-10 15-75 25-8 10 5 10 65 20 30-25 0-10 10-15 20-5 13 7 15 20 57 53 8 12-8 25-25 5-20 13-50 17 0 90 103 0 0-105 10-12 20-3 15-30 0-65 12-72 3-50-13-10-22 0-15 15-8 17-30 23-90-8-10-10-2-25-5-5-80-25-33 18zM1914 4870l-98 0-50 8-7 10-10 67-8 18-17 17-18 5-22 15 2 68-10 20-17 15-13 5-67 2-63-17-70 15-20 17 30 43 13-13 30-12 80 0 25 40 0 92 197 0 0-90-12-20-10-40 2-75 13-27 30-25 90 0zM1421 4878l-27-8-13 15-10 35-17 13-20 2-15 13 0 10 15 25 60-5 20-25 7-23 5-35zM1456 4803l-17 15 0 27 10 13 15 5 22 25-5 50 5 75 33 30 25-15 10-13-5-50 2-20 13-15 22-15 55-20 5-5-5-25-65 5-15-7-17-18-5-15-13-12zM321 4730l0 130 90 0 23-10 42-5 28 20 10 23-5 65-25 30-10 5-153 0 0 110 90 0 23 32 15 65 0 90 120 0 2-95 25-22 60-10 38 7 37 13 13 17 0 90 127 0 0-90-30-15-70-17-15-13 0-25 43-52-48-40-10-28-5-50-60-27-17-13-60-7-23-18 3-15 17-27 60 12 33-32 0-60-25-15-15 2-13 13-2 15-10 17-15 15-18 5-25-20-12-27-5-28-15-20-60 13-60-8zM604 4978l22 20 5 10 0 67-5 10-27 25-68-7-27-28 5-12 40-35 15-28 20-20 10-5zM1029 4570l-110 15 12 3 15 22 3 103-10 20-15 12-18 8-42 5-18 10 15 25 10 35 30 30 58-15 75 10 55-10 17-15-7-18-40-37-13-33-5-42 10-50 0-63zM1089 4395l-8 8-12 60 15 12 22-12-2-58zM1826 4260l-15 48-22 32 37 15 88 0 0-95zM1024 4248l-13 17 0 75 5 8 13 5 12-13 3-27 12-35zM541 4143l-10 0-22 12 5 63 20 87 22-32 8-35 0-83zM1641 4130l-25 25-7 60 25 15 30 10 15 15 12 35 13 18 10-15 15-48 20-17 35-10-38-33-12-27-10-10-20-8-35-2zM1456 4130l-40 10-80 8-12 7 35 35 10 23-5 67-5 10-20 18-8 0-37-23-68-67-15-8-30 38-62 30 12 37 8 45 32 35 20 68 18 15 12-3 48-37 70 0 15 10 5 12-18 18-30 17-20 40-50 48 5 10 40 10 23 17 10 23-10 27-28 20-10 3-15-5-22-20-10-23-3-20-7-10-5 0-30 30 7 60 0 83 8 105 7 22 8 5 52-55 40-17 45-10 13-25 20-20 25-8 15-12-3-20-7-8-25-7-25-30 5-65-15-53 5-17 12-15 28-15 47-3 33-7 42-40 8 2 25 28-3 80-10 10-20 2-30 30-5 13-12 12-18 8-12 12-8 23 10 15 20 2 60-20 28-62 2-23 15-10 75 5 25 25 20 60 45 20 20 23 13 30 20-10 10-43-5-67 5-75-28-18-72-5-55 10-23-10-12-12-10-23 0-85 10-40-30-5-18-10-15-17-7-28-15-15-28 10-30 33-25 7-10 15-2 15-23 23-17 2-18-15-2-15 10-22 22-25 10-5 23-75 30-28 15-32 12-58zM1269 4738l10 2 22 25-2 10-25 23-15-8-18-22 5-10zM841 4130l-17 33-13 117 23 13 17 0 28-10 5-8-13-57 0-68-12-15zM1806 3973l-17 55 5 67 5 10 25 20 90 0 0-157-93 0zM964 3948l-30 20-63 67 25 70 53 50-15 63 17 12 23 3 15-5 7-10-17-60 12-13 35-20 18-5 105-10 15-15-15-25-65 0-23-10-70-60-15-42zM1151 3943l-5 0-7 10-5 17 2 18 13 27 15-37-3-23zM776 3893l-20 12-7 70 10 20 5 38 10 15 10 5 27-20-12-53 12-70-7-12zM1001 3908l0 7 8 8 15 5 77-15-5-8-70-30zM1794 3850l7 10 15 5 98 0 0-30-98 0-15 5zM1626 3700l0 90 15 15 33 5 27 15 65-5 8-7 5-13 0-100zM1389 3700l0 90 32 25 15 30 5 128 48 20 15 17 7 23 8 7 62 8 13-8 15-25 52-42 0-30 10-10 33-3 35 8 22 10 10-5 8-38-8-20-7-5-60-5-43 35-5 15-7 5-10 0-15-17-63-28-17-17-25-48-10-5-23-27 0-88zM1196 3700l0 90-5 15-20 23-37 15-10 7 5 20 27 15 33 38 30 2 22-12 10-63-20-30-7-30 0-90zM921 3700l-105 0 0 100 8 68 10 12 7 3 30-18 43-15 7-40zM321 3700l0 165 155 5 30 23 15 35 25 15 25 30 10 67 13 23 15 10 17 22-5 250 23 53 15 10 122 12 20-10 10-10-20-35-10-37-70-5-30-23-10-22 0-308 8-25 2-32 8-15 15-15 22-10 10-13 8-65 0-95z"/><path fill="#ff1800" fill-rule="evenodd" d="M1091 5178l-57 17 0 90 72 0 0-90zM759 5178l-5 10 0 97 105 0 0-90-23-10-25-2-30-10zM1569 5133l-53-18-60 8-17 12 17 25 10-7 28-8 60-5zM981 5068l-12-15-10 0-48 20 53 15 17-13zM1154 4943l-8 0-10 10-7 25-25 20-83 0-17 15 12 15 35 15 18 30 20 20 22 10 13 15 10 25 15 10 7-15 3-95 7-63 0-30zM979 4950l-13-7-35-3-25-7-52 17-15 15-8 45 10 13 13-5 7-13 3-20 12-12 88 0 10-8zM1406 4883l-12-3-8 10 0 40-7 10-45 3-10 7 10 18 37-8 25-20 18-50zM1914 4878l-90 0-53 12-7 8-15 80-20 20-25 5-13 10 3 62-8 25-22 20-75 15 17 20 13 35 0 95 167 0 0-90-12-42 0-95 12-35 38-38 90 0zM1454 4815l-8 10 5 18 25 12 23 30 0 125 20 20 20-17-3-65 8-15 17-18 70-25-15-7-45-5-22-10-13-15-7-25-10-8zM656 4758l-12 15-10 35-15 15-13 5 15 10 35 10 18-18 0-62zM321 4745l0 103 90 0 28-8 40-2 27 15 13 30-5 72-23 30-15 8-155 5 0 90 90 0 15 15 15 27 13 63 0 92 107 0 0-90 23-27 12-8 55-7 63 12 22-2 8-10 7-35 40-45-25-15-22-25-13-58-15-22-65-30-57-8-30-25 10-45 12-15-15-7-17-20-10-43-10-17-58 7-60-5zM616 4978l13 12 10 23-3 60-10 22-25 20-65-5-15-7-22-28 7-20 40-32 15-30 15-15 15-8zM1526 4630l-10-2-17 17-3 25-10 13-30 5-15 20 13 12 50-12 12-8 20-55zM1026 4575l-55 10-10 13-5 22 0 90-10 28-22 17-55 13 10 25 5 35 17 17 43-7 92 5 50-5 13-10-13-18-17-7-18-18-7-15-10-62 7-60 0-63zM1086 4413l-10 50 13 7 10-15zM1781 4585l-17-12-73-3-60 5-27-12-15-28 0-75-8-47-7-10-18-5-17-15-10-23-3-20-7-7-18 5-7 17-15 18-25 10-15 15-18 32-37 18-30 35-25 12-20 23-10 27-45 38 15 10 32 7 20 25 0 40-20 25-37 8-25-10-18-25-2-20-8-15-20 17 5 50 5 198 10 15 18-18 5-15 17-20 33-12 50-5 10-8 5-20 15-20 35-12 10-10-13-15-30-13-17-27 2-73-10-55 10-22 15-15 25-10 70-8 15-10 5-15 18-17 15-8 22 8 18 17 7 15 0 65 5 10 13 8 62 2 15 8 18 17 30 70 32 15 20 20 8 25 17-45zM1266 4725l25 8 23 30-8 25-30 22-27-10-20-30 10-25zM1804 4340l17 8 93 0 0-60-88 0-10 32zM1026 4260l-10 18 0 62 10 8 8-8 10-62zM964 4165l-18 53 13 7 12 0 10-7 0-8zM536 4148l-17 10 2 55 13 57 17-45 0-70zM1639 4143l-13 12-2 63 52 20 13 17 5 25 10 15 17-57 20-18 13-2-18-18-20-47-10-5zM1459 4143l-70 5-45 10 7 2 18 20 12 38-5 75-5 15-12 10-25 5-35-20-40-30-48-50-7 15-18 17-55 23 10 67 5 10 23 20 17 30 13 58 15 7 47-40 73-7 15-13 15-47 30-30 25-70 12-15 25-13 10-17 8-63zM844 4143l-13 15-7 120 17 10 25-10-7-55 0-68zM1826 3980l-22 50 2 65 18 18 90 0 0-133zM884 4035l22 58 58 57 25-20 37-17 78-8 37-10-22-10-48-7-27-13-23-30-15-7-20-20-22-50-15 10-15 20zM1149 3955l-8 13 0 12 8 18 7-18 0-12zM779 3900l-15 15-3 60 8 25 2 35 10 10 18-12-8-43 0-35 8-42zM1679 3910l5 8 12 5 35 2 28 8 7-3 5-12 0-13-7-12-63-3zM1011 3913l13 7 52-10-50-20zM1806 3850l13 8 95 0 0-15-95 0zM1631 3700l0 88 10 10 40 5 18 7 67-5 8-15 0-90zM1404 3700l0 88 27 20 10 20 5 22 0 63 10 52 8 8 15 2 17 10 15 18 13 30 52 10 8-3 17-30 15-15 33-17 2-13-5-12-17-13-23-27-60-25-10-13-17-42-15-5-20-18-10-20 0-90zM1201 3700l-2 108-18 25-35 10-12 10 12 15 23 10 15 15 12 22 15 5 18-10 7-60-10-15-7-32 0-103zM914 3700l-88 0 3 148 10 20 55-18 10-10 10-42zM321 3700l0 160 145 0 23 5 25 20 15 38 35 17 12 18 8 32 2 45 10 18 15 5 15 12 13 23-3 252 23 50 5 5 55 10 60 3 20-13-13-22-7-30-8-8-77-15-18-15-10-25 0-250-7-50-10-12 12-18 15-60 18-20 25-10 10-12 5-58 0-95z"/><path fill="#ff0000" fill-rule="evenodd" d="M1089 5190l-18 5 0 90 23 0 0-87zM766 5185l-5 8 0 92 85 0 3-90-63-15zM1451 5135l5 8 75-10-75-3zM969 5070l-5-5-18 8 18 5zM841 4988l0 30 8-5zM1331 4950l3 5 12-2zM1149 4948l-8 37-15 18-37 7-63-2-7 5 42 12 15 18 5 30 13 7 27 5 15 15 8 35 5 5 5-190zM884 4950l15 8 65 0 5-5-5-5-45-3zM1914 4888l-105 2-13 25-32 20-3 35-7 25-20 13-35 5 2 60-10 45-12 10-55 7 10 43 0 107 137 0-5-237 13-55 15-20 32-13 88 0zM1394 4888l2 15 3-13zM1456 4825l-2 5 5 5 22 3 15 7 13 20 2 145 8 8 5-5 0-75 7-23 18-15 45-10-40-5-18-7-10-13-7-37zM659 4765l-5 3-8 45-12 15 15 7 10 0 5-5 0-62zM321 4760l0 75 93 0 57-5 30 5 18 18 5 25-5 75-13 25-15 12-20 8-75 10-75 0 0 70 93 2 25 30 12 40 8 45 0 90 95 0 2-92 18-23 27-15 45-5 38 3 30 7 15-2 10-13 5-22 12-23 30-27-27-15-15-18-15-57-15-23-58-30-67-10-33-27 0-63-15-25-7-45zM619 4975l17 20 5 18-2 60-13 27-25 18-67-5-15-8-18-17-7-15 15-28 22-12 18-18 10-25 15-15 17-7zM1454 4703l2 7 15-5-12-5zM1516 4640l-5 8 8 12 5-15zM1029 4583l-20 2-13 25-32 20-3 100-5 18-20 15-45 5 5 60 8 7 37-5 148 0-3-7-35-8-12-12-5-13-5-37zM1089 4443l-5 12 2 10 5-2zM1769 4585l-5-5-133 3-32-8-15-22-5-108-23-12-15-18-17-32-5-45-8 2-2 23-18 22-35 8-25 45-17 10-23 5-25 30-35 17-17 23-10 35-13 12-17 5-8 8 5 5 35 5 18 15 7 45-5 30-12 15-35 7-45-5-18-17-7-43-5 5 5 248 2 2 5-5 8-35 15-15 32-7 63-3 7-37 13-15 45-10-5-5-38-8-10-10-7-20 0-147 7-18 15-15 25-10 78-10 10-30 10-12 17-10 30-3 18 5 15 13 7 17 3 80 5 5 67 0 30 10 15 20 10 40 25 13 15 17 5 15 18 18 5-13zM1236 4720l20-7 30 0 18 5 15 12 10 40-5 25-13 18-27 10-25 0-23-8-12-12-8-23 0-25 8-22zM1819 4338l7 5 88 0 0-20-88 0zM1026 4273l0 70 5-65zM1211 4238l-22 22-40 13-10 7 7 68 38 40 10 25 7 40 8 12 10-2 22-28 18-10 75-12 10-10 7-45 10-18-10-7-17-3-73-45zM964 4203l-5 12 5 5 5-2zM536 4155l-7 3 5 77 5-15zM1641 4153l-5 5 0 60 50 10 10 15 5 40 8-50 10-15-8-23-2-37-15-5zM1456 4153l-50 0-27 5 10 35-3 87 8 20 17-57 13-13 32-7 3-5 2-63zM841 4153l-5 57 3 70 10-2-3-123zM1824 4020l-5 13 0 60 5 7 90 0 0-82zM899 4033l2 15 23 30 5 17 35 33 60-28 80-5-55-7-20-8-15-15-15-30-20-20-15-45-33 43zM776 3910l0 113 3 12 5 0 0-125zM1696 3910l5 5 63 3 2-5-7-8-58 0zM1024 3908l0 5 15 0-5-5zM1821 3850l93 3 0-5zM1639 3700l2 93 123 2 2-95zM1439 3700l0 90 12 28 5 110 25 12 13 15 5 15 62 63 20 2 8-25 10-15 22-15 20-5 3-5-30-20-30-40-48-10-10-12-5-38-5-5-27-5-18-12-10-33 0-95zM1209 3700l0 100-5 28-13 15-42 5-3 5 40 12 13 15 5 30 10 3 5-63-8-52zM906 3700l-70 0 0 103 5 52 18-5 7-20 15-15 20-7 3-5zM321 3700l0 153 155 0 30 5 10 5 10 15 5 35 33 7 20 15 7 28 3 75 37 10 13 12 7 25 3 265 5 8 15 5 17 15 10 22 80 3 3-8-5-12-20-8-15-15-8-20-55-7-17-18-5-22 0-265-5-13-15-5-15-12-13-25 15-28 30-17 8-43 7-15 20-12 28-3 2-5 0-150z"/><path fill="#fa0000" fill-rule="evenodd" d="M776 5185l-10 10 5 90 58 0 10-87zM534 4833l-5 7-8 113-12 27-15 13-20 7-30 3-35 10-5 60 12 2 20 20 15 38 10 55 0 97 88 0 2-90 20-27 28-15 52-5 68 10 15-13 17-45 30-25-2-5-23-10-12-15-25-75-60-35-60-7-35-18-15-20-5-35zM621 4973l13 12 7 20-2 73-10 22-13 13-17 7-65-5-20-10-23-30 8-22 47-38 8-22 15-18 22-10zM1466 4403l-10 0-2 25-15 20-50 12-23 30-30 13-17 17-5 48-10 12-10 3 27 5 10 12 3 18 2-48 18-25 32-12 75-10 8-43 17-15 25-5-15-25zM1209 4248l-8 10-22 12-33 8 0 62 38 40 12 30 10 50 8 3 10-18 30-22 80-15 5-8 7-60-32-15-55-35zM964 3993l-8 17-17 18-15 7 15 23 10 37 17 15 40-15-15-20-10-40-12-17zM1579 3930l-25 13-18 30 20 15 23 27 5-20 17-17 20-5-20-10-12-13z"/><path fill="#ea0000" fill-rule="evenodd" d="M779 5190l-5 5 2 90 18 0 15-90zM534 4863l-10 90-10 25-30 22-58 13-2 60 22 30 15 62 5 120 78 0 5-90 7-15 20-20 25-10 28-2 92 5 13-13 15-42 30-25-20-8-20-22-20-68-35-25-28-12-62-8-33-15-17-20zM621 4970l15 15 8 23-3 67-10 25-20 18-15 5-57-5-33-15-17-30 10-25 12-13 28-12 15-35 15-15 25-10zM1454 4468l-13-8-47 0-5 13-18 20-37 15-13 15 0 20 8 27 5 3 5-18 20-17 97-15zM1209 4255l-20 15-40 10 0 63 7 2 33 38 22 77 13-22 27-18 83-17 2-63-77-45zM964 4028l-5 5 5 62 7 0zM1579 3968l-5 5 5 5 7-5z"/><path fill="#ce0000" fill-rule="evenodd" d="M534 4890l-5 53-10 37-23 20-52 13-10 60 20 32 15 85 0 95 70 0 5-92 7-15 18-18 22-10 50-5 78 5 12-12 13-40 22-25-25-20-10-25-5-30-12-20-55-35-65-8-28-7-25-20zM626 4970l10 10 8 20-3 80-7 20-15 15-18 8-65-3-27-10-15-15-8-17 8-33 15-15 22-5 13-12 7-28 15-15 30-10zM1439 4505l-15-22-13-8-17-2-20 25-38 15-7 7 0 18 5 12 7-10 18-7 82-10zM1206 4265l-37 18-13 30-2 27 32 33 25 72 20-20 15-7 75-18 3-60-80-50-30-25z"/><path fill="#aa0000" fill-rule="evenodd" d="M661 4950l-102-15-15-7-10-13-5 53-8 20-22 17-43 10-10 60 10 18 13 70 5 122 60 0 5-95 10-20 20-17 50-10 100 2 10-12 5-30 20-30-15-13-8-15-12-55-33-15zM634 4965l12 28-2 82-10 30-13 13-17 7-78-2-25-10-10-10-10-25 8-40 12-13 33-5 7-10 8-35 15-12 47-5zM1419 4523l-5-10-20-15-25 17-35 10zM1196 4280l-17 20-13 40 20 23 15 30 8 30 5 2 25-12 60-13 10-32 0-28-38-27-37-18-18-17-10-3z"/><path fill="#800000" fill-rule="evenodd" d="M471 5015l-15 58 8 20 10 85 55 15 5 5 7-30 23-20 25-8 127 0 8-7 2-28 13-32-13-25-7-48-35-12-28-25-5 10-7 122-15 25-28 10-70-2-37-10-13-18-5-37 3-35 7-10 48-3 5-42 12-15 83-8-100-7 0 22-8 30-20 15zM1191 4310l-10 33 18 25 12 37 63-5 15-22 7-38-20-15-52-22-13-13z"/></g></g><rect x="38.00" y="375.90" width="147.60" height="146.70" fill="none" stroke="#303040" stroke-width="0.9"/><path d="M38.00 522.60v5.50M38.00 522.60h-5.50M41.69 522.60v2.80M38.00 518.93h-2.80M45.38 522.60v2.80M38.00 515.26h-2.80M49.07 522.60v2.80M38.00 511.60h-2.80M52.76 522.60v2.80M38.00 507.93h-2.80M56.45 522.60v5.50M38.00 504.26h-5.50M60.14 522.60v2.80M38.00 500.60h-2.80M63.83 522.60v2.80M38.00 496.93h-2.80M67.52 522.60v2.80M38.00 493.26h-2.80M71.21 522.60v2.80M38.00 489.59h-2.80M74.90 522.60v5.50M38.00 485.93h-5.50M78.59 522.60v2.80M38.00 482.26h-2.80M82.28 522.60v2.80M38.00 478.59h-2.80M85.97 522.60v2.80M38.00 474.92h-2.80M89.66 522.60v2.80M38.00 471.25h-2.80M93.35 522.60v5.50M38.00 467.59h-5.50M97.04 522.60v2.80M38.00 463.92h-2.80M100.73 522.60v2.80M38.00 460.25h-2.80M104.42 522.60v2.80M38.00 456.58h-2.80M108.11 522.60v2.80M38.00 452.92h-2.80M111.80 522.60v5.50M38.00 449.25h-5.50M115.49 522.60v2.80M38.00 445.58h-2.80M119.18 522.60v2.80M38.00 441.91h-2.80M122.87 522.60v2.80M38.00 438.25h-2.80M126.56 522.60v2.80M38.00 434.58h-2.80M130.25 522.60v5.50M38.00 430.91h-5.50M133.94 522.60v2.80M38.00 427.25h-2.80M137.63 522.60v2.80M38.00 423.58h-2.80M141.32 522.60v2.80M38.00 419.91h-2.80M145.01 522.60v2.80M38.00 416.24h-2.80M148.70 522.60v5.50M38.00 412.57h-5.50M152.39 522.60v2.80M38.00 408.91h-2.80M156.08 522.60v2.80M38.00 405.24h-2.80M159.77 522.60v2.80M38.00 401.57h-2.80M163.46 522.60v2.80M38.00 397.90h-2.80M167.15 522.60v5.50M38.00 394.24h-5.50M170.84 522.60v2.80M38.00 390.57h-2.80M174.53 522.60v2.80M38.00 386.90h-2.80M178.22 522.60v2.80M38.00 383.23h-2.80M181.91 522.60v2.80M38.00 379.57h-2.80M185.60 522.60v5.50M38.00 375.90h-5.50" stroke="#404048" stroke-width="0.9" fill="none"/><g font-family="'Liberation Sans', Arial, sans-serif" font-weight="bold" font-size="8.2" fill="#151515" stroke="#151515" stroke-width="0.2"><text x="38.00" y="540.10" text-anchor="middle">0</text><text x="56.45" y="540.10" text-anchor="middle">1</text><text x="74.90" y="540.10" text-anchor="middle">2</text><text x="93.35" y="540.10" text-anchor="middle">3</text><text x="111.80" y="540.10" text-anchor="middle">4</text><text x="130.25" y="540.10" text-anchor="middle">5</text><text x="148.70" y="540.10" text-anchor="middle">6</text><text x="167.15" y="540.10" text-anchor="middle">7</text><text x="185.60" y="540.10" text-anchor="middle">8</text><text x="28.70" y="525.50" text-anchor="end">0</text><text x="28.70" y="507.16" text-anchor="end">1</text><text x="28.70" y="488.82" text-anchor="end">2</text><text x="28.70" y="470.49" text-anchor="end">3</text><text x="28.70" y="452.15" text-anchor="end">4</text><text x="28.70" y="433.81" text-anchor="end">5</text><text x="28.70" y="415.47" text-anchor="end">6</text><text x="28.70" y="397.14" text-anchor="end">7</text><text x="28.70" y="378.80" text-anchor="end">8</text></g><text x="111.80" y="547.80" text-anchor="middle" font-family="'Liberation Sans', Arial, sans-serif" font-weight="bold" font-size="8.4" fill="#151515" stroke="#151515" stroke-width="0.2">x [mm]</text><text transform="translate(13.20,449.25) rotate(-90)" text-anchor="middle" font-family="'Liberation Sans', Arial, sans-serif" font-weight="bold" font-size="8.4" fill="#151515" stroke="#151515" stroke-width="0.2">y [mm]</text><rect x="40.50" y="378.90" width="34.90" height="11.40" fill="#fff" stroke="#505060" stroke-width="0.9"/><text x="42.30" y="387.40" font-family="'Liberation Sans', Arial, sans-serif" font-size="8.1" fill="#202020" stroke="#202020" stroke-width="0.12">PTFE 30</text><rect x="187.20" y="375.10" width="53.30" height="148.20" fill="#fff" stroke="#454545" stroke-width="0.9"/><rect x="189.60" y="379.50" width="7.70" height="138.70" fill="url(#cbg)"/><path d="M196.30 379.50h6.00M196.30 382.97h3.60M196.30 386.44h3.60M196.30 389.90h3.60M196.30 393.37h6.00M196.30 396.84h3.60M196.30 400.31h3.60M196.30 403.77h3.60M196.30 407.24h6.00M196.30 410.71h3.60M196.30 414.18h3.60M196.30 417.64h3.60M196.30 421.11h6.00M196.30 424.58h3.60M196.30 428.05h3.60M196.30 431.51h3.60M196.30 434.98h6.00M196.30 438.45h3.60M196.30 441.92h3.60M196.30 445.38h3.60M196.30 448.85h6.00M196.30 452.32h3.60M196.30 455.79h3.60M196.30 459.25h3.60M196.30 462.72h6.00M196.30 466.19h3.60M196.30 469.66h3.60M196.30 473.12h3.60M196.30 476.59h6.00M196.30 480.06h3.60M196.30 483.53h3.60M196.30 486.99h3.60M196.30 490.46h6.00M196.30 493.93h3.60M196.30 497.40h3.60M196.30 500.86h3.60M196.30 504.33h6.00M196.30 507.80h3.60M196.30 511.27h3.60M196.30 514.73h3.60M196.30 518.20h6.00" stroke="#404048" stroke-width="0.8" fill="none"/><g font-family="'Liberation Sans', Arial, sans-serif" font-weight="bold" font-size="6.4" fill="#151515"><text x="206.10" y="382.00">100</text><text x="206.10" y="395.87">80</text><text x="206.10" y="409.74">60</text><text x="206.10" y="423.61">40</text><text x="206.10" y="437.48">20</text><text x="206.10" y="451.35">0</text><text x="203.70" y="465.22">-20</text><text x="203.70" y="479.09">-40</text><text x="203.70" y="492.96">-60</text><text x="203.70" y="506.83">-80</text><text x="203.70" y="520.70">-100</text></g><text x="220.30" y="450.95" font-family="'Liberation Sans', Arial, sans-serif" font-weight="bold" font-size="6.0" fill="#151515" stroke="#151515" stroke-width="0.1">z [μm]</text><clipPath id="c6"><rect x="290.70" y="378.60" width="141.90" height="142.00"/></clipPath><filter id="f6" filterUnits="userSpaceOnUse" x="282.70" y="370.60" width="157.90" height="158.00" color-interpolation-filters="sRGB"><feGaussianBlur in="SourceGraphic" stdDeviation="2.00" result="b"/><feComponentTransfer in="b"><feFuncR type="table" tableValues="0.376 0.392 0.408 0.424 0.439 0.424 0.408 0.392 0.376 0.329 0.282 0.235 0.188 0.141 0.094 0.047 0.000 0.000 0.000 0.000 0.000 0.000 0.000 0.000 0.000 0.000 0.000 0.000 0.000 0.125 0.251 0.376 0.502 0.565 0.627 0.690 0.753 0.815 0.876 0.938 1.000 1.000 1.000 1.000 1.000 1.000 1.000 1.000 1.000 1.000 1.000 1.000 1.000 1.000 1.000 1.000 1.000 1.000 1.000 1.000 1.000 0.990 0.980 0.971 0.961 0.938 0.916 0.893 0.871 0.839 0.808 0.776 0.745 0.706 0.667 0.627 0.588 0.544 0.500 0.456 0.412"/><feFuncG type="table" tableValues="0.000 0.000 0.000 0.000 0.000 0.000 0.000 0.000 0.000 0.000 0.000 0.000 0.000 0.031 0.063 0.094 0.125 0.251 0.376 0.502 0.627 0.784 0.941 0.971 1.000 1.000 1.000 1.000 1.000 1.000 1.000 1.000 1.000 1.000 1.000 1.000 1.000 1.000 1.000 1.000 1.000 0.923 0.845 0.768 0.690 0.627 0.565 0.502 0.439 0.376 0.314 0.251 0.188 0.141 0.094 0.047 0.000 0.000 0.000 0.000 0.000 0.000 0.000 0.000 0.000 0.000 0.000 0.000 0.000 0.000 0.000 0.000 0.000 0.000 0.000 0.000 0.000 0.000 0.000 0.000 0.000"/><feFuncB type="table" tableValues="0.502 0.563 0.624 0.684 0.745 0.784 0.824 0.863 0.902 0.926 0.951 0.975 1.000 1.000 1.000 1.000 1.000 1.000 1.000 1.000 1.000 0.971 0.941 0.784 0.627 0.510 0.392 0.275 0.157 0.118 0.078 0.039 0.000 0.000 0.000 0.000 0.000 0.000 0.000 0.000 0.000 0.000 0.000 0.000 0.000 0.000 0.000 0.000 0.000 0.000 0.000 0.000 0.000 0.000 0.000 0.000 0.000 0.000 0.000 0.000 0.000 0.000 0.000 0.000 0.000 0.000 0.000 0.000 0.000 0.000 0.000 0.000 0.000 0.000 0.000 0.000 0.000 0.000 0.000 0.000 0.000"/><feFuncA type="linear" slope="0" intercept="1"/></feComponentTransfer></filter><g clip-path="url(#c6)"><rect x="290.70" y="378.60" width="141.90" height="142.00" fill="#68009f"/><g transform="scale(0.1)"><path fill="#6800d2" fill-rule="evenodd" d="M2848 3727l0 1538 360 0 0-90-10-18-40-27-42-5-8-8-2-62 5-15 32-28 15-30 5-42 8-8 20 5 12 23 33 22 7 48 10 27 5 68 55 52 0 88 1073 0 0-1538-245 0 0 88-20 10-23-10 0-88-310 0 0 90-22 23-18 7-12 13-5 12-53 45-10 18-17 5-130 0-15-8 0-205zM4118 5040l63-5 20 20 7 17 15 15 18 8 20 22-23 20-82-17-10-20-28-20zM3921 4645l22-25 175 2 23 23 0 57-23 23-42-13-85-5-13-7-12-23-33-17zM3351 4562l20 23 2 62-22 20-65-2-18-18 0-5 15-15 30-15 15-27z"/><path fill="#4800f2" fill-rule="evenodd" d="M2848 3727l0 1538 320 0-2-100-18-20-32-10-18-18-7-60 10-17 10-43 25-22 12-33 25-25 60 23 28 80 12 22 20 18 3 57 20 30 35 30 0 88 1035 0 0-143-103 3-32 25-10 22-5 3-13-15-27-15-78-25-10-58 10-62 58-8 60 5 12 43 20 10 118 2 0-1325-208 0-2 113-58 0-57-23-3-90-170 0 0 88-5 5-45 5-10 12-5 40-60 3-22 15-35 42-55 13-133 0-27-5-23-10 0-208zM3786 4702l52-5 28-7 10-13 5-32 22-10 20-18 18-35 177 0 20 38 40 25 3 120-60 0-20-23-20-10-43-12-52-5-40-10-48 5-10 12-5 30-5-17-12-18-23-7-47-3zM3353 4475l0 50 10 25 18 20 30 15-3 120-177 5-38-5-80 2-5-5 5-5 58 0 0-52 42-10 13-15 7-35 58 0 15-10 25-25 15-25 2-50zM2916 4237l2 3-5 7-2-7zM2893 4240l8-3 2 8-2 2zM2876 4237l2-2 3 5-3 2zM3113 4005l5 37-2 13-8-3zM4176 3872l60-2 62 5-120 2z"/><path fill="#1810ff" fill-rule="evenodd" d="M4261 5157l-10 18 0 90 135 0 0-133-90 0zM4191 3727l0 93 5 15 12 15 25 10 58 7 95 0 0-140zM2848 3727l0 420 90 3 8 17 2 125-12 20-88 0 0 73 90 0 63 10 55-15 12 27-12 10-208 3 0 845 310 0 0-90-20-23-25-10-25-25-10-60 15-22 18-58 12-12 13-25 37-38 60 25 13 13 32 80 35 37 3 60 37 40 10 18 0 90 853 0 0-88-53-35-42-15-10-12-8-60 13-73 15-7 52 0 23 7 30 3 15 7 25 30 17 10 93 0 0-1147-213-3-15-5-12-15-85-32-23-15 0-88-130 0 0 88-22 15-30 10-10 10-10 25-13 12-60 13-37 37-80 23-175-3-13-22-2-208zM3753 4702l10-7 45-8 33-17 25-30 42-25 18-30 15-10 167 0 18 5 17 25 45 40 0 80 5 37-10 20-7 5-58-12-20-10-20-18-47-20-98-10-27 18-10 27-15 10-18-7-25-30-42-15-30-3zM3363 4467l3 60 15 25 25 18 12 15-2 117-5 8-123 7-50 10-52 0-75-10-23-15 25-25 23-10 12-20 28-27 15-8 22-30 18-7 52-8 13-7 32-38 8-15 7-42 10-8zM3111 3987l10 5 7 60-15 15-25-15 13-57z"/><path fill="#0060ff" fill-rule="evenodd" d="M4276 5157l-15 20 0 88 125 0 0-123-88 0zM4203 3727l0 93 20 22 15 8 53 10 95 0 0-133zM2848 3727l0 400 88 0 7 8 13 37 0 83 5 25-3 20-22 32-88 0 0 33 90 0 38 15 25 2 37-15 18-15 17 18 5 20 0 17-17 15-15 5-48 5-150 0 0 833 300 0 0-88-10-12-32-20-20-20-20-68 27-42 23-65 57-60 63 27 20 20 30 70 50 53 0 57 17 18 23 42 0 88 817 0 0-88-35-27-37-15-15-23-8-60 20-95 63-2 87 35 25 22 93 0 0-1120-155 3-75-10-58-30-35-13-47-27 0-88-88 0 0 88-62 35-28 37-15 13-40 10-20 10-17 17-35 15-60 15-135 0-48 10-17-40-8-62 0-148zM4203 4767l-25 40-25-12-35-8-85-50-25-7-67-3-23 15-12 23-28 15-37-15-10-13-28-15-40-10-22-25 22-15 43-12 35-33 30-12 20-15 27-33 25-15 160 0 18 3 17 10 55 57 3 73zM3376 4467l0 58 7 12 33 30 7 15-2 120-13 15-112 10-63 20-60 0-27-12-33-5-42-25 0-5 120-118 92-32 43-48 7-32 15-20 13 2zM3113 3982l15 13 5 37 8 20-25 25-48-25 13-22 7-35z"/><path fill="#00f0f0" fill-rule="evenodd" d="M4276 5172l-3 93 113 0 0-110-90 0zM4213 3727l0 88 15 17 28 13 35 7 95 0 0-125zM2848 3727l0 378 88 0 20 25 7 35 0 77 10 48-17 45-13 12 18 13 35 12 27-12 33-30 20 10 40 7-20 28-5 32-38 28-47 7-158 0 0 823 288 0 0-88-35-27-30-33-18-60 23-25 12-25 23-67 62-65 75 40 18 20 25 57 62 63 0 62 33 55 0 93 790 0 0-88-25-22-30-13-15-17-5-15-8-58 23-112 62-5 18 12 42 15 58 33 90 0 0-1093-160 0-53-5-35-10-85-37-52-30-60 0-63 35-52 55-25 7-80 40-75 20-130 0-50 18-18-35-15-78 0-155zM3731 4702l25-17 35-13 35-32 25-8 20-12 40-40 27-18 63-5 120 5 30 18 37 37 18 28 0 72 10 48-13 35-22 25-65-28-55-30-18-15-35-15-67 3-38 37-17 10-13 0-30-10-52-30-30-10-30-30zM3383 4457l5 70 25 25 18 33-5 117-15 20-130 20-35 15-15 13-58 0-17-15-45-15-58-35 0-8 115-115 85-30 25-15 38-37 15-40 20-20 20 5zM3406 4410l2-5 5 2-5 5zM3113 3977l20 15 5 28 13 30-3 7-35 33-65-38 13-15 17-45z"/><path fill="#00ff64" fill-rule="evenodd" d="M4286 5175l0 90 100 0 0-100-88 0zM4226 3727l0 88 12 12 50 18 98 0 0-118zM2848 3727l0 353 90 0 13 7 17 23 3 122 12 50-2 35-13 30 28 13 22-13 3-10 15-17 20-10 30 20 27 5 15 15-25 57-27 25-20 10-58 13-150 0 0 810 278 0 0-88-28-20-32-35-13-32-5-35 35-53 28-77 45-45 17-33 15 10 20 25 48 25 22 28 15 35 58 55 15 37 2 55 30 58 0 90 765 0 0-90-52-35-13-23-10-50 0-17 28-120 5-5 60-3 117 60 88 0 0-1072-163 0-47-5-83-25-70-33-22-15-58 0-62 33-20 27-35 30-88 38-90 25-125 0-55 17-15-7-10-18-22-100 0-150zM3718 4702l38-25 35-15 27-25 40-17 38-38 45-27 50-5 85 0 45 5 32 17 48 48 12 22 0 68 13 47 0 18-13 42-17 15-18 8-117-63-25-20-35-15-58 8-32 32-33 15-40-10-72-35-30-25zM3421 4407l-8 28-12 10-3 10 0 70 33 42 5 15-5 118-23 30-122 22-23 10-32 33-58 0-32-33-55-22-33-20-7-18 7-30 90-90 118-45 47-42 15-35 25-28 38-5 5-7 0-13 20-7zM4236 4390l15 15-13 10-20-8zM3113 3972l28 23 10 37 12 20-47 48-83-38-10-10 30-30 18-32z"/><path fill="#40ff14" fill-rule="evenodd" d="M4298 5177l0 88 88 0 0-88zM4361 5250l2-5 8 2-8 5zM4343 5250l3-5 5 2-5 5zM4321 5250l2-5 5 2-5 5zM4361 5195l15 0-8 5zM4376 5180l2-3 3 5-3 3zM4356 5177l2 5-5 3-2-3zM4238 3727l3 90 50 20 95 0 0-110zM2848 3727l0 325 145 0 60-60 28-15 32-10 35 28 8 27 17 28-10 20-47 42-30-10-30-17-60 0 0 27-13 30-2 93 15 52 57 0 23 23 40 17 22 20-7 33-20 35-18 17-25 15-70 20-150 0 0 798 265 0 0-88-27-20-30-35-13-67 33-53 35-92 30-30 7-28 23-32-58-58-40-15-20-12-12-28 10-57 67-70 25-13 88-25 22-12 50-43 18-40 20-20 30-12 7-10 28-13 25 15-10 43-10 15 0 60 17 20 15 37-7 120-28 35-92 18-23 7-27 18-33 40 0 60 25 12 23 23 20 37 52 48 23 55 7 62 28 58 0 90 742 0 0-88-50-37-10-20-12-60 25-118 10-25 10-5 57-5 33 13 22 20 55 25 93 0 0-1045-153 0-77-10-60-15-93-45-65 0-55 25-10 22-27 28-93 40-105 30-122 0-23 10-37 2-25-10-8-10-10-65-15-45 0-150zM3706 4702l72-42 33-25 30-13 42-40 58-35 60-7 62 0 58 7 30 13 37 30 20 22 13 25 2 75 15 48 0 62-20 18-40 15-37-18-83-50-35-27-22-10-58 12-22 25-33 18-52-5-28-10-47-28-38-32zM4236 4375l20 17 7 15-25 13-35-13 8-12z"/><path fill="#a0ff00" fill-rule="evenodd" d="M4258 3727l3 90 32 13 93 0 0-103zM2848 3727l0 305 90 0 55-12 33-30 27-5 18-10 42-13 25 15 18 18 10 30 20 27-23 35-27 25-23 10-30-7-30-15-22 10-35 35-5 17 0 75 5 18 57 12 23 28 47 27 28 25-5 33-10 27-40 38-20 10-48 12-30 20-37 5-20 8-93 0 0 765 250 0 0-88-40-37-10-18-10-67 40-75 20-60 13-25 15-15 5-40 7-20-47-50-38-20-20-45 10-65 8-13 65-65 125-35 27-27 25-13 13-20 10-30 17-17 25-10 18-15 22-8 15 0 28 20-15 118 17 30 8 30-10 117-15 25-18 18-75 15-45 20-32 30-8 17 15 50 28 25 22 40 55 58 18 47 12 70 33 58 0 90 710 0 0-88-28-17-15-18-10-22-12-58 25-120 12-32 18-10 62-8 48 15 30 33 22 10 93 0 0-1023-160 0-80-10-73-15-70-37-65 0-22 10-58 60-85 35-117 30-98 7-30 8-60 0-42-18-8-12-2-55-5-18-23-37 0-148zM3693 4702l105-67 38-18 50-45 55-32 50-8 80 0 52 8 23 7 32 20 35 33 10 17 8 23 0 65 7 25 20 30 0 62-22 35-33 10-27 3-50-23-30-27-45-25-50-38-35 10-43 33-35 15-60-3-62-27-58-55zM4188 4407l13-30 15-12 15-5 17 5 13 12 12 25-5 10-30 13zM4093 4285l0 7-10 15-20 15-65 0-12-7-18-23 8-10 25-15 37-5 20-7 13 5z"/><path fill="#e0ff00" fill-rule="evenodd" d="M4278 3727l3 90 15 5 90 0 0-95zM2848 3727l0 285 90 0 73-30 35-5 67-20 20 10 28 25 12 30 23 30-18 35-27 28-35 15-38-3-25-7-50 50 3 60 47 17 43 50 25 13 40 35-3 50-12 32-45 30-35 10-38 25-87 38-93 0 0 735 235 0 0-88-22-20-15-25-13-77 10-28 30-52 20-63 18-32 0-53-13-25-25-25-20-12-25-55 0-45 8-38 67-77 15-8 53-5 52-12 33-33 37-17 5-8 5-32 18-23 27-10 23-17 22-5 18 0 40 27 0 63-10 57 12 30 3 45-10 100-18 30-17 18-80 22-35 18-33 32 13 33 17 20 38 65 52 60 28 110 22 30 18 35 0 90 185 0 0-88 10-5 12 5 0 88 470 0 0-90-20-10-20-28-17-85 30-130 10-22 10-10 45-10-48-18-35-37-55-33-27-25-38 20-30 23-40 12-10 10-15-5-50-2-52-20-63-63-20-40 33-25 120-67 45-43 60-35 57-10 65 0 83 15 32 15 10 13 28 17 17 28 10 40 0 52 20 28 15 32-2 73-13 30-15 15 50 50 88 0 0-630-93 0-27 10-13 17-5 20 15 8 13 15 10 37-48 23-37-8-23-12-67 0-13-33-10-10-20-7-97-8-93 0-5-5 10-10 30-10 8-7 12-33 33-15 35-25 22-5 35-17 50-3 40-12 15-20 3-18 7-5 70 0 18 38 35 15 90 0 0-283-153 0-50-10-90-5-37-7-55-33-58 3-27 32-55 38-130 37-133 20-42 10-28 13-22-10-50-8-53-25-5-57-15-18-15-40 0-150-65 0 0 88-10 5-10-5 0-88z"/><path fill="#ffd800" fill-rule="evenodd" d="M4298 3727l0 8 5 2-5 3 0 12 5 3-5 5 5 5-5 2 0 48 88 0 0-48-5-2 5-3 0-22-5-3 5-2 0-8zM4371 3780l2-3 3 5-3 3zM4328 3757l3-2 2 5-2 2zM4378 3755l3-3 2 5-2 3zM4366 3757l2-5 5 3-5 5zM4321 3755l2-3 3 5-3 3zM4308 3757l3-5 5 3-5 5zM4338 3752l3-2 2 5-2 2zM4311 3737l2-2 3 5-3 2zM4306 3730l2-3 3 5-3 3zM2848 3727l0 88 5 0-5 7 0 170 88 0 55-20 65-5 57-15 33 18 22 22 8 18 32 42-20 40-17 23-53 22-62 8-25 25 17 50 38 40 12 25 48 32 27 30 0 118-57 2 2 15-5 20-60 0-82 40-28 5-95 0 0 718 220 0 0-88-20-22-12-33-8-67 10-30 38-73 10-42 12-28 0-25-7-40-38-35-32-75 0-75 5-22 17-23 10-2 10-25 25-25 23-10 60 0 2-35 60 0 28-18 30-7 2-93 118 0 50 35 10 60-15 55 7 43 0 30-12 107-13 25-27 30-33 8-47 20-35 20-18 17 58 98 62 80 18 82 10 20 22 20 23 55 0 88 115 0 0-88 50-15 32 3 38 12 0 88 412 0 0-88-17-7-18-25-20-88 15-50 18-90 7-20 15-17-45-48-57-35-15-15-58 40-37 13-10 10-10 30-5 2-10-20-23-15-85-20-12-17-48-43-32-60 47-35 110-60 58-52 55-30 57-10 70 0 78 12 32 10 25 28 33 17 22 60 8 45 32 75 0 118 88 0 0-530-88 0 0 15 5 2-5 3 0 37-30 18-32 10-55-13-65 5-25-12-30-5-28-18-80-22-70 0-17-10-43-13 28-17 32-43 43-10 77-50 20-2 38-18 22-5 15-7 18-23 62-17 63-5 55 20 90 0 0-225-150 0-55-10-125 0-60-25-35 12-95 53-43 5-55 15-155 22-65 23-20 12-25-17-45-10-42-20-33-8-10-7-5-23-20-35 0-102-62 0-30-15 0-88-368 0-2 5-3-5zM4301 4790l2-3 3 5-3 3zM3151 4470l2-3 5 8-5 2zM2921 3860l2-3 3 5-3 3zM2888 3860l3-3 2 5-2 3zM2848 3860l3-3 2 5-2 3zM2883 3842l3-2 2 5-2 2zM2888 3835l10 0-5 5zM2901 3820l5-5 5 2-3 5zM2876 3817l2-2 5 5-5 2zM2866 3817l5-2 5 5-5 2zM2861 3812l2 5-5 3-2-3zM3006 3792l2-5 10 3zM2898 3787l3-2 2 5-2 2zM2893 3785l3 5-5 2-3-2zM2901 3782l2-2 3 5-3 2zM2941 3767l2-5 5 3-5 5zM2968 3765l5-5 5 2-2 5zM2856 3760l2-3 3 5-3 3zM2946 3757l2-2 3 5-3 2zM2863 3757l3-2 2 5-2 2zM3048 3755l3-3 2 5-2 3zM3028 3752l5 5-2 5-8-5zM3016 3757l2-5 5 3-5 5zM3003 3755l5-3 3 5-5 3zM2991 3755l7-3 3 5-8 3zM2963 3752l3 5-5 3-3-3zM2938 3757l3-5 5 3-5 5zM2933 3755l3-3 2 5-2 3zM2881 3757l2-5 5 3-5 5zM2871 3755l2-3 3 5-3 3zM2923 3752l3-2 2 5-2 2z"/><path fill="#ff9000" fill-rule="evenodd" d="M2848 4570l0 695 203 0 0-88-23-52-7-65 12-45 38-73 5-37 7-20-10-60-27-33-35-90-8-82-12-25-23-18-22-7zM2848 3910l0 50 90 0 50-10 38 5 35 0 32-8 33 3 22 12 30 30 43 58-8 27-22 38-75 35-28 5-25 17 25 58 15 17 18 40 87 63 0 62 13 25 10 10 12-10 15-30 0-60 33-20 60 15 30 18 32 5 33 17 27 25 8 73-8 42 0 70-5 13-12 102-18 33-27 27-58 23-52 32 60 103 55 75 7 65 18 30 35 20 20 27 25 13 75 0 35-8 30 0 47 10 18 20 0 88 360 0 0-88-10-17-3-40-17-65 15-45 15-65 5-48 7-17-37-38-60-37-35 22-48 18-17 20-5 15-18 12-40-35-30-12-45-10-12-8-48-45-45-80 38-32 137-75 40-43 68-40 60-7 82 0 35-13 58 23 27 35 55 35 38 100 90 0 0-265-90 0-18 10-35 10-72-3-53 13-22-18-33-12-67-8-48-20-65 0-37-25-38-10-17-10 60-60 55-17 62-43 58-17 62-43 148-40 57 23 93 0 0-195-148 0-47-8-145 0-48-5-57 13-30 17-25 25-63 0-180 23-35 10-82 42-35-30-23-5-57-25-43-7-22-10-13-108-10-25-22-15-58-7-27-23 0-90-85 0 0 90-25 20-53 13-22 10-45 37-48 13z"/><path fill="#ff5000" fill-rule="evenodd" d="M2848 4590l0 675 188 0 0-93-10-22-8-38-2-62 17-60 30-50 5-50-5-35-30-63-30-87-7-50-18-38-15-15-25-12zM4131 4467l45 23 35 52 27 20 35 18 23 52 90 0 0-200-93 0-37 13-83 7zM3056 3885l-48 50 45 10 65-5 33 15 42 40 43 57-10 35-18 30-25 15-92 38 2 12 23 38 7 25 20 37 35 30 50 30 13-2 50-33 25 13 37 10 35 20 50 17 33 23 17 20 5 62-7 55 0 70-18 60-10 63-17 30-33 32-40 15-42 25 37 75 53 75 12 25 5 63 10 17 18 18 32 15 30 25 180 0 43 42 0 88 310 0 0-93 7-20 3-37-5-20-20-38 17-30 23-87-3-60-35-30-45-23-30 13-27 5-25 20-25 35-8 5-15-5-42-33-90-35-40-40-18-37-35-53 30-30 50-27 18-15 87-40 35-43 63-40 50-10 85 0 40-15 12-12-12-18-35-20-60-5-60-15-63 0-20-20-30-17-67-20-5-8 25-17 40-48 72-22 28-18 15-17 77-25 53-40 67-18 95-35 60 23 93 0 0-168-175 0-28-5-150 3-35 10-57 5-28 22-30 15-80 0-157 15-40 15-78 50-50-45-67-25-60-10-20-22-3-50-15-60-22-20-35 7-23 13z"/><path fill="#ff1800" fill-rule="evenodd" d="M2848 4612l0 653 173 0 0-88-13-65 0-75 15-65 23-32 0-63-25-72-8-45-17-48-15-22-10-43-8-12-25-23zM4188 4467l18 30 7 28 25 22 30 8 30 22 88 0 0-132-90 0-25 7-55 5zM3148 3910l-25 22 28 10 32 20 20 20 28 43 27 25-15 57-20 23-27 15-25 5-48 20 18 62 22 38 25 25 40 25 13-3 52-35 10 10 35 18 55 17 23 20 60 28 27 30 5 62-5 48 0 82-15 80-10 25-10 10-15 40-15 23-17 17-63 30 25 70 53 75 10 33 2 60 20 22 35 10 25 18 178 0 35 30 32 37 0 88 260 0 0-93 18-57-20-33-5-32 15-38 20-25 10-40 0-22-10-35-60-43-60 13-20 20-8 17-30 23-27-8-25-15-18-17-95-38-35-35-20-52-15-23-27-25 0-7 15-18 37-27 23-10 27-25 93-35 17-28 23-22 20-10 22-23 15-7 50-10 98 0 30-18-13-12-20-10-67-3-40-7-68 0-47-43-78-20-17-17 0-13 30-25 47-52 68-15 27-18 28-30 60-10 25-15 27-30 10-5 73-15 67-35 40-7 50 17 93 0 0-127-330-3-35 13-20 17-60 0-13 10-37 15-245 10-33 15-15 20-57 35-13 13-30-25-37-43-50-17-55-5-18-8-22-27-3-60-22-53-58 20-65 0z"/><path fill="#ff0000" fill-rule="evenodd" d="M2848 4635l0 630 155 0-5-228 5-65 8-27 0-80-10-105-8-15-15-5-17-18-10-25-3-47-10-15zM4221 4467l10 60 7 5 35 3 23 7 90 0 0-82-148 2zM3166 3927l-8 8 15 7 20 3 23 17 7 18 0 12 10 13 15 2 20 15 13 30-8 60-10 20-12 13-35 15-45 5-15 7 7 60 10 15 20 8 18 20 5 15 17 10 18-13 2-10 18-20 25-7 27 22 8 18 20 10 27 2 30 10 25 20 8 15 50 23 22 30 3 222-8 78-10 22-30 23-17 50-20 15-18 2-20 10 5 58 13 17 17 8 18 17 7 18 8 40 2 80 15 7 20 0 28 8 190 2 22 18 10 22 18 18 15 5 15 12 10 18 2 95 203 0 0-103 7-45-10-45 3-50 7-30 10-17 33-23 2-15-5-15-22-10-13-15-5-15-17-12-60 5-15 40-20 15-48 2-40-10-25-17-12-25-20-8-45-5-28-12-12-13-15-35-8-50-7-10-15-5-18-15-10-27 20-28 53-27 30-30 20-10 40-8 30-12 5-10 22-18 5-10 50-50 18-10 35-10 130-5 10-5-10-7-180-13-15-7-13-13-10-20-17-12-60-8-23-12-17-28 7-15 45-35 13-25 17-17 25-10 50-5 15-13 8-22 15-15 32-10 48-3 12-10 8-25 17-15 28-7 62-5 33-40 20-8 72-5 45 8 88 0 0-83-330 0-13 8-7 17-15 15-15 8-65 0-50 10-248 0-15 7-7 15-18 18-47 25-23 25-7 2-88-85-30-10-60 0-25-7-15-15-7-18-3-70-7-15z"/><path fill="#fa0000" fill-rule="evenodd" d="M3601 4762l45 18 0-18zM3338 4052l-10 53 3 57 10 55 10 23 0 15 10 32 42 5 28 10 20 20 7 25 43 15 15 18 7 32 5 290 23 25 32 25 5 0 3-62 7-18 13-12 45-13 12-20 23-20 27-10 45-5 18-7 7-18 50-40 10-22 18-18 42-15 75-5-112-12-25-18-10-30-8-5-65-7-15-5-20-18-10-22 8-23 10-12 27-13 13-12 5-23 17-22 28-10 57-5 0-38-5-12-55-78-47-50-133-2-5 2-7 23-15 15-48 20-10 17-30 23-17-8-18-17-5-13-20-17-27-10-15-15-5-18z"/><path fill="#ea0000" fill-rule="evenodd" d="M3648 4057l-5 23-15 17-50 13-10 22-17 18-15 7-20 0-23-10-12-15-5-20-8-7-40 2-10 13 5 72 25 95 18 20 7 38 33 7 12 10 10 38 0 42 20 40 28 93 27 52 13 15 30 3 10-30 22-18 93-12 12-35 45-25 8-30 12-15 23-10 25-3-48-10-15-20-5-30-75-7-15-5-15-13-10-27 0-13 10-27 18-15 27-10 8-45 10-10 17-8-62-90-35-35z"/><path fill="#ce0000" fill-rule="evenodd" d="M3586 4112l-5 28-18 20-25 7-30 0-17 5 0 28 12 60 15 40 28 47 92 113 35 80 20 20 15 5 20-3 35-27 23-33 20-42 5-45-3-8-75-2-20-13-5-17 0-50 13-28 35-10-13-32-37-65-33-35-60-43z"/><path fill="#aa0000" fill-rule="evenodd" d="M3596 4225l-8 22 15 35 23 15 17-2 8-10 0-25-13-23-20-15z"/></g></g><rect x="290.70" y="378.60" width="141.90" height="142.00" fill="none" stroke="#303040" stroke-width="0.9"/><path d="M290.70 520.60v5.50M290.70 520.60h-5.50M294.25 520.60v2.80M290.70 517.05h-2.80M297.80 520.60v2.80M290.70 513.50h-2.80M301.34 520.60v2.80M290.70 509.95h-2.80M304.89 520.60v2.80M290.70 506.40h-5.50M308.44 520.60v2.80M290.70 502.85h-2.80M311.99 520.60v2.80M290.70 499.30h-2.80M315.53 520.60v2.80M290.70 495.75h-2.80M319.08 520.60v5.50M290.70 492.20h-5.50M322.63 520.60v2.80M290.70 488.65h-2.80M326.18 520.60v2.80M290.70 485.10h-2.80M329.72 520.60v2.80M290.70 481.55h-2.80M333.27 520.60v2.80M290.70 478.00h-5.50M336.82 520.60v2.80M290.70 474.45h-2.80M340.37 520.60v2.80M290.70 470.90h-2.80M343.91 520.60v2.80M290.70 467.35h-2.80M347.46 520.60v5.50M290.70 463.80h-5.50M351.01 520.60v2.80M290.70 460.25h-2.80M354.56 520.60v2.80M290.70 456.70h-2.80M358.10 520.60v2.80M290.70 453.15h-2.80M361.65 520.60v2.80M290.70 449.60h-5.50M365.20 520.60v2.80M290.70 446.05h-2.80M368.75 520.60v2.80M290.70 442.50h-2.80M372.29 520.60v2.80M290.70 438.95h-2.80M375.84 520.60v5.50M290.70 435.40h-5.50M379.39 520.60v2.80M290.70 431.85h-2.80M382.94 520.60v2.80M290.70 428.30h-2.80M386.48 520.60v2.80M290.70 424.75h-2.80M390.03 520.60v2.80M290.70 421.20h-5.50M393.58 520.60v2.80M290.70 417.65h-2.80M397.12 520.60v2.80M290.70 414.10h-2.80M400.67 520.60v2.80M290.70 410.55h-2.80M404.22 520.60v5.50M290.70 407.00h-5.50M407.77 520.60v2.80M290.70 403.45h-2.80M411.32 520.60v2.80M290.70 399.90h-2.80M414.86 520.60v2.80M290.70 396.35h-2.80M418.41 520.60v2.80M290.70 392.80h-5.50M421.96 520.60v2.80M290.70 389.25h-2.80M425.50 520.60v2.80M290.70 385.70h-2.80M429.05 520.60v2.80M290.70 382.15h-2.80M432.60 520.60v5.50M290.70 378.60h-5.50" stroke="#404048" stroke-width="0.9" fill="none"/><g font-family="'Liberation Sans', Arial, sans-serif" font-weight="bold" font-size="8.2" fill="#151515" stroke="#151515" stroke-width="0.2"><text x="290.70" y="538.10" text-anchor="middle">0.0</text><text x="319.08" y="538.10" text-anchor="middle">0.4</text><text x="347.46" y="538.10" text-anchor="middle">0.8</text><text x="375.84" y="538.10" text-anchor="middle">1.2</text><text x="404.22" y="538.10" text-anchor="middle">1.6</text><text x="432.60" y="538.10" text-anchor="middle">2.0</text><text x="281.40" y="523.50" text-anchor="end">0.0</text><text x="281.40" y="509.30" text-anchor="end">0.2</text><text x="281.40" y="495.10" text-anchor="end">0.4</text><text x="281.40" y="480.90" text-anchor="end">0.6</text><text x="281.40" y="466.70" text-anchor="end">0.8</text><text x="281.40" y="452.50" text-anchor="end">1.0</text><text x="281.40" y="438.30" text-anchor="end">1.2</text><text x="281.40" y="424.10" text-anchor="end">1.4</text><text x="281.40" y="409.90" text-anchor="end">1.6</text><text x="281.40" y="395.70" text-anchor="end">1.8</text><text x="281.40" y="381.50" text-anchor="end">2.0</text></g><text x="361.65" y="545.80" text-anchor="middle" font-family="'Liberation Sans', Arial, sans-serif" font-weight="bold" font-size="8.4" fill="#151515" stroke="#151515" stroke-width="0.2">x [mm]</text><text transform="translate(265.90,449.60) rotate(-90)" text-anchor="middle" font-family="'Liberation Sans', Arial, sans-serif" font-weight="bold" font-size="8.4" fill="#151515" stroke="#151515" stroke-width="0.2">y [mm]</text><rect x="293.00" y="381.10" width="34.60" height="11.40" fill="#fff" stroke="#505060" stroke-width="0.9"/><text x="294.80" y="389.60" font-family="'Liberation Sans', Arial, sans-serif" font-size="8.1" fill="#202020" stroke="#202020" stroke-width="0.12">PTFE 30</text><rect x="433.10" y="378.00" width="1.70" height="143.40" fill="#b4b4b8"/><rect x="435.20" y="378.00" width="51.50" height="143.40" fill="#fff" stroke="#454545" stroke-width="0.9"/><rect x="437.10" y="382.50" width="7.40" height="134.00" fill="url(#cbg)"/><path d="M443.50 382.50h6.00M443.50 385.85h3.60M443.50 389.20h3.60M443.50 392.55h3.60M443.50 395.90h6.00M443.50 399.25h3.60M443.50 402.60h3.60M443.50 405.95h3.60M443.50 409.30h6.00M443.50 412.65h3.60M443.50 416.00h3.60M443.50 419.35h3.60M443.50 422.70h6.00M443.50 426.05h3.60M443.50 429.40h3.60M443.50 432.75h3.60M443.50 436.10h6.00M443.50 439.45h3.60M443.50 442.80h3.60M443.50 446.15h3.60M443.50 449.50h6.00M443.50 452.85h3.60M443.50 456.20h3.60M443.50 459.55h3.60M443.50 462.90h6.00M443.50 466.25h3.60M443.50 469.60h3.60M443.50 472.95h3.60M443.50 476.30h6.00M443.50 479.65h3.60M443.50 483.00h3.60M443.50 486.35h3.60M443.50 489.70h6.00M443.50 493.05h3.60M443.50 496.40h3.60M443.50 499.75h3.60M443.50 503.10h6.00M443.50 506.45h3.60M443.50 509.80h3.60M443.50 513.15h3.60M443.50 516.50h6.00" stroke="#404048" stroke-width="0.8" fill="none"/><g font-family="'Liberation Sans', Arial, sans-serif" font-weight="bold" font-size="6.4" fill="#151515"><text x="453.30" y="385.00">100</text><text x="453.30" y="398.40">80</text><text x="453.30" y="411.80">60</text><text x="453.30" y="425.20">40</text><text x="453.30" y="438.60">20</text><text x="453.30" y="452.00">0</text><text x="450.90" y="465.40">-20</text><text x="450.90" y="478.80">-40</text><text x="450.90" y="492.20">-60</text><text x="450.90" y="505.60">-80</text><text x="450.90" y="519.00">-100</text></g><text x="467.50" y="451.60" font-family="'Liberation Sans', Arial, sans-serif" font-weight="bold" font-size="6.0" fill="#151515" stroke="#151515" stroke-width="0.1">z [μm]</text></svg></body></html>
